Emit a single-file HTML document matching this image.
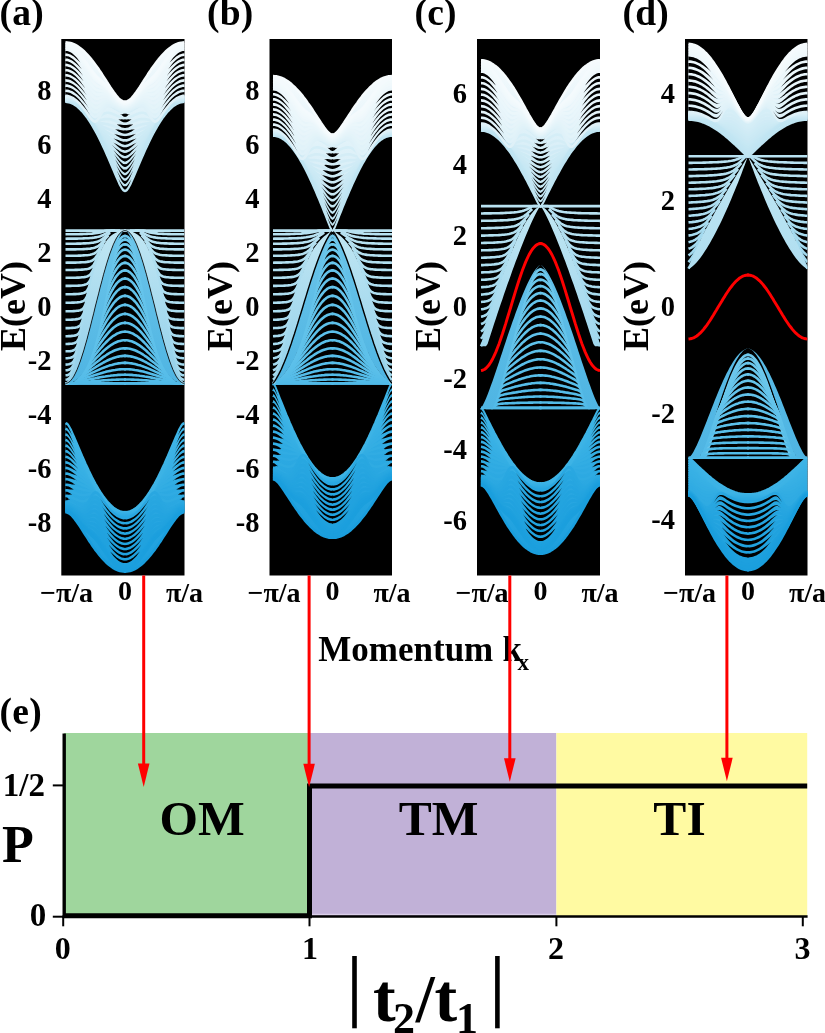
<!DOCTYPE html>
<html><head><meta charset="utf-8"><title>Band structures and phase diagram</title>
<style>html,body{margin:0;padding:0;background:#fff;width:825px;height:1033px;overflow:hidden}svg{display:block}</style>
</head><body>
<svg width="825" height="1033" viewBox="0 0 825 1033">
<style>
text{font-family:"Liberation Serif","Times New Roman",serif;font-weight:bold;fill:#000}
.lab{font-size:37.5px;letter-spacing:0.3px}
.tk{font-size:28.5px}
.xt{font-size:28px}
.el{font-size:36px}
</style>
<rect x="61.3" y="39.0" width="123.2" height="536.5" fill="#000"/>
<clipPath id="cla"><rect x="61.3" y="39.0" width="123.2" height="536.5"/></clipPath>
<linearGradient id="gia" gradientUnits="userSpaceOnUse" x1="0" y1="230.6" x2="0" y2="383.4"><stop offset="0" stop-color="#6cc5ea"/><stop offset="1" stop-color="#4fb5e3"/></linearGradient>
<linearGradient id="goa" gradientUnits="userSpaceOnUse" x1="0" y1="230.6" x2="0" y2="383.4"><stop offset="0" stop-color="#c0e6f3"/><stop offset="1" stop-color="#93d0ea"/></linearGradient>
<linearGradient id="gta" gradientUnits="userSpaceOnUse" x1="0" y1="42.4" x2="0" y2="190.9"><stop offset="0" stop-color="#f6fbfd"/><stop offset="1" stop-color="#c6e7f4"/></linearGradient>
<linearGradient id="gba" gradientUnits="userSpaceOnUse" x1="0" y1="423.1" x2="0" y2="571.6"><stop offset="0" stop-color="#3bb2e5"/><stop offset="1" stop-color="#1c9fde"/></linearGradient>
<g clip-path="url(#cla)">
<g id="ha" fill="none" stroke-width="2.6" stroke-linejoin="round">
<path d="M184.5 423.1 182.8 424 181.2 426.3 179.5 429.4 177.9 433 176.2 436.7 174.6 440.6 172.9 444.5 171.3 448.3 169.6 452.2 168 456 166.3 459.8 164.7 463.5 163 467.1 161.4 470.6 159.7 474 158.1 477.3 156.4 480.5 154.8 483.6 153.1 486.5 151.4 489.3 149.8 492 148.1 494.5 146.5 496.9 144.8 499.1 143.2 501.1 141.5 503 139.9 504.7 138.2 506.3 136.6 507.7 134.9 508.9 133.3 509.9 131.6 510.7 130 511.4 128.3 511.8 126.7 512.1 125 512.2 124.5 512.2 124.5 571.6 125 571.6 126.7 571.5 128.3 571.3 130 570.9 131.6 570.4 133.3 569.8 134.9 569 136.6 568.1 138.2 567 139.9 565.8 141.5 564.5 143.2 563 144.8 561.4 146.5 559.7 148.1 557.9 149.8 556 151.4 553.9 153.1 551.8 154.8 549.6 156.4 547.3 158.1 544.9 159.7 542.4 161.4 539.9 163 537.4 164.7 534.8 166.3 532.2 168 529.6 169.6 527.1 171.3 524.6 172.9 522.2 174.6 519.9 176.2 517.8 177.9 515.9 179.5 514.4 181.2 513.2 182.8 512.5 184.5 512.2Z" fill="url(#gba)" stroke="none"/>
<path d="M124 512.1l1 .1 1.7 -.1 1.6 -.3 1.7 -.4 1.6 -.7 1.7 -.8 1.6 -1 1.7 -1.2 1.6 -1.4 1.7 -1.6 1.6 -1.7 1.7 -1.9 1.6 -2 1.7 -2.2 1.6 -2.4 1.7 -2.5 1.6 -2.7 1.7 -2.8 1.7 -2.9 1.6 -3.1 1.7 -3.2 1.6 -3.3 1.7 -3.4 1.6 -3.5 1.7 -3.6 1.6 -3.7 1.7 -3.8 1.6 -3.8 1.7 -3.9 1.6 -3.8 1.7 -3.9 1.6 -3.9 1.7 -3.7 1.6 -3.6 1.7 -3.1 1.6 -2.3 1.7 -.9" stroke="#3eb4e6"/>
<path d="M124 512.5l1 0 1.7 0 1.6 -.2 1.7 -.3 1.6 -.5 1.7 -.6 1.6 -.7 1.7 -.9 1.6 -1.1 1.7 -1.2 1.6 -1.4 1.7 -1.7 1.6 -1.8 1.7 -2 1.6 -2.1 1.7 -2.4 1.6 -2.5 1.7 -2.7 1.7 -2.9 1.6 -3 1.7 -3.1 1.6 -3.3 1.7 -3.3 1.6 -3.5 1.7 -3.5 1.6 -3.7 1.7 -3.7 1.6 -3.7 1.7 -3.8 1.6 -3.8 1.7 -3.8 1.6 -3.7 1.7 -3.6 1.6 -3.4 1.7 -3 1.6 -2.1 1.7 -.8" stroke="#3db3e6"/>
<path d="M124 512.8l1 .1 1.7 -.1 1.6 -.1 1.7 -.2 1.6 -.3 1.7 -.4 1.6 -.5 1.7 -.7 1.6 -.9 1.7 -1 1.6 -1.2 1.7 -1.5 1.6 -1.6 1.7 -1.8 1.6 -2.1 1.7 -2.2 1.6 -2.5 1.7 -2.6 1.7 -2.8 1.6 -2.9 1.7 -3.1 1.6 -3.2 1.7 -3.3 1.6 -3.4 1.7 -3.5 1.6 -3.5 1.7 -3.6 1.6 -3.6 1.7 -3.6 1.6 -3.6 1.7 -3.5 1.6 -3.5 1.7 -3.4 1.6 -3.1 1.7 -2.7 1.6 -1.9 1.7 -.7" stroke="#3cb3e5"/>
<path d="M124 513.2l1 0 1.7 0 1.6 -.1 1.7 -.2 1.6 -.2 1.7 -.3 1.6 -.5 1.7 -.6 1.6 -.7 1.7 -1 1.6 -1.1 1.7 -1.3 1.6 -1.6 1.7 -1.8 1.6 -2 1.7 -2.2 1.6 -2.4 1.7 -2.5 1.7 -2.8 1.6 -2.9 1.7 -3 1.6 -3.2 1.7 -3.2 1.6 -3.3 1.7 -3.3 1.6 -3.3 1.7 -3.4 1.6 -3.3 1.7 -3.3 1.6 -3.3 1.7 -3.2 1.6 -3 1.7 -3 1.6 -2.7 1.7 -2.3 1.6 -1.7 1.7 -.6" stroke="#3bb2e5"/>
<path d="M124 513.5l1 0 1.7 0 1.6 -.1 1.7 -.1 1.6 -.3 1.7 -.3 1.6 -.5 1.7 -.6 1.6 -.7 1.7 -1 1.6 -1.1 1.7 -1.4 1.6 -1.5 1.7 -1.8 1.6 -2 1.7 -2.2 1.6 -2.4 1.7 -2.6 1.7 -2.8 1.6 -2.9 1.7 -3 1.6 -3 1.7 -3.1 1.6 -3.1 1.7 -3.1 1.6 -3 1.7 -3 1.6 -3 1.7 -2.8 1.6 -2.8 1.7 -2.7 1.6 -2.6 1.7 -2.5 1.6 -2.2 1.7 -2 1.6 -1.3 1.7 -.5" stroke="#39b1e5"/>
<path d="M124 513.8l1 0 1.7 0 1.6 -.1 1.7 -.1 1.6 -.3 1.7 -.3 1.6 -.5 1.7 -.6 1.6 -.7 1.7 -1 1.6 -1.1 1.7 -1.4 1.6 -1.5 1.7 -1.8 1.6 -2 1.7 -2.3 1.6 -2.4 1.7 -2.6 1.7 -2.7 1.6 -2.9 1.7 -2.9 1.6 -2.9 1.7 -3 1.6 -2.8 1.7 -2.8 1.6 -2.8 1.7 -2.6 1.6 -2.5 1.7 -2.5 1.6 -2.3 1.7 -2.2 1.6 -2.2 1.7 -2 1.6 -1.8 1.7 -1.6 1.6 -1.1 1.7 -.4" stroke="#38b0e5"/>
<path d="M124 514.2l1 0 1.7 0 1.6 -.1 1.7 -.2 1.6 -.2 1.7 -.4 1.6 -.4 1.7 -.6 1.6 -.8 1.7 -1 1.6 -1.1 1.7 -1.4 1.6 -1.6 1.7 -1.8 1.6 -2 1.7 -2.2 1.6 -2.4 1.7 -2.6 1.7 -2.7 1.6 -2.9 1.7 -2.8 1.6 -2.8 1.7 -2.7 1.6 -2.6 1.7 -2.4 1.6 -2.4 1.7 -2.2 1.6 -2.2 1.7 -2 1.6 -1.9 1.7 -1.8 1.6 -1.7 1.7 -1.7 1.6 -1.4 1.7 -1.3 1.6 -.9 1.7 -.3" stroke="#37b0e4"/>
<path d="M124 514.5l1 0 1.7 0 1.6 -.1 1.7 -.2 1.6 -.2 1.7 -.4 1.6 -.4 1.7 -.6 1.6 -.8 1.7 -1 1.6 -1.1 1.7 -1.4 1.6 -1.6 1.7 -1.8 1.6 -2 1.7 -2.2 1.6 -2.5 1.7 -2.6 1.7 -2.6 1.6 -2.8 1.7 -2.6 1.6 -2.6 1.7 -2.4 1.6 -2.3 1.7 -2.1 1.6 -2 1.7 -1.8 1.6 -1.7 1.7 -1.6 1.6 -1.6 1.7 -1.4 1.6 -1.4 1.7 -1.3 1.6 -1.2 1.7 -.9 1.6 -.7 1.7 -.3" stroke="#36afe4"/>
<path d="M124 514.8l1 0 1.7 0 1.6 -.1 1.7 -.1 1.6 -.3 1.7 -.3 1.6 -.5 1.7 -.6 1.6 -.8 1.7 -1 1.6 -1.1 1.7 -1.4 1.6 -1.6 1.7 -1.8 1.6 -2 1.7 -2.3 1.6 -2.4 1.7 -2.6 1.7 -2.6 1.6 -2.6 1.7 -2.5 1.6 -2.2 1.7 -2.1 1.6 -1.9 1.7 -1.6 1.6 -1.6 1.7 -1.4 1.6 -1.4 1.7 -1.2 1.6 -1.2 1.7 -1.1 1.6 -1.1 1.7 -1 1.6 -1 1.7 -.7 1.6 -.6 1.7 -.2" stroke="#35aee4"/>
<path d="M124 515.2l1 0 1.7 -.1 1.6 -.1 1.7 -.1 1.6 -.3 1.7 -.3 1.6 -.5 1.7 -.6 1.6 -.8 1.7 -1 1.6 -1.1 1.7 -1.4 1.6 -1.6 1.7 -1.8 1.6 -2.1 1.7 -2.2 1.6 -2.4 1.7 -2.5 1.7 -2.6 1.6 -2.4 1.7 -2.2 1.6 -1.9 1.7 -1.6 1.6 -1.4 1.7 -1.2 1.6 -1.1 1.7 -1.1 1.6 -1 1.7 -.9 1.6 -.9 1.7 -.9 1.6 -.8 1.7 -.8 1.6 -.8 1.7 -.6 1.6 -.4 1.7 -.2" stroke="#34aee3"/>
<path d="M124 515.5l1 0 1.7 0 1.6 -.1 1.7 -.2 1.6 -.2 1.7 -.4 1.6 -.5 1.7 -.6 1.6 -.8 1.7 -1 1.6 -1.1 1.7 -1.4 1.6 -1.6 1.7 -1.9 1.6 -2 1.7 -2.2 1.6 -2.4 1.7 -2.5 1.7 -2.3 1.6 -2.2 1.7 -1.8 1.6 -1.4 1.7 -1.1 1.6 -.9 1.7 -.7 1.6 -.7 1.7 -.6 1.6 -.7 1.7 -.7 1.6 -.7 1.7 -.7 1.6 -.7 1.7 -.6 1.6 -.7 1.7 -.5 1.6 -.4 1.7 -.1" stroke="#32ade3"/>
<path d="M124 515.8l1 0 1.7 0 1.6 -.1 1.7 -.2 1.6 -.2 1.7 -.4 1.6 -.5 1.7 -.6 1.6 -.8 1.7 -1 1.6 -1.1 1.7 -1.4 1.6 -1.7 1.7 -1.8 1.6 -2 1.7 -2.3 1.6 -2.3 1.7 -2.3 1.7 -2.1 1.6 -1.8 1.7 -1.3 1.6 -.8 1.7 -.5 1.6 -.2 1.7 -.3 1.6 -.2 1.7 -.4 1.6 -.4 1.7 -.5 1.6 -.6 1.7 -.6 1.6 -.6 1.7 -.6 1.6 -.6 1.7 -.4 1.6 -.4 1.7 -.1" stroke="#31ace3"/>
<path d="M124 516.1l1 .1 1.7 -.1 1.6 -.1 1.7 -.1 1.6 -.3 1.7 -.4 1.6 -.4 1.7 -.7 1.6 -.8 1.7 -1 1.6 -1.1 1.7 -1.4 1.6 -1.7 1.7 -1.8 1.6 -2 1.7 -2.2 1.6 -2.3 1.7 -2.1 1.7 -1.8 1.6 -1.2 1.7 -.6 1.6 -.1 1.7 .3 1.6 .3 1.7 .3 1.6 .1 1.7 -.1 1.6 -.2 1.7 -.5 1.6 -.5 1.7 -.6 1.6 -.6 1.7 -.7 1.6 -.6 1.7 -.4 1.6 -.4 1.7 -.1" stroke="#30abe3"/>
<path d="M124 516.5l1 0 1.7 0 1.6 -.1 1.7 -.2 1.6 -.3 1.7 -.3 1.6 -.5 1.7 -.7 1.6 -.8 1.7 -1 1.6 -1.2 1.7 -1.4 1.6 -1.6 1.7 -1.8 1.6 -2.1 1.7 -2.1 1.6 -2.1 1.7 -1.9 1.7 -1.2 1.6 -.5 1.7 .3 1.6 .8 1.7 1.2 1.6 1 1.7 .8 1.6 .4 1.7 0 1.6 -.3 1.7 -.5 1.6 -.6 1.7 -.7 1.6 -.8 1.7 -.7 1.6 -.7 1.7 -.5 1.6 -.4 1.7 -.1" stroke="#2fabe2"/>
<path d="M124 516.8l1 0 1.7 0 1.6 -.1 1.7 -.2 1.6 -.2 1.7 -.4 1.6 -.5 1.7 -.6 1.6 -.9 1.7 -1 1.6 -1.1 1.7 -1.5 1.6 -1.6 1.7 -1.8 1.6 -2 1.7 -2.1 1.6 -1.9 1.7 -1.4 1.7 -.6 1.6 .5 1.7 1.4 1.6 1.9 1.7 2 1.6 1.7 1.7 1.2 1.6 .6 1.7 0 1.6 -.4 1.7 -.6 1.6 -.9 1.7 -.9 1.6 -1 1.7 -.9 1.6 -.8 1.7 -.6 1.6 -.4 1.7 -.2" stroke="#2eaae2"/>
<path d="M124 517.1l1 .1 1.7 -.1 1.6 -.1 1.7 -.2 1.6 -.2 1.7 -.4 1.6 -.5 1.7 -.6 1.6 -.8 1.7 -1 1.6 -1.2 1.7 -1.4 1.6 -1.6 1.7 -1.9 1.6 -2 1.7 -2 1.6 -1.9 1.7 -1.4 1.7 -.6 1.6 .5 1.7 1.4 1.6 2 1.7 2 1.6 1.7 1.7 1.2 1.6 .6 1.7 0 1.6 -.3 1.7 -.7 1.6 -.8 1.7 -.9 1.6 -1 1.7 -.9 1.6 -.8 1.7 -.6 1.6 -.4 1.7 -.2" stroke="#2da9e2"/>
<path d="M124 517.5l1 0 1.7 -.1 1.6 0 1.7 -.2 1.6 -.3 1.7 -.3 1.6 -.5 1.7 -.7 1.6 -.8 1.7 -1 1.6 -1.2 1.7 -1.4 1.6 -1.6 1.7 -1.8 1.6 -2 1.7 -2.1 1.6 -1.9 1.7 -1.4 1.7 -.5 1.6 .5 1.7 1.4 1.6 2 1.7 2 1.6 1.8 1.7 1.2 1.6 .6 1.7 0 1.6 -.3 1.7 -.6 1.6 -.9 1.7 -.9 1.6 -.9 1.7 -.9 1.6 -.8 1.7 -.6 1.6 -.4 1.7 -.1" stroke="#2ba9e1"/>
<path d="M124 517.8l1 0 1.7 0 1.6 -.1 1.7 -.2 1.6 -.2 1.7 -.4 1.6 -.5 1.7 -.6 1.6 -.8 1.7 -1 1.6 -1.2 1.7 -1.4 1.6 -1.6 1.7 -1.9 1.6 -2 1.7 -2 1.6 -1.9 1.7 -1.4 1.7 -.5 1.6 .5 1.7 1.4 1.6 2 1.7 2.1 1.6 1.8 1.7 1.2 1.6 .6 1.7 .1 1.6 -.4 1.7 -.6 1.6 -.8 1.7 -.9 1.6 -.9 1.7 -.9 1.6 -.8 1.7 -.6 1.6 -.4 1.7 -.1" stroke="#2aa8e1"/>
<path d="M124 518.1l1 0 1.7 -.1 1.6 -.3 1.7 -.5 1.6 -.8 1.7 -.9 1.6 -1.2 1.7 -1.3 1.6 -1.5 1.7 -1.7 1.6 -1.9 1.7 -2.1 1.6 -2.2 1.7 -2.4 1.6 -2.4 1.7 -2.5 1.6 -2.1 1.7 -1.5 1.7 -.3 1.6 1 1.7 2.1 1.6 2.9 1.7 3 1.6 2.6 1.7 2 1.6 1.2 1.7 .7 1.6 .1 1.7 -.2 1.6 -.4 1.7 -.6 1.6 -.7 1.7 -.6 1.6 -.6 1.7 -.5 1.6 -.3 1.7 -.1" stroke="#29a7e1"/>
<path d="M124 523.2l1 .1 1.7 -.1 1.6 -.4 1.7 -.5 1.6 -.8 1.7 -1 1.6 -1.1 1.7 -1.4 1.6 -1.6 1.7 -1.7 1.6 -1.9 1.7 -2.1 1.6 -2.2 1.7 -2.4 1.6 -2.5 1.7 -2.4 1.6 -2.1 1.7 -1.6 1.7 -.5 1.6 .7 1.7 1.8 1.6 2.4 1.7 2.6 1.6 2.2 1.7 1.6 1.6 .9 1.7 .4 1.6 -.1 1.7 -.4 1.6 -.6 1.7 -.7 1.6 -.7 1.7 -.8 1.6 -.6 1.7 -.6 1.6 -.3 1.7 -.1" stroke="#28a7e0"/>
<path d="M124 528.4l1 0 1.7 -.1 1.6 -.3 1.7 -.6 1.6 -.8 1.7 -1 1.6 -1.2 1.7 -1.5 1.6 -1.5 1.7 -1.8 1.6 -2 1.7 -2 1.6 -2.3 1.7 -2.3 1.6 -2.5 1.7 -2.4 1.6 -2.2 1.7 -1.6 1.7 -.6 1.6 .4 1.7 1.4 1.6 2 1.7 2.1 1.6 1.7 1.7 1.3 1.6 .6 1.7 .1 1.6 -.3 1.7 -.5 1.6 -.8 1.7 -.9 1.6 -.8 1.7 -.9 1.6 -.7 1.7 -.6 1.6 -.4 1.7 -.1" stroke="#27a6e0"/>
<path d="M124 533.5l1 .1 1.7 -.1 1.6 -.4 1.7 -.6 1.6 -.8 1.7 -1.1 1.6 -1.2 1.7 -1.5 1.6 -1.6 1.7 -1.8 1.6 -2 1.7 -2.1 1.6 -2.2 1.7 -2.4 1.6 -2.4 1.7 -2.4 1.6 -2.2 1.7 -1.7 1.7 -.8 1.6 .1 1.7 1.1 1.6 1.5 1.7 1.7 1.6 1.3 1.7 .9 1.6 .3 1.7 -.1 1.6 -.5 1.7 -.8 1.6 -.9 1.7 -1 1.6 -1 1.7 -1 1.6 -.8 1.7 -.6 1.6 -.4 1.7 -.2" stroke="#26a5e0"/>
<path d="M124 538.7l1 0 1.7 -.1 1.6 -.4 1.7 -.6 1.6 -.9 1.7 -1 1.6 -1.3 1.7 -1.5 1.6 -1.7 1.7 -1.8 1.6 -2 1.7 -2.1 1.6 -2.2 1.7 -2.4 1.6 -2.4 1.7 -2.4 1.6 -2.2 1.7 -1.8 1.7 -1 1.6 -.1 1.7 .6 1.6 1.2 1.7 1.2 1.6 .9 1.7 .5 1.6 0 1.7 -.4 1.6 -.7 1.7 -1 1.6 -1.1 1.7 -1.1 1.6 -1.1 1.7 -1.1 1.6 -.9 1.7 -.7 1.6 -.4 1.7 -.2" stroke="#24a4e0"/>
<path d="M124 543.8l1 .1 1.7 -.2 1.6 -.3 1.7 -.7 1.6 -.9 1.7 -1.1 1.6 -1.3 1.7 -1.5 1.6 -1.7 1.7 -1.9 1.6 -2 1.7 -2.1 1.6 -2.3 1.7 -2.3 1.6 -2.4 1.7 -2.4 1.6 -2.2 1.7 -1.9 1.7 -1.1 1.6 -.4 1.7 .2 1.6 .7 1.7 .7 1.6 .6 1.7 .1 1.6 -.3 1.7 -.7 1.6 -.9 1.7 -1.2 1.6 -1.2 1.7 -1.3 1.6 -1.2 1.7 -1.1 1.6 -1 1.7 -.8 1.6 -.5 1.7 -.1" stroke="#23a4df"/>
<path d="M124 548.9l1 .1 1.7 -.1 1.6 -.4 1.7 -.7 1.6 -.9 1.7 -1.1 1.6 -1.4 1.7 -1.6 1.6 -1.7 1.7 -1.9 1.6 -2 1.7 -2.1 1.6 -2.3 1.7 -2.3 1.6 -2.4 1.7 -2.4 1.6 -2.3 1.7 -1.9 1.7 -1.3 1.6 -.7 1.7 -.1 1.6 .3 1.7 .2 1.6 .1 1.7 -.2 1.6 -.6 1.7 -.9 1.6 -1.2 1.7 -1.3 1.6 -1.4 1.7 -1.4 1.6 -1.4 1.7 -1.2 1.6 -1.1 1.7 -.8 1.6 -.5 1.7 -.2" stroke="#22a3df"/>
<path d="M124 554.1l1 .1 1.7 -.2 1.6 -.4 1.7 -.7 1.6 -.9 1.7 -1.2 1.6 -1.4 1.7 -1.6 1.6 -1.8 1.7 -1.9 1.6 -2 1.7 -2.2 1.6 -2.2 1.7 -2.4 1.6 -2.3 1.7 -2.4 1.6 -2.3 1.7 -2 1.7 -1.5 1.6 -.9 1.7 -.5 1.6 -.2 1.7 -.2 1.6 -.3 1.7 -.6 1.6 -.9 1.7 -1.2 1.6 -1.4 1.7 -1.5 1.6 -1.6 1.7 -1.5 1.6 -1.5 1.7 -1.3 1.6 -1.2 1.7 -.8 1.6 -.6 1.7 -.2" stroke="#21a2df"/>
<path d="M124 559.2l1 .1 1.7 -.1 1.6 -.5 1.7 -.7 1.6 -.9 1.7 -1.3 1.6 -1.4 1.7 -1.6 1.6 -1.8 1.7 -2 1.6 -2 1.7 -2.2 1.6 -2.3 1.7 -2.3 1.6 -2.4 1.7 -2.3 1.6 -2.3 1.7 -2.1 1.7 -1.6 1.6 -1.3 1.7 -.8 1.6 -.7 1.7 -.6 1.6 -.7 1.7 -1 1.6 -1.2 1.7 -1.5 1.6 -1.6 1.7 -1.7 1.6 -1.7 1.7 -1.7 1.6 -1.6 1.7 -1.4 1.6 -1.2 1.7 -1 1.6 -.5 1.7 -.2" stroke="#20a2de"/>
<path d="M124 564.4l1 .1 1.7 -.2 1.6 -.4 1.7 -.8 1.6 -1 1.7 -1.2 1.6 -1.5 1.7 -1.7 1.6 -1.8 1.7 -2 1.6 -2 1.7 -2.2 1.6 -2.3 1.7 -2.3 1.6 -2.4 1.7 -2.3 1.6 -2.3 1.7 -2.2 1.7 -1.8 1.6 -1.5 1.7 -1.3 1.6 -1 1.7 -1.1 1.6 -1.1 1.7 -1.4 1.6 -1.5 1.7 -1.7 1.6 -1.9 1.7 -1.8 1.6 -1.9 1.7 -1.9 1.6 -1.7 1.7 -1.5 1.6 -1.3 1.7 -1 1.6 -.6 1.7 -.2" stroke="#1fa1de"/>
<path d="M124 566.2l1 .1 1.7 -.2 1.6 -.5 1.7 -.7 1.6 -1 1.7 -1.3 1.6 -1.5 1.7 -1.6 1.6 -1.9 1.7 -2 1.6 -2.1 1.7 -2.1 1.6 -2.3 1.7 -2.3 1.6 -2.4 1.7 -2.3 1.6 -2.3 1.7 -2.2 1.7 -1.9 1.6 -1.6 1.7 -1.3 1.6 -1.2 1.7 -1.1 1.6 -1.3 1.7 -1.5 1.6 -1.6 1.7 -1.8 1.6 -1.8 1.7 -2 1.6 -1.9 1.7 -1.8 1.6 -1.8 1.7 -1.5 1.6 -1.3 1.7 -1 1.6 -.7 1.7 -.2" stroke="#1da0de"/>
<path d="M124 567.9l1 .1 1.7 -.1 1.6 -.5 1.7 -.7 1.6 -1.1 1.7 -1.2 1.6 -1.5 1.7 -1.7 1.6 -1.9 1.7 -2 1.6 -2.1 1.7 -2.2 1.6 -2.2 1.7 -2.3 1.6 -2.4 1.7 -2.3 1.6 -2.3 1.7 -2.2 1.7 -2 1.6 -1.6 1.7 -1.4 1.6 -1.3 1.7 -1.3 1.6 -1.4 1.7 -1.5 1.6 -1.7 1.7 -1.9 1.6 -1.9 1.7 -2 1.6 -2 1.7 -1.8 1.6 -1.8 1.7 -1.6 1.6 -1.3 1.7 -1 1.6 -.6 1.7 -.3" stroke="#1c9fde"/>
<path d="M124 569.7l1 .1 1.7 -.1 1.6 -.5 1.7 -.8 1.6 -1 1.7 -1.3 1.6 -1.5 1.7 -1.7 1.6 -1.9 1.7 -2 1.6 -2.1 1.7 -2.2 1.6 -2.2 1.7 -2.3 1.6 -2.4 1.7 -2.3 1.6 -2.4 1.7 -2.1 1.7 -2 1.6 -1.8 1.7 -1.5 1.6 -1.4 1.7 -1.4 1.6 -1.5 1.7 -1.6 1.6 -1.8 1.7 -1.9 1.6 -2 1.7 -2 1.6 -2 1.7 -1.9 1.6 -1.8 1.7 -1.6 1.6 -1.3 1.7 -1.1 1.6 -.6 1.7 -.2" stroke="#1b9fdd"/>
<path d="M124 571.6l1 0 1.7 -.1 1.6 -.2 1.7 -.4 1.6 -.5 1.7 -.6 1.6 -.8 1.7 -.9 1.6 -1.1 1.7 -1.2 1.6 -1.3 1.7 -1.5 1.6 -1.6 1.7 -1.7 1.6 -1.8 1.7 -1.9 1.6 -2.1 1.7 -2.1 1.7 -2.2 1.6 -2.3 1.7 -2.4 1.6 -2.5 1.7 -2.5 1.6 -2.5 1.7 -2.6 1.6 -2.6 1.7 -2.6 1.6 -2.5 1.7 -2.5 1.6 -2.4 1.7 -2.3 1.6 -2.1 1.7 -1.9 1.6 -1.5 1.7 -1.2 1.6 -.7 1.7 -.3" stroke="#1a9edd"/>
<path d="M124 236.2l1 -.3 1.7 .4 1.6 1.1 1.7 1.9 1.6 3 1.7 4.6 1.6 5.8" stroke="#6ec8ec"/>
<path d="M124 239.8l1 -.2 1.7 .3 1.6 .9 1.7 1.6 1.6 2.4 1.7 3.4 1.6 5 1.7 6.5 1.6 7.3" stroke="#6dc7ec"/>
<path d="M124 244.4l1 -.2 1.7 .3 1.6 .9 1.7 1.4 1.6 2.1 1.7 2.7 1.6 3.6 1.7 5.2 1.6 6.9 1.7 7.7" stroke="#6bc7ec"/>
<path d="M124 249.8l1 -.1 1.7 .2 1.6 .8 1.7 1.4 1.6 1.9 1.7 2.5 1.6 3 1.7 3.7 1.6 5.1 1.7 7 1.6 7.9 1.7 8.3" stroke="#6ac6eb"/>
<path d="M124 256.1l1 -.2 1.7 .3 1.6 .7 1.7 1.3 1.6 1.8 1.7 2.2 1.6 2.8 1.7 3.2 1.6 3.9 1.7 4.9 1.6 6.7 1.7 8 1.6 8.1" stroke="#68c5eb"/>
<path d="M124 263l1 -.2 1.7 .3 1.6 .7 1.7 1.2 1.6 1.6 1.7 2.1 1.6 2.6 1.7 2.9 1.6 3.4 1.7 3.9 1.6 4.6 1.7 6.3 1.6 7.7 1.7 7.9" stroke="#67c5eb"/>
<path d="M124 270.5l1 -.1 1.7 .2 1.6 .7 1.7 1.1 1.6 1.5 1.7 1.9 1.6 2.3 1.7 2.8 1.6 3 1.7 3.5 1.6 3.9 1.7 4.3 1.6 5.6 1.7 7.2 1.6 7.6 1.7 7.4" stroke="#65c4eb"/>
<path d="M124 278.6l1 -.1 1.7 .2 1.6 .6 1.7 1 1.6 1.4 1.7 1.7 1.6 2.1 1.7 2.5 1.6 2.8 1.7 3.1 1.6 3.5 1.7 3.7 1.6 4.2 1.7 4.9 1.6 6.4 1.7 7.1 1.6 6.9" stroke="#64c3eb"/>
<path d="M124 287.1l1 -.1 1.7 .2 1.6 .5 1.7 .9 1.6 1.3 1.7 1.5 1.6 1.9 1.7 2.3 1.6 2.5 1.7 2.8 1.6 3.1 1.7 3.3 1.6 3.6 1.7 3.8 1.6 4.4 1.7 5.5 1.6 6.4 1.7 6.4" stroke="#63c3ea"/>
<path d="M124 295.9l1 -.1 1.7 .2 1.6 .5 1.7 .8 1.6 1.1 1.7 1.4 1.6 1.7 1.7 1.9 1.6 2.3 1.7 2.5 1.6 2.7 1.7 2.9 1.6 3.2 1.7 3.3 1.6 3.6 1.7 3.9 1.6 4.5 1.7 5.6 1.7 5.8 1.6 5.4" stroke="#61c2ea"/>
<path d="M124 304.9l1 -.1 1.7 .2 1.6 .4 1.7 .7 1.6 .9 1.7 1.3 1.6 1.5 1.7 1.7 1.6 2 1.7 2.2 1.6 2.4 1.7 2.5 1.6 2.8 1.7 2.9 1.6 3.1 1.7 3.2 1.6 3.4 1.7 3.8 1.7 4.6 1.6 5.1 1.7 4.8" stroke="#60c1ea"/>
<path d="M124 314l1 -.1 1.7 .1 1.6 .4 1.7 .6 1.6 .8 1.7 1.1 1.6 1.3 1.7 1.5 1.6 1.7 1.7 1.9 1.6 2.1 1.7 2.2 1.6 2.4 1.7 2.5 1.6 2.6 1.7 2.7 1.6 2.9 1.7 2.9 1.7 3.3 1.6 3.7 1.7 4.3 1.6 4.2 1.7 3.9" stroke="#5ec1ea"/>
<path d="M124 322.9l1 0 1.7 .1 1.6 .3 1.7 .5 1.6 .7 1.7 .9 1.6 1.1 1.7 1.3 1.6 1.5 1.7 1.6 1.6 1.8 1.7 1.9 1.6 2 1.7 2.1 1.6 2.2 1.7 2.3 1.6 2.4 1.7 2.5 1.7 2.5 1.6 2.7 1.7 3.1 1.6 3.4 1.7 3.6 1.6 3.3" stroke="#5dc0ea"/>
<path d="M124 331.7l1 0 1.7 .1 1.6 .2 1.7 .5 1.6 .6 1.7 .7 1.6 1 1.7 1 1.6 1.2 1.7 1.4 1.6 1.5 1.7 1.6 1.6 1.7 1.7 1.7 1.6 1.9 1.7 1.9 1.6 2 1.7 2 1.7 2.1 1.6 2.1 1.7 2.3 1.6 2.4 1.7 2.7 1.6 2.9 1.7 2.8 1.6 2.6" stroke="#5bbfea"/>
<path d="M124 340.3l1 -.1 1.7 .1 1.6 .2 1.7 .4 1.6 .4 1.7 .7 1.6 .7 1.7 .9 1.6 1 1.7 1.1 1.6 1.2 1.7 1.3 1.6 1.4 1.7 1.4 1.6 1.6 1.7 1.5 1.6 1.7 1.7 1.6 1.7 1.7 1.6 1.7 1.7 1.7 1.6 1.8 1.7 2 1.6 2.1 1.7 2.3 1.6 2.3 1.7 2.1" stroke="#5abfe9"/>
<path d="M124 348.4l1 -.1 1.7 .1 1.6 .1 1.7 .3 1.6 .4 1.7 .5 1.6 .6 1.7 .7 1.6 .8 1.7 .9 1.6 .9 1.7 1.1 1.6 1.1 1.7 1.1 1.6 1.2 1.7 1.3 1.6 1.3 1.7 1.3 1.7 1.3 1.6 1.4 1.7 1.3 1.6 1.4 1.7 1.4 1.6 1.5 1.7 1.7 1.6 1.7 1.7 1.9 1.6 1.7 1.7 1.5" stroke="#59bee9"/>
<path d="M124 355.9l1 0 1.7 0 1.6 .2 1.7 .2 1.6 .3 1.7 .4 1.6 .4 1.7 .6 1.6 .6 1.7 .7 1.6 .7 1.7 .8 1.6 .8 1.7 .9 1.6 1 1.7 .9 1.6 1 1.7 1 1.7 1.1 1.6 1 1.7 1 1.6 1.1 1.7 1 1.6 1.1 1.7 1.2 1.6 1.2 1.7 1.3 1.6 1.4 1.7 1.4 1.6 1.2" stroke="#57bde9"/>
<path d="M124 362.9l1 0 1.7 0 1.6 .1 1.7 .2 1.6 .2 1.7 .3 1.6 .3 1.7 .4 1.6 .5 1.7 .4 1.6 .6 1.7 .6 1.6 .6 1.7 .7 1.6 .6 1.7 .7 1.6 .8 1.7 .7 1.7 .8 1.6 .7 1.7 .8 1.6 .8 1.7 .7 1.6 .8 1.7 .8 1.6 .8 1.7 .9 1.6 1 1.7 1.1 1.6 1 1.7 .9" stroke="#56bde9"/>
<path d="M124 369.2l1 0 1.7 0 1.6 .1 1.7 .1 1.6 .1 1.7 .2 1.6 .3 1.7 .2 1.6 .3 1.7 .4 1.6 .3 1.7 .4 1.6 .5 1.7 .4 1.6 .5 1.7 .5 1.6 .5 1.7 .5 1.7 .5 1.6 .5 1.7 .5 1.6 .6 1.7 .5 1.6 .5 1.7 .6 1.6 .5 1.7 .6 1.6 .7 1.7 .7 1.6 .7 1.7 .8 1.6 .7 1.7 .5" stroke="#54bce9"/>
<path d="M124 374.7l1 0 1.7 0 1.6 .1 1.7 .1 1.6 0 1.7 .2 1.6 .1 1.7 .2 1.6 .1 1.7 .3 1.6 .2 1.7 .2 1.6 .3 1.7 .2 1.6 .3 1.7 .3 1.6 .3 1.7 .3 1.7 .4 1.6 .3 1.7 .3 1.6 .3 1.7 .3 1.6 .4 1.7 .3 1.6 .4 1.7 .3 1.6 .5 1.7 .4 1.6 .5 1.7 .5 1.6 .6 1.7 0 1.6 0" stroke="#53bbe8"/>
<path d="M124 379.5l1 0 1.7 0 1.6 0 1.7 0 1.6 .1 1.7 0 1.6 .1 1.7 .1 1.6 .1 1.7 .1 1.6 .1 1.7 .1 1.6 .1 1.7 .1 1.6 .1 1.7 .2 1.6 .1 1.7 .2 1.7 .1 1.6 .2 1.7 .1 1.6 .2 1.7 .1 1.6 .2 1.7 .2 1.6 .2 1.7 .2 1.6 .2 1.7 .3 1.6 .3 1.7 .1 1.6 0 1.7 0 1.6 0 1.7 0 1.6 0" stroke="#51bbe8"/>
<path d="M124 383.4l1 0 1.7 0 1.6 0 1.7 0 1.6 0 1.7 0 1.6 0 1.7 0 1.6 0 1.7 0 1.6 0 1.7 0 1.6 0 1.7 0 1.6 0 1.7 0 1.6 0 1.7 0 1.7 0 1.6 0 1.7 0 1.6 0 1.7 0 1.6 0 1.7 0 1.6 0 1.7 0 1.6 0 1.7 0 1.6 0 1.7 0 1.6 0 1.7 0 1.6 0 1.7 0 1.6 0 1.7 0" stroke="#50bae8"/>
<path d="M124 383.4l1 0 1.7 0 1.6 0 1.7 0 1.6 0 1.7 0 1.6 0 1.7 0 1.6 0 1.7 0 1.6 0 1.7 0 1.6 0 1.7 0 1.6 0 1.7 0 1.6 0 1.7 0 1.7 0 1.6 0 1.7 0 1.6 0 1.7 0 1.6 0 1.7 0 1.6 0 1.7 0 1.6 0 1.7 0 1.6 0 1.7 0 1.6 0 1.7 0 1.6 0 1.7 0 1.6 0 1.7 0" stroke="#50bae8"/>
<path d="M124 230.6l1 0 1.7 0 1.6 0 1.7 0 1.6 0 1.7 0 1.6 0 1.7 0 1.6 0 1.7 0 1.6 0 1.7 0 1.6 0 1.7 0 1.6 0 1.7 0 1.6 0 1.7 0 1.7 0 1.6 0 1.7 0 1.6 0 1.7 0 1.6 0 1.7 0 1.6 0 1.7 0 1.6 0 1.7 0 1.6 0 1.7 0 1.6 0 1.7 0 1.6 0 1.7 0 1.6 0 1.7 0" stroke="#b9e2f1"/>
<path d="M130 230.6l1.6 0 1.7 0 1.6 0 1.7 0 1.6 0 1.7 0 1.6 0 1.7 0 1.6 .2 1.7 .6 1.6 .5 1.7 .5 1.6 .3 1.7 .3 1.7 .2 1.6 .2 1.7 .2 1.6 .1 1.7 .1 1.6 .1 1.7 .1 1.6 0 1.7 .1 1.6 0 1.7 .1 1.6 0 1.7 0 1.6 0 1.7 0 1.6 .1 1.7 0 1.6 0 1.7 0" stroke="#b8e2f1"/>
<path d="M134.9 230.6l1.7 0 1.6 0 1.7 .5 1.6 .9 1.7 1 1.6 .9 1.7 .9 1.6 .8 1.7 .6 1.6 .5 1.7 .4 1.7 .3 1.6 .3 1.7 .2 1.6 .1 1.7 .2 1.6 .1 1.7 0 1.6 .1 1.7 .1 1.6 0 1.7 0 1.6 .1 1.7 0 1.6 0 1.7 0 1.6 0 1.7 0 1.6 0 1.7 .1" stroke="#b7e1f1"/>
<path d="M139.9 232.8l1.6 1.2 1.7 1.4 1.6 1.4 1.7 1.3 1.6 1.3 1.7 1 1.6 .8 1.7 .6 1.7 .4 1.6 .4 1.7 .2 1.6 .2 1.7 .2 1.6 .1 1.7 .1 1.6 0 1.7 .1 1.6 .1 1.7 0 1.6 0 1.7 .1 1.6 0 1.7 0 1.6 0 1.7 0 1.6 0 1.7 0" stroke="#b6e1f1"/>
<path d="M141.5 235.4l1.7 1.7 1.6 1.8 1.7 1.9 1.6 1.9 1.7 1.7 1.6 1.4 1.7 1 1.7 .7 1.6 .5 1.7 .3 1.6 .3 1.7 .2 1.6 .1 1.7 .1 1.6 .1 1.7 .1 1.6 .1 1.7 0 1.6 0 1.7 .1 1.6 0 1.7 0 1.6 0 1.7 0 1.6 0 1.7 0" stroke="#b5e0f0"/>
<path d="M144.8 240.2l1.7 2.3 1.6 2.5 1.7 2.6 1.6 2.3 1.7 1.8 1.7 1.3 1.6 .8 1.7 .5 1.6 .4 1.7 .3 1.6 .2 1.7 .1 1.6 .1 1.7 .1 1.6 .1 1.7 0 1.6 .1 1.7 0 1.6 0 1.7 0 1.6 .1 1.7 0 1.6 0 1.7 0" stroke="#b4e0f0"/>
<path d="M146.5 243.6l1.6 2.8 1.7 3.2 1.6 3.2 1.7 3 1.7 2.3 1.6 1.6 1.7 1 1.6 .6 1.7 .3 1.6 .3 1.7 .2 1.6 .1 1.7 .1 1.6 .1 1.7 .1 1.6 0 1.7 .1 1.6 0 1.7 0 1.6 0 1.7 0 1.6 0 1.7 .1" stroke="#b2dff0"/>
<path d="M149.8 250.7l1.6 3.7 1.7 3.9 1.7 3.7 1.6 3 1.7 1.9 1.6 1.1 1.7 .7 1.6 .4 1.7 .2 1.6 .2 1.7 .1 1.6 .1 1.7 .1 1.6 .1 1.7 0 1.6 .1 1.7 0 1.6 0 1.7 0 1.6 0 1.7 0" stroke="#b1dff0"/>
<path d="M151.4 255.3l1.7 4.3 1.7 4.6 1.6 4.5 1.7 3.6 1.6 2.3 1.7 1.2 1.6 .7 1.7 .4 1.6 .3 1.7 .1 1.6 .2 1.7 .1 1.6 0 1.7 .1 1.6 0 1.7 0 1.6 .1 1.7 0 1.6 0 1.7 0" stroke="#b0dff0"/>
<path d="M153.1 260.4l1.7 5 1.6 5.2 1.7 5.1 1.6 4.3 1.7 2.6 1.6 1.3 1.7 .7 1.6 .4 1.7 .3 1.6 .2 1.7 .1 1.6 .1 1.7 .1 1.6 0 1.7 0 1.6 .1 1.7 0 1.6 0 1.7 0" stroke="#afdef0"/>
<path d="M154.8 266l1.6 5.6 1.7 5.8 1.6 5.8 1.7 4.8 1.6 2.9 1.7 1.4 1.6 .7 1.7 .4 1.6 .3 1.7 .2 1.6 .1 1.7 .1 1.6 0 1.7 .1 1.6 0 1.7 0 1.6 0 1.7 0" stroke="#aedef0"/>
<path d="M156.4 272.1l1.7 6.2 1.6 6.5 1.7 6.3 1.6 5.2 1.7 3.1 1.6 1.5 1.7 .7 1.6 .4 1.7 .2 1.6 .2 1.7 .1 1.6 .1 1.7 0 1.6 .1 1.7 0 1.6 0 1.7 0" stroke="#adddf0"/>
<path d="M158.1 278.8l1.6 6.8 1.7 6.9 1.6 6.8 1.7 5.5 1.6 3.2 1.7 1.5 1.6 .7 1.7 .4 1.6 .2 1.7 .2 1.6 .1 1.7 .1 1.6 0 1.7 0 1.6 .1 1.7 0" stroke="#acddef"/>
<path d="M159.7 286l1.7 7.3 1.6 7.4 1.7 7 1.6 5.7 1.7 3.2 1.6 1.5 1.7 .7 1.6 .3 1.7 .3 1.6 .1 1.7 .1 1.6 .1 1.7 0 1.6 0 1.7 .1" stroke="#abdcef"/>
<path d="M161.4 293.8l1.6 7.6 1.7 7.7 1.6 7.3 1.7 5.7 1.6 3.1 1.7 1.3 1.6 .7 1.7 .4 1.6 .2 1.7 .1 1.6 .1 1.7 .1 1.6 0 1.7 0" stroke="#aadcef"/>
<path d="M163 301.9l1.7 8 1.6 7.9 1.7 7.3 1.6 5.5 1.7 2.9 1.6 1.3 1.7 .6 1.6 .3 1.7 .2 1.6 .2 1.7 0 1.6 .1 1.7 0" stroke="#a9dbef"/>
<path d="M164.7 310.4l1.6 8.2 1.7 7.9 1.6 7.2 1.7 5.1 1.6 2.7 1.7 1.2 1.6 .6 1.7 .3 1.6 .2 1.7 .1 1.6 .1 1.7 0" stroke="#a8dbef"/>
<path d="M166.3 319.2l1.7 8.2 1.6 7.9 1.7 6.7 1.6 4.7 1.7 2.4 1.6 1.1 1.7 .6 1.6 .3 1.7 .1 1.6 .1 1.7 0" stroke="#a7dbef"/>
<path d="M168 328.1l1.6 8.2 1.7 7.5 1.6 6.2 1.7 4.1 1.6 2.1 1.7 1.1 1.6 .5 1.7 .2 1.6 .2 1.7 0" stroke="#a5daef"/>
<path d="M169.6 337.1l1.7 7.9 1.6 7 1.7 5.5 1.6 3.6 1.7 1.8 1.6 .9 1.7 .5 1.6 .2 1.7 .1" stroke="#a4daef"/>
<path d="M171.3 346.1l1.6 7.3 1.7 6.4 1.6 4.7 1.7 3 1.6 1.5 1.7 .8 1.6 .4 1.7 .1" stroke="#a3d9ee"/>
<path d="M172.9 354.9l1.7 6.7 1.6 5.4 1.7 3.9 1.6 2.4 1.7 1.3 1.6 .6 1.7 .1" stroke="#a2d9ee"/>
<path d="M174.6 363.4l1.6 5.8 1.7 4.5 1.6 3.1 1.7 1.8 1.6 .9 1.7 .2" stroke="#a1d8ee"/>
<path d="M177.9 376.1l1.6 3.6 1.7 2.2 1.6 1.2 1.7 .3" stroke="#a0d8ee"/>
<path d="M124.5 230.6 125 230.6 126.7 230.9 128.3 231.8 130 233.2 131.6 235.2 133.3 237.7 134.9 240.8 136.6 244.4 138.2 248.5 139.9 253 141.5 257.9 143.2 263.2 144.8 268.8 146.5 274.7 148.1 280.9 149.8 287.2 151.4 293.7 153.1 300.3 154.8 307 156.4 313.7 158.1 320.3 159.7 326.8 161.4 333.1 163 339.3 164.7 345.2 166.3 350.8 168 356.1 169.6 361 171.3 365.5 172.9 369.6 174.6 373.2 176.2 376.3 177.9 378.8 179.5 380.8 181.2 382.2 182.8 383.1 184.5 383.4 184.5 383.4 182.8 383.3 181.2 383.1 179.5 382.7 177.9 382.2 176.2 381.4 174.6 380.5 172.9 379.3 171.3 377.9 169.6 376.2 168 374.2 166.3 371.8 164.7 369.1 163 365.9 161.4 362.3 159.7 358.2 158.1 353.7 156.4 348.6 154.8 343 153.1 336.8 151.4 330.2 149.8 323 148.1 315.5 146.5 307.6 144.8 299.4 143.2 291.1 141.5 282.8 139.9 274.5 138.2 266.6 136.6 259 134.9 252.1 133.3 245.9 131.6 240.6 130 236.3 128.3 233.2 126.7 231.2 125 230.6 124.5 230.6Z" fill="url(#gia)" stroke="none"/>
<path d="M124.5 230.6 125 230.6 126.7 230.6 128.3 230.8 130 231.1 131.6 231.6 133.3 232.2 134.9 232.9 136.6 233.9 138.2 235.1 139.9 236.5 141.5 238.2 143.2 240.3 144.8 242.7 146.5 245.5 148.1 248.8 149.8 252.6 151.4 256.8 153.1 261.7 154.8 267.1 156.4 273 158.1 279.6 159.7 286.7 161.4 294.2 163 302.3 164.7 310.6 166.3 319.2 168 327.9 169.6 336.5 171.3 344.9 172.9 352.9 174.6 360.3 176.2 367 177.9 372.6 179.5 377.3 181.2 380.6 182.8 382.7 184.5 383.4 184.5 383.4 182.8 383.1 181.2 382.2 179.5 380.8 177.9 378.8 176.2 376.3 174.6 373.2 172.9 369.6 171.3 365.5 169.6 361 168 356.1 166.3 350.8 164.7 345.2 163 339.3 161.4 333.1 159.7 326.8 158.1 320.3 156.4 313.7 154.8 307 153.1 300.3 151.4 293.7 149.8 287.2 148.1 280.9 146.5 274.7 144.8 268.8 143.2 263.2 141.5 257.9 139.9 253 138.2 248.5 136.6 244.4 134.9 240.8 133.3 237.7 131.6 235.2 130 233.2 128.3 231.8 126.7 230.9 125 230.6 124.5 230.6Z" fill="url(#goa)" stroke="none"/>
<path d="M124 230.8l1 -.2 1.7 .3 1.6 .9 1.7 1.4 1.6 2 1.7 2.5 1.6 3.1 1.7 3.6 1.6 4.1 1.7 4.5 1.6 4.9 1.7 5.3 1.6 5.6 1.7 5.9 1.6 6.2 1.7 6.3 1.6 6.5 1.7 6.6 1.7 6.7 1.6 6.7 1.7 6.6 1.6 6.5 1.7 6.3 1.6 6.2 1.7 5.9 1.6 5.6 1.7 5.3 1.6 4.9 1.7 4.5 1.6 4.1 1.7 3.6 1.6 3.1 1.7 2.5 1.6 2 1.7 1.4 1.6 .9 1.7 .3" stroke="#000" stroke-width="0.8"/>
<path d="M124.5 101.8 125 101.8 126.7 101.5 128.3 100.8 130 99.6 131.6 98.1 133.3 96.2 134.9 94.1 136.6 91.8 138.2 89.4 139.9 86.9 141.5 84.4 143.2 81.8 144.8 79.2 146.5 76.6 148.1 74.1 149.8 71.6 151.4 69.1 153.1 66.7 154.8 64.4 156.4 62.2 158.1 60.1 159.7 58 161.4 56.1 163 54.3 164.7 52.6 166.3 51 168 49.5 169.6 48.2 171.3 47 172.9 45.9 174.6 45 176.2 44.2 177.9 43.6 179.5 43.1 181.2 42.7 182.8 42.5 184.5 42.4 184.5 101.8 182.8 101.9 181.2 102.2 179.5 102.6 177.9 103.3 176.2 104.1 174.6 105.1 172.9 106.3 171.3 107.7 169.6 109.3 168 111 166.3 112.9 164.7 114.9 163 117.1 161.4 119.5 159.7 122 158.1 124.7 156.4 127.5 154.8 130.4 153.1 133.5 151.4 136.7 149.8 140 148.1 143.4 146.5 146.9 144.8 150.5 143.2 154.2 141.5 158 139.9 161.8 138.2 165.7 136.6 169.5 134.9 173.4 133.3 177.3 131.6 181 130 184.6 128.3 187.7 126.7 190 125 190.9 124.5 190.9Z" fill="url(#gta)" stroke="none"/>
<path d="M124 190.4l1 .5 1.7 -.9 1.6 -2.3 1.7 -3.1 1.6 -3.6 1.7 -3.7 1.6 -3.9 1.7 -3.9 1.6 -3.8 1.7 -3.9 1.6 -3.8 1.7 -3.8 1.6 -3.7 1.7 -3.6 1.6 -3.5 1.7 -3.4 1.6 -3.3 1.7 -3.2 1.7 -3.1 1.6 -2.9 1.7 -2.8 1.6 -2.7 1.7 -2.5 1.6 -2.4 1.7 -2.2 1.6 -2 1.7 -1.9 1.6 -1.7 1.7 -1.6 1.6 -1.4 1.7 -1.2 1.6 -1 1.7 -.8 1.6 -.7 1.7 -.4 1.6 -.3 1.7 -.1" stroke="#bee4f2"/>
<path d="M124 184.8l1 .5 1.7 -.8 1.6 -2.1 1.7 -3 1.6 -3.4 1.7 -3.6 1.6 -3.7 1.7 -3.8 1.6 -3.8 1.7 -3.8 1.6 -3.7 1.7 -3.7 1.6 -3.7 1.7 -3.5 1.6 -3.5 1.7 -3.3 1.6 -3.3 1.7 -3.1 1.7 -3 1.6 -2.9 1.7 -2.7 1.6 -2.5 1.7 -2.4 1.6 -2.1 1.7 -2 1.6 -1.8 1.7 -1.7 1.6 -1.4 1.7 -1.2 1.6 -1.1 1.7 -.9 1.6 -.7 1.7 -.6 1.6 -.5 1.7 -.3 1.6 -.2 1.7 0" stroke="#c0e5f2"/>
<path d="M124 179.3l1 .4 1.7 -.7 1.6 -1.9 1.7 -2.7 1.6 -3.1 1.7 -3.4 1.6 -3.5 1.7 -3.5 1.6 -3.6 1.7 -3.6 1.6 -3.6 1.7 -3.6 1.6 -3.5 1.7 -3.5 1.6 -3.4 1.7 -3.3 1.6 -3.2 1.7 -3.1 1.7 -2.9 1.6 -2.8 1.7 -2.6 1.6 -2.5 1.7 -2.2 1.6 -2.1 1.7 -1.8 1.6 -1.6 1.7 -1.5 1.6 -1.2 1.7 -1 1.6 -.9 1.7 -.7 1.6 -.5 1.7 -.4 1.6 -.3 1.7 -.2 1.6 -.1 1.7 -.1" stroke="#c2e5f3"/>
<path d="M124 173.7l1 .4 1.7 -.6 1.6 -1.7 1.7 -2.3 1.6 -2.7 1.7 -3 1.6 -3 1.7 -3.2 1.6 -3.3 1.7 -3.3 1.6 -3.3 1.7 -3.4 1.6 -3.3 1.7 -3.3 1.6 -3.3 1.7 -3.2 1.6 -3.2 1.7 -3 1.7 -2.9 1.6 -2.8 1.7 -2.5 1.6 -2.4 1.7 -2.2 1.6 -2 1.7 -1.8 1.6 -1.6 1.7 -1.3 1.6 -1.1 1.7 -1 1.6 -.7 1.7 -.6 1.6 -.5 1.7 -.3 1.6 -.2 1.7 -.2 1.6 -.1 1.7 0" stroke="#c3e6f3"/>
<path d="M124 168.2l1 .3 1.7 -.5 1.6 -1.3 1.7 -2 1.6 -2.2 1.7 -2.5 1.6 -2.6 1.7 -2.7 1.6 -2.8 1.7 -2.8 1.6 -3 1.7 -3 1.6 -3 1.7 -3.1 1.6 -3.1 1.7 -3.1 1.6 -3 1.7 -3 1.7 -2.9 1.6 -2.8 1.7 -2.6 1.6 -2.4 1.7 -2.2 1.6 -2 1.7 -1.8 1.6 -1.5 1.7 -1.4 1.6 -1.1 1.7 -1 1.6 -.7 1.7 -.6 1.6 -.5 1.7 -.3 1.6 -.3 1.7 -.1 1.6 -.1 1.7 0" stroke="#c5e7f3"/>
<path d="M124 162.7l1 .2 1.7 -.4 1.6 -1.1 1.7 -1.6 1.6 -1.8 1.7 -2 1.6 -2.2 1.7 -2.2 1.6 -2.3 1.7 -2.5 1.6 -2.5 1.7 -2.6 1.6 -2.8 1.7 -2.8 1.6 -2.8 1.7 -3 1.6 -2.9 1.7 -2.9 1.7 -2.9 1.6 -2.7 1.7 -2.6 1.6 -2.4 1.7 -2.3 1.6 -2 1.7 -1.8 1.6 -1.5 1.7 -1.4 1.6 -1.1 1.7 -1 1.6 -.7 1.7 -.6 1.6 -.5 1.7 -.3 1.6 -.3 1.7 -.1 1.6 -.1 1.7 0" stroke="#c7e8f4"/>
<path d="M124 157.1l1 .2 1.7 -.3 1.6 -.9 1.7 -1.3 1.6 -1.4 1.7 -1.7 1.6 -1.7 1.7 -1.8 1.6 -1.9 1.7 -2 1.6 -2.2 1.7 -2.2 1.6 -2.4 1.7 -2.4 1.6 -2.6 1.7 -2.7 1.6 -2.8 1.7 -2.8 1.7 -2.9 1.6 -2.7 1.7 -2.6 1.6 -2.4 1.7 -2.2 1.6 -2 1.7 -1.8 1.6 -1.6 1.7 -1.4 1.6 -1.1 1.7 -1 1.6 -.8 1.7 -.6 1.6 -.4 1.7 -.4 1.6 -.2 1.7 -.2 1.6 -.1 1.7 0" stroke="#c9e8f4"/>
<path d="M124 151.5l1 .2 1.7 -.3 1.6 -.7 1.7 -.9 1.6 -1.2 1.7 -1.3 1.6 -1.4 1.7 -1.4 1.6 -1.6 1.7 -1.6 1.6 -1.7 1.7 -1.8 1.6 -2 1.7 -2.1 1.6 -2.3 1.7 -2.4 1.6 -2.6 1.7 -2.6 1.7 -2.8 1.6 -2.6 1.7 -2.6 1.6 -2.5 1.7 -2.2 1.6 -2 1.7 -1.8 1.6 -1.6 1.7 -1.4 1.6 -1.1 1.7 -1 1.6 -.8 1.7 -.6 1.6 -.4 1.7 -.4 1.6 -.2 1.7 -.2 1.6 -.1 1.7 0" stroke="#cbe9f4"/>
<path d="M124 146l1 .1 1.7 -.2 1.6 -.6 1.7 -.7 1.6 -1 1.7 -1 1.6 -1.1 1.7 -1.1 1.6 -1.2 1.7 -1.2 1.6 -1.4 1.7 -1.4 1.6 -1.6 1.7 -1.6 1.6 -1.9 1.7 -2.1 1.6 -2.2 1.7 -2.5 1.7 -2.6 1.6 -2.6 1.7 -2.6 1.6 -2.4 1.7 -2.3 1.6 -2 1.7 -1.8 1.6 -1.6 1.7 -1.4 1.6 -1.1 1.7 -1 1.6 -.8 1.7 -.6 1.6 -.5 1.7 -.3 1.6 -.3 1.7 -.1 1.6 -.1 1.7 0" stroke="#cceaf5"/>
<path d="M124 140.4l1 .1 1.7 -.2 1.6 -.4 1.7 -.6 1.6 -.8 1.7 -.8 1.6 -.8 1.7 -.9 1.6 -.9 1.7 -.9 1.6 -1 1.7 -1.1 1.6 -1.1 1.7 -1.2 1.6 -1.4 1.7 -1.6 1.6 -1.9 1.7 -2.2 1.7 -2.4 1.6 -2.6 1.7 -2.5 1.6 -2.4 1.7 -2.2 1.6 -2.1 1.7 -1.8 1.6 -1.6 1.7 -1.4 1.6 -1.1 1.7 -1 1.6 -.8 1.7 -.6 1.6 -.5 1.7 -.3 1.6 -.3 1.7 -.1 1.6 -.1 1.7 -.1" stroke="#ceebf5"/>
<path d="M124 134.8l1 .1 1.7 -.1 1.6 -.4 1.7 -.5 1.6 -.7 1.7 -.6 1.6 -.7 1.7 -.7 1.6 -.7 1.7 -.7 1.6 -.7 1.7 -.6 1.6 -.7 1.7 -.7 1.6 -.9 1.7 -1.1 1.6 -1.4 1.7 -1.8 1.7 -2.2 1.6 -2.3 1.7 -2.5 1.6 -2.4 1.7 -2.2 1.6 -2 1.7 -1.9 1.6 -1.6 1.7 -1.4 1.6 -1.1 1.7 -1 1.6 -.8 1.7 -.6 1.6 -.5 1.7 -.4 1.6 -.2 1.7 -.2 1.6 -.1 1.7 0" stroke="#d0ebf6"/>
<path d="M124 129.2l1 .1 1.7 -.1 1.6 -.4 1.7 -.4 1.6 -.6 1.7 -.6 1.6 -.6 1.7 -.6 1.6 -.6 1.7 -.5 1.6 -.4 1.7 -.4 1.6 -.2 1.7 -.3 1.6 -.2 1.7 -.5 1.6 -.8 1.7 -1.3 1.7 -1.8 1.6 -2.1 1.7 -2.3 1.6 -2.3 1.7 -2.3 1.6 -2 1.7 -1.8 1.6 -1.7 1.7 -1.4 1.6 -1.1 1.7 -1 1.6 -.8 1.7 -.6 1.6 -.5 1.7 -.4 1.6 -.2 1.7 -.2 1.6 -.1 1.7 0" stroke="#d2ecf6"/>
<path d="M124 123.6l1 .1 1.7 -.1 1.6 -.4 1.7 -.4 1.6 -.6 1.7 -.7 1.6 -.6 1.7 -.6 1.6 -.5 1.7 -.5 1.6 -.2 1.7 -.1 1.6 .1 1.7 .3 1.6 .3 1.7 .3 1.6 -.1 1.7 -.6 1.7 -1.2 1.6 -1.8 1.7 -2.1 1.6 -2.3 1.7 -2.2 1.6 -2 1.7 -1.8 1.6 -1.7 1.7 -1.4 1.6 -1.1 1.7 -1 1.6 -.8 1.7 -.7 1.6 -.4 1.7 -.4 1.6 -.3 1.7 -.1 1.6 -.1 1.7 -.1" stroke="#d4edf6"/>
<path d="M124 118l1 .1 1.7 -.1 1.6 -.4 1.7 -.5 1.6 -.7 1.7 -.7 1.6 -.8 1.7 -.7 1.6 -.6 1.7 -.5 1.6 -.3 1.7 0 1.6 .4 1.7 .8 1.6 1 1.7 1.2 1.6 .8 1.7 .3 1.7 -.5 1.6 -1.2 1.7 -1.9 1.6 -2.1 1.7 -2.1 1.6 -2.1 1.7 -1.8 1.6 -1.6 1.7 -1.4 1.6 -1.2 1.7 -1 1.6 -.8 1.7 -.7 1.6 -.5 1.7 -.3 1.6 -.3 1.7 -.2 1.6 -.1 1.7 0" stroke="#d5eef7"/>
<path d="M124 112.4l1 .1 1.7 -.2 1.6 -.4 1.7 -.6 1.6 -.8 1.7 -.9 1.6 -1 1.7 -.9 1.6 -.9 1.7 -.6 1.6 -.4 1.7 0 1.6 .6 1.7 1.2 1.6 1.7 1.7 2 1.6 1.9 1.7 1.4 1.7 .5 1.6 -.6 1.7 -1.4 1.6 -1.9 1.7 -2.1 1.6 -2 1.7 -1.8 1.6 -1.6 1.7 -1.5 1.6 -1.1 1.7 -1 1.6 -.9 1.7 -.6 1.6 -.5 1.7 -.4 1.6 -.2 1.7 -.2 1.6 -.1 1.7 0" stroke="#d7eef7"/>
<path d="M124 111.8l1 .1 1.7 -.2 1.6 -.4 1.7 -.6 1.6 -.8 1.7 -.9 1.6 -1 1.7 -.9 1.6 -.8 1.7 -.7 1.6 -.3 1.7 0 1.6 .6 1.7 1.2 1.6 1.7 1.7 2 1.6 2 1.7 1.4 1.7 .5 1.6 -.6 1.7 -1.4 1.6 -1.9 1.7 -2 1.6 -2 1.7 -1.9 1.6 -1.6 1.7 -1.4 1.6 -1.2 1.7 -1 1.6 -.8 1.7 -.6 1.6 -.5 1.7 -.4 1.6 -.2 1.7 -.2 1.6 -.1 1.7 -.1" stroke="#d9eff7"/>
<path d="M124 111.1l1 .1 1.7 -.1 1.6 -.4 1.7 -.6 1.6 -.8 1.7 -.9 1.6 -.9 1.7 -.9 1.6 -.9 1.7 -.6 1.6 -.3 1.7 0 1.6 .6 1.7 1.2 1.6 1.8 1.7 2 1.6 2 1.7 1.4 1.7 .5 1.6 -.5 1.7 -1.4 1.6 -1.9 1.7 -2.1 1.6 -2 1.7 -1.8 1.6 -1.6 1.7 -1.4 1.6 -1.2 1.7 -1 1.6 -.8 1.7 -.7 1.6 -.5 1.7 -.3 1.6 -.3 1.7 -.2 1.6 0 1.7 -.1" stroke="#dbf0f8"/>
<path d="M124 110.5l1 .1 1.7 -.1 1.6 -.4 1.7 -.6 1.6 -.8 1.7 -.9 1.6 -.9 1.7 -.9 1.6 -.8 1.7 -.6 1.6 -.4 1.7 .1 1.6 .6 1.7 1.2 1.6 1.8 1.7 2.1 1.6 2 1.7 1.4 1.7 .5 1.6 -.5 1.7 -1.4 1.6 -1.9 1.7 -2 1.6 -2 1.7 -1.9 1.6 -1.6 1.7 -1.4 1.6 -1.2 1.7 -1 1.6 -.8 1.7 -.6 1.6 -.5 1.7 -.4 1.6 -.2 1.7 -.2 1.6 -.1 1.7 0" stroke="#ddf1f8"/>
<path d="M124 109.9l1 .1 1.7 -.1 1.6 -.3 1.7 -.5 1.6 -.6 1.7 -.6 1.6 -.7 1.7 -.6 1.6 -.4 1.7 -.2 1.6 .1 1.7 .7 1.6 1.2 1.7 2 1.6 2.6 1.7 3 1.6 2.9 1.7 2.1 1.7 1 1.6 -.3 1.7 -1.5 1.6 -2.1 1.7 -2.5 1.6 -2.4 1.7 -2.4 1.6 -2.2 1.7 -2.1 1.6 -1.9 1.7 -1.7 1.6 -1.5 1.7 -1.3 1.6 -1.2 1.7 -.9 1.6 -.8 1.7 -.5 1.6 -.3 1.7 -.1" stroke="#dff1f8"/>
<path d="M124 109.3l1 0 1.7 -.1 1.6 -.3 1.7 -.6 1.6 -.6 1.7 -.8 1.6 -.7 1.7 -.7 1.6 -.6 1.7 -.4 1.6 -.1 1.7 .4 1.6 .9 1.7 1.6 1.6 2.2 1.7 2.6 1.6 2.4 1.7 1.8 1.7 .7 1.6 -.5 1.7 -1.6 1.6 -2.1 1.7 -2.4 1.6 -2.5 1.7 -2.4 1.6 -2.2 1.7 -2.1 1.6 -1.9 1.7 -1.7 1.6 -1.6 1.7 -1.4 1.6 -1.1 1.7 -1 1.6 -.8 1.7 -.5 1.6 -.4 1.7 -.1" stroke="#e0f2f9"/>
<path d="M124 108.6l1 .1 1.7 -.1 1.6 -.4 1.7 -.6 1.6 -.7 1.7 -.9 1.6 -.8 1.7 -.9 1.6 -.8 1.7 -.5 1.6 -.3 1.7 .1 1.6 .6 1.7 1.3 1.6 1.7 1.7 2.1 1.6 2 1.7 1.4 1.7 .4 1.6 -.6 1.7 -1.6 1.6 -2.2 1.7 -2.4 1.6 -2.5 1.7 -2.3 1.6 -2.3 1.7 -2 1.6 -2 1.7 -1.8 1.6 -1.5 1.7 -1.5 1.6 -1.2 1.7 -1 1.6 -.8 1.7 -.6 1.6 -.3 1.7 -.1" stroke="#e2f3f9"/>
<path d="M124 108l1 .1 1.7 -.2 1.6 -.4 1.7 -.6 1.6 -.8 1.7 -1 1.6 -1 1.7 -1 1.6 -.9 1.7 -.8 1.6 -.5 1.7 -.1 1.6 .3 1.7 .9 1.6 1.3 1.7 1.7 1.6 1.5 1.7 1.1 1.7 .1 1.6 -.8 1.7 -1.7 1.6 -2.2 1.7 -2.4 1.6 -2.4 1.7 -2.4 1.6 -2.2 1.7 -2.1 1.6 -2 1.7 -1.8 1.6 -1.6 1.7 -1.5 1.6 -1.2 1.7 -1.1 1.6 -.8 1.7 -.6 1.6 -.4 1.7 -.1" stroke="#e4f4f9"/>
<path d="M124 107.4l1 .1 1.7 -.2 1.6 -.4 1.7 -.7 1.6 -.9 1.7 -1.1 1.6 -1.1 1.7 -1.1 1.6 -1.1 1.7 -1 1.6 -.7 1.7 -.4 1.6 0 1.7 .5 1.6 .9 1.7 1.2 1.6 1.2 1.7 .6 1.7 -.1 1.6 -1 1.7 -1.8 1.6 -2.2 1.7 -2.4 1.6 -2.4 1.7 -2.4 1.6 -2.2 1.7 -2.1 1.6 -2 1.7 -1.8 1.6 -1.7 1.7 -1.5 1.6 -1.3 1.7 -1 1.6 -.9 1.7 -.6 1.6 -.4 1.7 -.1" stroke="#e6f4fa"/>
<path d="M124 106.7l1 .1 1.7 -.1 1.6 -.5 1.7 -.8 1.6 -1 1.7 -1.1 1.6 -1.2 1.7 -1.3 1.6 -1.2 1.7 -1.2 1.6 -.9 1.7 -.7 1.6 -.3 1.7 .1 1.6 .6 1.7 .7 1.6 .7 1.7 .2 1.7 -.4 1.6 -1.1 1.7 -1.9 1.6 -2.2 1.7 -2.4 1.6 -2.4 1.7 -2.3 1.6 -2.3 1.7 -2.1 1.6 -2 1.7 -1.9 1.6 -1.7 1.7 -1.5 1.6 -1.3 1.7 -1.1 1.6 -.9 1.7 -.7 1.6 -.3 1.7 -.2" stroke="#e8f5fa"/>
<path d="M124 106.1l1 .1 1.7 -.2 1.6 -.5 1.7 -.8 1.6 -1.1 1.7 -1.2 1.6 -1.4 1.7 -1.4 1.6 -1.4 1.7 -1.3 1.6 -1.2 1.7 -.9 1.6 -.6 1.7 -.2 1.6 .1 1.7 .2 1.6 .3 1.7 -.1 1.7 -.7 1.6 -1.3 1.7 -1.9 1.6 -2.3 1.7 -2.4 1.6 -2.4 1.7 -2.3 1.6 -2.3 1.7 -2.1 1.6 -2 1.7 -1.9 1.6 -1.7 1.7 -1.6 1.6 -1.4 1.7 -1.1 1.6 -.9 1.7 -.7 1.6 -.4 1.7 -.1" stroke="#e9f6fb"/>
<path d="M124 105.5l1 .1 1.7 -.2 1.6 -.6 1.7 -.8 1.6 -1.2 1.7 -1.3 1.6 -1.5 1.7 -1.5 1.6 -1.6 1.7 -1.5 1.6 -1.4 1.7 -1.2 1.6 -.9 1.7 -.6 1.6 -.3 1.7 -.2 1.6 -.2 1.7 -.5 1.7 -.9 1.6 -1.5 1.7 -2 1.6 -2.3 1.7 -2.4 1.6 -2.3 1.7 -2.4 1.6 -2.2 1.7 -2.2 1.6 -2 1.7 -1.9 1.6 -1.8 1.7 -1.6 1.6 -1.4 1.7 -1.2 1.6 -.9 1.7 -.7 1.6 -.4 1.7 -.2" stroke="#ebf7fb"/>
<path d="M124 104.8l1 .1 1.7 -.2 1.6 -.5 1.7 -1 1.6 -1.2 1.7 -1.4 1.6 -1.6 1.7 -1.7 1.6 -1.7 1.7 -1.7 1.6 -1.6 1.7 -1.5 1.6 -1.2 1.7 -1 1.6 -.7 1.7 -.6 1.6 -.7 1.7 -.8 1.7 -1.3 1.6 -1.6 1.7 -2.1 1.6 -2.3 1.7 -2.3 1.6 -2.4 1.7 -2.3 1.6 -2.3 1.7 -2.2 1.6 -2 1.7 -2 1.6 -1.8 1.7 -1.6 1.6 -1.4 1.7 -1.3 1.6 -.9 1.7 -.7 1.6 -.5 1.7 -.1" stroke="#edf7fb"/>
<path d="M124 104.2l1 .1 1.7 -.2 1.6 -.6 1.7 -1 1.6 -1.3 1.7 -1.5 1.6 -1.7 1.7 -1.9 1.6 -1.9 1.7 -1.8 1.6 -1.9 1.7 -1.7 1.6 -1.5 1.7 -1.4 1.6 -1.1 1.7 -1.1 1.6 -1 1.7 -1.3 1.7 -1.5 1.6 -1.8 1.7 -2.2 1.6 -2.3 1.7 -2.3 1.6 -2.4 1.7 -2.3 1.6 -2.3 1.7 -2.2 1.6 -2 1.7 -2 1.6 -1.8 1.7 -1.7 1.6 -1.5 1.7 -1.2 1.6 -1 1.7 -.8 1.6 -.4 1.7 -.2" stroke="#eff8fc"/>
<path d="M124 103.6l1 .1 1.7 -.2 1.6 -.7 1.7 -1 1.6 -1.3 1.7 -1.5 1.6 -1.8 1.7 -1.8 1.6 -1.9 1.7 -2 1.6 -1.8 1.7 -1.8 1.6 -1.6 1.7 -1.5 1.6 -1.3 1.7 -1.1 1.6 -1.2 1.7 -1.3 1.7 -1.6 1.6 -1.9 1.7 -2.2 1.6 -2.3 1.7 -2.3 1.6 -2.4 1.7 -2.3 1.6 -2.3 1.7 -2.1 1.6 -2.1 1.7 -2 1.6 -1.9 1.7 -1.6 1.6 -1.5 1.7 -1.3 1.6 -1 1.7 -.7 1.6 -.5 1.7 -.2" stroke="#f1f9fc"/>
<path d="M124 102.9l1 .2 1.7 -.3 1.6 -.6 1.7 -1 1.6 -1.3 1.7 -1.6 1.6 -1.8 1.7 -1.8 1.6 -2 1.7 -2 1.6 -1.9 1.7 -1.9 1.6 -1.7 1.7 -1.5 1.6 -1.4 1.7 -1.3 1.6 -1.3 1.7 -1.4 1.7 -1.6 1.6 -2 1.7 -2.2 1.6 -2.3 1.7 -2.3 1.6 -2.4 1.7 -2.3 1.6 -2.2 1.7 -2.2 1.6 -2.1 1.7 -2 1.6 -1.9 1.7 -1.7 1.6 -1.5 1.7 -1.2 1.6 -1.1 1.7 -.7 1.6 -.5 1.7 -.1" stroke="#f2fafc"/>
<path d="M124 102.3l1 .1 1.7 -.2 1.6 -.6 1.7 -1.1 1.6 -1.3 1.7 -1.6 1.6 -1.8 1.7 -1.9 1.6 -2 1.7 -2 1.6 -2 1.7 -1.9 1.6 -1.8 1.7 -1.6 1.6 -1.5 1.7 -1.4 1.6 -1.4 1.7 -1.5 1.7 -1.8 1.6 -2 1.7 -2.1 1.6 -2.4 1.7 -2.3 1.6 -2.4 1.7 -2.3 1.6 -2.2 1.7 -2.2 1.6 -2.1 1.7 -2 1.6 -1.9 1.7 -1.7 1.6 -1.5 1.7 -1.3 1.6 -1 1.7 -.8 1.6 -.5 1.7 -.1" stroke="#f4fafd"/>
<path d="M124 101.6l1 .2 1.7 -.3 1.6 -.7 1.7 -1.2 1.6 -1.5 1.7 -1.9 1.6 -2.1 1.7 -2.3 1.6 -2.4 1.7 -2.5 1.6 -2.5 1.7 -2.6 1.6 -2.6 1.7 -2.6 1.6 -2.5 1.7 -2.5 1.6 -2.5 1.7 -2.4 1.7 -2.3 1.6 -2.2 1.7 -2.1 1.6 -2.1 1.7 -1.9 1.6 -1.8 1.7 -1.7 1.6 -1.6 1.7 -1.5 1.6 -1.3 1.7 -1.2 1.6 -1.1 1.7 -.9 1.6 -.8 1.7 -.6 1.6 -.5 1.7 -.4 1.6 -.2 1.7 -.1" stroke="#f6fbfd"/>
</g>
<use href="#ha" transform="matrix(-1 0 0 1 250.0 0)"/>
<g id="qa" fill="#000">
<path d="M184.5 424.4 182.8 425.4 181.2 427.9 179.5 431.5 177.9 435.5 177.9 435.5 179.5 432.5 181.2 430.1 182.8 428.1 184.5 427.4Z"/>
<path d="M184.5 430.1 182.8 430.9 181.2 433.1 179.5 436.2 177.9 439.9 176.2 443.8 176.2 443.8 177.9 440.7 179.5 438 181.2 435.5 182.8 433.7 184.5 433Z"/>
<path d="M184.5 435.7 182.8 436.4 181.2 438.3 179.5 441.1 177.9 444.4 176.2 447.9 174.6 451.4 174.6 451.4 176.2 448.3 177.9 445.5 179.5 443 181.2 440.7 182.8 439.2 184.5 438.6Z"/>
<path d="M184.5 441.3 182.8 441.9 181.2 443.5 179.5 445.9 177.9 448.8 176.2 451.8 174.6 454.9 172.9 457.9 172.9 457.9 174.6 455 176.2 452.4 177.9 450 179.5 447.8 181.2 446 182.8 444.6 184.5 444.2Z"/>
<path d="M184.5 446.9 182.8 447.4 181.2 448.7 179.5 450.7 177.9 453 176.2 455.6 174.6 458.2 172.9 460.8 172.9 460.8 174.6 458.5 176.2 456.4 177.9 454.5 179.5 452.7 181.2 451.2 182.8 450.1 184.5 449.8Z"/>
<path d="M184.5 452.5 182.8 452.9 181.2 454 179.5 455.6 177.9 457.5 176.2 459.6 174.6 461.8 172.9 464.1 171.3 466.2 171.3 466.2 172.9 464.1 174.6 462.3 176.2 460.6 177.9 459.1 179.5 457.7 181.2 456.5 182.8 455.7 184.5 455.4Z"/>
<path d="M184.5 458.1 182.8 458.4 181.2 459.3 179.5 460.6 177.9 462.2 176.2 463.9 174.6 465.7 172.9 467.6 171.3 469.4 171.3 469.4 172.9 467.7 174.6 466.3 176.2 465.1 177.9 463.9 179.5 462.8 181.2 461.9 182.8 461.2 184.5 461Z"/>
<path d="M184.5 463.7 182.8 463.9 181.2 464.6 179.5 465.7 177.9 467 176.2 468.4 174.6 469.9 172.9 471.5 171.3 472.9 171.3 472.9 172.9 471.6 174.6 470.6 176.2 469.7 177.9 468.8 179.5 468 181.2 467.3 182.8 466.8 184.5 466.6Z"/>
<path d="M184.5 469.3 182.8 469.5 181.2 470 179.5 470.9 177.9 472 176.2 473.2 174.6 474.5 172.9 475.8 172.9 475.8 174.6 475.1 176.2 474.5 177.9 473.9 179.5 473.3 181.2 472.7 182.8 472.3 184.5 472.2Z"/>
<path d="M184.5 474.9 182.8 475 181.2 475.5 179.5 476.2 177.9 477.2 176.2 478.3 174.6 479.5 172.9 480.4 172.9 480.4 174.6 479.8 176.2 479.5 177.9 479.1 179.5 478.6 181.2 478.2 182.8 477.9 184.5 477.8Z"/>
<path d="M184.5 480.5 182.8 480.6 181.2 481 179.5 481.7 177.9 482.6 176.2 483.8 174.6 484.8 174.6 484.8 176.2 484.5 177.9 484.4 179.5 484.1 181.2 483.7 182.8 483.5 184.5 483.4Z"/>
<path d="M184.5 486.1 182.8 486.2 181.2 486.6 179.5 487.4 177.9 488.5 176.2 489.6 176.2 489.6 177.9 489.5 179.5 489.5 181.2 489.3 182.8 489.1 184.5 489Z"/>
<path d="M184.5 491.7 182.8 491.8 181.2 492.4 179.5 493.5 177.9 494.7 177.9 494.7 179.5 494.6 181.2 494.8 182.8 494.6 184.5 494.6Z"/>
<path d="M184.5 497.3 182.8 497.5 181.2 498.9 179.5 499.8 179.5 499.8 181.2 499.5 182.8 500.2 184.5 500.2Z"/>
<path d="M149.8 498.8 148.1 501.1 146.5 503.4 144.8 505.6 143.2 507.6 141.5 509.6 139.9 511.4 138.2 513 136.6 514.5 134.9 515.8 133.3 516.9 131.6 517.8 130 518.5 128.3 519.1 126.7 519.4 125 519.5 124.5 519.5 124.5 521.9 125 521.9 126.7 521.8 128.3 521.5 130 520.9 131.6 520.1 133.3 519.1 134.9 517.9 136.6 516.5 138.2 514.9 139.9 513.1 141.5 511 143.2 508.9 144.8 506.5 146.5 503.9 148.1 501.3 149.8 498.8Z"/>
<path d="M148.1 506.1 146.5 508.4 144.8 510.5 143.2 512.6 141.5 514.5 139.9 516.3 138.2 518 136.6 519.5 134.9 520.8 133.3 521.9 131.6 522.9 130 523.6 128.3 524.2 126.7 524.5 125 524.6 124.5 524.6 124.5 527.1 125 527.1 126.7 527 128.3 526.6 130 526 131.6 525.2 133.3 524.2 134.9 522.9 136.6 521.4 138.2 519.8 139.9 517.9 141.5 515.9 143.2 513.7 144.8 511.3 146.5 508.7 148.1 506.1Z"/>
<path d="M148.1 511 146.5 513.4 144.8 515.5 143.2 517.6 141.5 519.5 139.9 521.3 138.2 523 136.6 524.5 134.9 525.8 133.3 527 131.6 528 130 528.8 128.3 529.3 126.7 529.7 125 529.8 124.5 529.8 124.5 532.2 125 532.2 126.7 532.1 128.3 531.7 130 531.1 131.6 530.3 133.3 529.2 134.9 527.9 136.6 526.4 138.2 524.7 139.9 522.8 141.5 520.7 143.2 518.4 144.8 516 146.5 513.4 148.1 511Z"/>
<path d="M146.5 518.3 144.8 520.5 143.2 522.5 141.5 524.5 139.9 526.3 138.2 527.9 136.6 529.5 134.9 530.8 133.3 532.1 131.6 533.1 130 533.9 128.3 534.5 126.7 534.8 125 534.9 124.5 534.9 124.5 537.4 125 537.4 126.7 537.3 128.3 536.9 130 536.2 131.6 535.4 133.3 534.2 134.9 532.9 136.6 531.3 138.2 529.6 139.9 527.6 141.5 525.5 143.2 523.2 144.8 520.7 146.5 518.3Z"/>
<path d="M144.8 525.5 143.2 527.5 141.5 529.4 139.9 531.2 138.2 532.9 136.6 534.5 134.9 535.9 133.3 537.1 131.6 538.1 130 539 128.3 539.6 126.7 540 125 540.1 124.5 540.1 124.5 542.5 125 542.5 126.7 542.4 128.3 542 130 541.3 131.6 540.4 133.3 539.3 134.9 537.9 136.6 536.3 138.2 534.5 139.9 532.5 141.5 530.3 143.2 527.9 144.8 525.5Z"/>
<path d="M144.8 530.4 143.2 532.6 141.5 534.5 139.9 536.2 138.2 537.9 136.6 539.5 134.9 540.9 133.3 542.2 131.6 543.2 130 544.1 128.3 544.7 126.7 545.1 125 545.2 124.5 545.2 124.5 547.7 125 547.7 126.7 547.5 128.3 547.1 130 546.4 131.6 545.5 133.3 544.3 134.9 542.9 136.6 541.2 138.2 539.3 139.9 537.3 141.5 535 143.2 532.6 144.8 530.4Z"/>
<path d="M143.2 537.5 141.5 539.5 139.9 541.3 138.2 543 136.6 544.5 134.9 546 133.3 547.2 131.6 548.3 130 549.2 128.3 549.8 126.7 550.2 125 550.4 124.5 550.4 124.5 552.8 125 552.8 126.7 552.7 128.3 552.3 130 551.5 131.6 550.6 133.3 549.3 134.9 547.8 136.6 546.1 138.2 544.2 139.9 542.1 141.5 539.8 143.2 537.5Z"/>
<path d="M141.5 544.5 139.9 546.3 138.2 548 136.6 549.6 134.9 551 133.3 552.3 131.6 553.4 130 554.3 128.3 555 126.7 555.4 125 555.5 124.5 555.5 124.5 558 125 558 126.7 557.8 128.3 557.4 130 556.6 131.6 555.6 133.3 554.3 134.9 552.8 136.6 551 138.2 549 139.9 546.8 141.5 544.5Z"/>
<path d="M141.5 549.4 139.9 551.4 138.2 553.1 136.6 554.6 134.9 556.1 133.3 557.4 131.6 558.5 130 559.4 128.3 560.1 126.7 560.5 125 560.7 124.5 560.7 124.5 563.1 125 563.1 126.7 563 128.3 562.5 130 561.7 131.6 560.7 133.3 559.3 134.9 557.7 136.6 555.9 138.2 553.8 139.9 551.5 141.5 549.4Z"/>
<path d="M124.5 186.6 125 186.6 126.7 185.9 128.3 183.9 130 181.5 131.6 178.5 131.6 178.5 130 182.5 128.3 186.1 126.7 188.6 125 189.6 124.5 189.6Z"/>
<path d="M124.5 181 125 181 126.7 180.3 128.3 178.5 130 176 131.6 173.3 133.3 170.2 133.3 170.2 131.6 174.1 130 177.8 128.3 180.9 126.7 183.1 125 183.9 124.5 183.9Z"/>
<path d="M124.5 175.4 125 175.4 126.7 174.8 128.3 173.3 130 171 131.6 168.5 133.3 165.7 134.9 162.6 134.9 162.6 133.3 166.1 131.6 169.6 130 172.9 128.3 175.7 126.7 177.6 125 178.3 124.5 178.3Z"/>
<path d="M124.5 169.8 125 169.8 126.7 169.4 128.3 168 130 166.2 131.6 164 133.3 161.6 134.9 159 136.6 156.1 136.6 156.1 134.9 159.1 133.3 162.2 131.6 165.2 130 168.1 128.3 170.5 126.7 172.1 125 172.7 124.5 172.7Z"/>
<path d="M124.5 164.2 125 164.2 126.7 163.9 128.3 162.8 130 161.3 131.6 159.5 133.3 157.6 134.9 155.5 136.6 153.2 136.6 153.2 134.9 155.8 133.3 158.4 131.6 161 130 163.3 128.3 165.3 126.7 166.6 125 167.1 124.5 167.1Z"/>
<path d="M124.5 158.6 125 158.6 126.7 158.3 128.3 157.5 130 156.3 131.6 154.9 133.3 153.4 134.9 151.7 136.6 149.9 138.2 147.8 138.2 147.8 136.6 149.9 134.9 152.2 133.3 154.4 131.6 156.5 130 158.4 128.3 160 126.7 161.1 125 161.5 124.5 161.5Z"/>
<path d="M124.5 153 125 153 126.7 152.8 128.3 152.1 130 151.2 131.6 150.1 133.3 148.9 134.9 147.7 136.6 146.3 138.2 144.6 138.2 144.6 136.6 146.4 134.9 148.3 133.3 150.1 131.6 151.8 130 153.4 128.3 154.7 126.7 155.6 125 155.9 124.5 155.9Z"/>
<path d="M124.5 147.4 125 147.4 126.7 147.2 128.3 146.7 130 146 131.6 145.2 133.3 144.3 134.9 143.4 136.6 142.4 138.2 141.1 138.2 141.1 136.6 142.5 134.9 144.1 133.3 145.6 131.6 147 130 148.3 128.3 149.4 126.7 150.1 125 150.3 124.5 150.3Z"/>
<path d="M124.5 141.8 125 141.8 126.7 141.7 128.3 141.3 130 140.7 131.6 140.1 133.3 139.5 134.9 138.9 136.6 138.2 136.6 138.2 134.9 139.5 133.3 140.8 131.6 142 130 143.1 128.3 144 126.7 144.5 125 144.7 124.5 144.7Z"/>
<path d="M124.5 136.2 125 136.2 126.7 136.1 128.3 135.8 130 135.4 131.6 134.9 133.3 134.5 134.9 134.2 136.6 133.6 136.6 133.6 134.9 134.5 133.3 135.7 131.6 136.8 130 137.8 128.3 138.5 126.7 139 125 139.1 124.5 139.1Z"/>
<path d="M124.5 130.6 125 130.6 126.7 130.5 128.3 130.3 130 129.9 131.6 129.6 133.3 129.5 134.9 129.2 134.9 129.2 133.3 130.2 131.6 131.4 130 132.3 128.3 133 126.7 133.4 125 133.5 124.5 133.5Z"/>
<path d="M124.5 125 125 125 126.7 124.9 128.3 124.7 130 124.5 131.6 124.5 133.3 124.4 133.3 124.4 131.6 125.5 130 126.6 128.3 127.4 126.7 127.8 125 127.9 124.5 127.9Z"/>
<path d="M124.5 119.4 125 119.4 126.7 119.4 128.3 119.2 130 119.4 131.6 119.3 131.6 119.3 130 120.5 128.3 121.6 126.7 122.2 125 122.3 124.5 122.3Z"/>
<path d="M124.5 113.8 125 113.8 126.7 113.8 128.3 114.5 130 114.2 130 114.2 128.3 115.1 126.7 116.5 125 116.7 124.5 116.7Z"/>
<path d="M159.7 115.2 161.4 112.7 163 110.1 164.7 107.5 166.3 105.1 168 103 169.6 100.9 171.3 99.1 172.9 97.5 174.6 96.1 176.2 94.9 177.9 93.9 179.5 93.1 181.2 92.5 182.8 92.2 184.5 92.1 184.5 94.5 182.8 94.6 181.2 94.9 179.5 95.5 177.9 96.2 176.2 97.1 174.6 98.2 172.9 99.5 171.3 101 169.6 102.6 168 104.4 166.3 106.4 164.7 108.4 163 110.6 161.4 112.9 159.7 115.2Z"/>
<path d="M161.4 107.9 163 105.3 164.7 102.7 166.3 100.3 168 98.1 169.6 96.1 171.3 94.2 172.9 92.6 174.6 91.1 176.2 89.8 177.9 88.8 179.5 88 181.2 87.4 182.8 87 184.5 86.9 184.5 89.4 182.8 89.5 181.2 89.8 179.5 90.4 177.9 91.1 176.2 92.1 174.6 93.2 172.9 94.5 171.3 96 169.6 97.7 168 99.5 166.3 101.4 164.7 103.5 163 105.6 161.4 107.9Z"/>
<path d="M161.4 103 163 100.6 164.7 98 166.3 95.6 168 93.3 169.6 91.2 171.3 89.3 172.9 87.6 174.6 86.1 176.2 84.8 177.9 83.7 179.5 82.9 181.2 82.3 182.8 81.9 184.5 81.8 184.5 84.2 182.8 84.3 181.2 84.7 179.5 85.2 177.9 86 176.2 87 174.6 88.2 172.9 89.5 171.3 91 169.6 92.7 168 94.5 166.3 96.4 164.7 98.5 163 100.6 161.4 103Z"/>
<path d="M163 95.7 164.7 93.3 166.3 90.8 168 88.5 169.6 86.4 171.3 84.4 172.9 82.7 174.6 81.1 176.2 79.8 177.9 78.6 179.5 77.8 181.2 77.1 182.8 76.7 184.5 76.6 184.5 79.1 182.8 79.2 181.2 79.5 179.5 80.1 177.9 80.9 176.2 81.9 174.6 83.2 172.9 84.5 171.3 86.1 169.6 87.7 168 89.5 166.3 91.5 164.7 93.5 163 95.7Z"/>
<path d="M164.7 88.5 166.3 86.1 168 83.7 169.6 81.5 171.3 79.5 172.9 77.7 174.6 76.1 176.2 74.7 177.9 73.6 179.5 72.7 181.2 72 182.8 71.6 184.5 71.5 184.5 73.9 182.8 74 181.2 74.4 179.5 75 177.9 75.9 176.2 76.9 174.6 78.1 172.9 79.5 171.3 81.1 169.6 82.8 168 84.6 166.3 86.5 164.7 88.5Z"/>
<path d="M164.7 83.6 166.3 81.4 168 79 169.6 76.7 171.3 74.7 172.9 72.8 174.6 71.1 176.2 69.7 177.9 68.5 179.5 67.6 181.2 66.9 182.8 66.5 184.5 66.3 184.5 68.8 182.8 68.9 181.2 69.3 179.5 69.9 177.9 70.8 176.2 71.8 174.6 73.1 172.9 74.5 171.3 76.1 169.6 77.8 168 79.5 166.3 81.4 164.7 83.6Z"/>
<path d="M166.3 76.5 168 74.2 169.6 71.9 171.3 69.8 172.9 67.9 174.6 66.2 176.2 64.7 177.9 63.4 179.5 62.5 181.2 61.7 182.8 61.3 184.5 61.2 184.5 63.6 182.8 63.8 181.2 64.2 179.5 64.8 177.9 65.7 176.2 66.8 174.6 68 172.9 69.5 171.3 71 169.6 72.7 168 74.5 166.3 76.5Z"/>
<path d="M168 69.5 169.6 67.2 171.3 65 172.9 63 174.6 61.2 176.2 59.7 177.9 58.4 179.5 57.4 181.2 56.6 182.8 56.2 184.5 56 184.5 58.5 182.8 58.6 181.2 59 179.5 59.7 177.9 60.6 176.2 61.7 174.6 63 172.9 64.4 171.3 66 169.6 67.7 168 69.5Z"/>
<path d="M168 64.6 169.6 62.5 171.3 60.2 172.9 58.1 174.6 56.3 176.2 54.7 177.9 53.3 179.5 52.3 181.2 51.5 182.8 51 184.5 50.9 184.5 53.3 182.8 53.5 181.2 53.9 179.5 54.6 177.9 55.5 176.2 56.6 174.6 57.9 172.9 59.4 171.3 60.9 169.6 62.6 168 64.6Z"/>
</g>
<use href="#qa" transform="matrix(-1 0 0 1 250.0 0)"/>
</g>
<text x="51.4" y="100.4" class="tk" text-anchor="end">8</text>
<text x="51.4" y="154.4" class="tk" text-anchor="end">6</text>
<text x="51.4" y="208.4" class="tk" text-anchor="end">4</text>
<text x="51.4" y="262.4" class="tk" text-anchor="end">2</text>
<text x="51.4" y="316.4" class="tk" text-anchor="end">0</text>
<text x="51.4" y="370.4" class="tk" text-anchor="end">-2</text>
<text x="51.4" y="424.4" class="tk" text-anchor="end">-4</text>
<text x="51.4" y="478.4" class="tk" text-anchor="end">-6</text>
<text x="51.4" y="532.4" class="tk" text-anchor="end">-8</text>
<text x="-0.6" y="25.3" class="lab">(a)</text>
<text transform="translate(24.6,306) rotate(-90)" class="el" text-anchor="middle">E(eV)</text>
<text x="66.5" y="601.5" class="xt" text-anchor="middle">−π/a</text>
<text x="125.0" y="600" class="xt" text-anchor="middle">0</text>
<text x="184.5" y="601.5" class="xt" text-anchor="middle">π/a</text>
<rect x="269.5" y="39.0" width="122.5" height="536.5" fill="#000"/>
<clipPath id="clb"><rect x="269.5" y="39.0" width="122.5" height="536.5"/></clipPath>
<linearGradient id="gib" gradientUnits="userSpaceOnUse" x1="0" y1="230.6" x2="0" y2="383.4"><stop offset="0" stop-color="#6cc5ea"/><stop offset="1" stop-color="#4fb5e3"/></linearGradient>
<linearGradient id="gob" gradientUnits="userSpaceOnUse" x1="0" y1="230.6" x2="0" y2="383.4"><stop offset="0" stop-color="#c0e6f3"/><stop offset="1" stop-color="#93d0ea"/></linearGradient>
<linearGradient id="gtb" gradientUnits="userSpaceOnUse" x1="0" y1="76.1" x2="0" y2="230.6"><stop offset="0" stop-color="#f6fbfd"/><stop offset="1" stop-color="#c6e7f4"/></linearGradient>
<linearGradient id="gbb" gradientUnits="userSpaceOnUse" x1="0" y1="383.4" x2="0" y2="537.9"><stop offset="0" stop-color="#3bb2e5"/><stop offset="1" stop-color="#1c9fde"/></linearGradient>
<g clip-path="url(#clb)">
<g id="hb" fill="none" stroke-width="2.6" stroke-linejoin="round">
<path d="M392 383.4 390.3 386.1 388.7 390.1 387 394.3 385.4 398.4 383.7 402.5 382.1 406.6 380.4 410.7 378.8 414.7 377.1 418.6 375.5 422.5 373.8 426.3 372.2 430 370.5 433.6 368.9 437.1 367.2 440.5 365.6 443.8 363.9 447 362.2 450.1 360.6 453 358.9 455.8 357.3 458.4 355.6 460.9 354 463.3 352.3 465.5 350.7 467.5 349 469.4 347.4 471.1 345.7 472.6 344.1 474 342.4 475.1 340.8 476.2 339.1 477 337.5 477.6 335.8 478.1 334.2 478.4 332.5 478.4 332 478.4 332 537.8 332.5 537.8 334.2 537.8 335.8 537.6 337.5 537.3 339.1 536.8 340.8 536.2 342.4 535.5 344.1 534.7 345.7 533.7 347.4 532.6 349 531.4 350.7 530.1 352.3 528.6 354 527.1 355.6 525.4 357.3 523.7 358.9 521.8 360.6 519.8 362.2 517.8 363.9 515.6 365.6 513.4 367.2 511.1 368.9 508.8 370.5 506.4 372.2 503.9 373.8 501.4 375.5 498.8 377.1 496.3 378.8 493.7 380.4 491.2 382.1 488.7 383.7 486.4 385.4 484.2 387 482.2 388.7 480.7 390.3 479.6 392 479.3Z" fill="url(#gbb)" stroke="none"/>
<path d="M331.5 478.4l1 0 1.7 0 1.6 -.3 1.7 -.5 1.6 -.6 1.7 -.8 1.6 -1.1 1.7 -1.1 1.6 -1.4 1.7 -1.5 1.6 -1.7 1.7 -1.9 1.6 -2 1.7 -2.2 1.6 -2.4 1.7 -2.5 1.6 -2.6 1.7 -2.8 1.6 -2.9 1.7 -3.1 1.7 -3.2 1.6 -3.3 1.7 -3.4 1.6 -3.5 1.7 -3.6 1.6 -3.7 1.7 -3.8 1.6 -3.9 1.7 -3.9 1.6 -4 1.7 -4.1 1.6 -4.1 1.7 -4.1 1.6 -4.1 1.7 -4.2 1.6 -4 1.7 -2.7" stroke="#3eb4e6"/>
<path d="M331.5 478.7l1 .1 1.7 -.1 1.6 -.2 1.7 -.3 1.6 -.4 1.7 -.6 1.6 -.8 1.7 -.8 1.6 -1.1 1.7 -1.3 1.6 -1.4 1.7 -1.6 1.6 -1.8 1.7 -2 1.6 -2.2 1.7 -2.4 1.6 -2.5 1.7 -2.7 1.6 -2.9 1.7 -3 1.7 -3.1 1.6 -3.3 1.7 -3.4 1.6 -3.5 1.7 -3.6 1.6 -3.7 1.7 -3.8 1.6 -3.8 1.7 -4 1.6 -3.9 1.7 -4 1.6 -4.1 1.7 -4 1.6 -4 1.7 -3.9 1.6 -3.4 1.7 -1.8" stroke="#3db3e6"/>
<path d="M331.5 479.1l1 0 1.7 0 1.6 -.1 1.7 -.3 1.6 -.3 1.7 -.4 1.6 -.5 1.7 -.7 1.6 -.9 1.7 -1.1 1.6 -1.2 1.7 -1.4 1.6 -1.7 1.7 -1.9 1.6 -2 1.7 -2.3 1.6 -2.5 1.7 -2.6 1.6 -2.8 1.7 -3 1.7 -3.1 1.6 -3.3 1.7 -3.4 1.6 -3.4 1.7 -3.6 1.6 -3.6 1.7 -3.7 1.6 -3.7 1.7 -3.8 1.6 -3.8 1.7 -3.8 1.6 -3.8 1.7 -3.8 1.6 -3.7 1.7 -3.4 1.6 -2.8 1.7 -1.2" stroke="#3cb3e5"/>
<path d="M331.5 479.4l1 0 1.7 0 1.6 -.1 1.7 -.1 1.6 -.3 1.7 -.3 1.6 -.5 1.7 -.6 1.6 -.8 1.7 -1 1.6 -1.2 1.7 -1.3 1.6 -1.6 1.7 -1.8 1.6 -2.1 1.7 -2.2 1.6 -2.5 1.7 -2.6 1.6 -2.8 1.7 -3 1.7 -3.1 1.6 -3.3 1.7 -3.3 1.6 -3.3 1.7 -3.5 1.6 -3.4 1.7 -3.5 1.6 -3.4 1.7 -3.5 1.6 -3.5 1.7 -3.4 1.6 -3.4 1.7 -3.3 1.6 -3.2 1.7 -2.9 1.6 -2.2 1.7 -.9" stroke="#3bb2e5"/>
<path d="M331.5 479.8l1 0 1.7 -.1 1.6 -.1 1.7 -.1 1.6 -.3 1.7 -.4 1.6 -.5 1.7 -.6 1.6 -.8 1.7 -1 1.6 -1.2 1.7 -1.4 1.6 -1.6 1.7 -1.9 1.6 -2 1.7 -2.3 1.6 -2.5 1.7 -2.7 1.6 -2.8 1.7 -3 1.7 -3.1 1.6 -3.2 1.7 -3.2 1.6 -3.2 1.7 -3.2 1.6 -3.2 1.7 -3.1 1.6 -3.1 1.7 -3 1.6 -2.9 1.7 -2.9 1.6 -2.9 1.7 -2.7 1.6 -2.6 1.7 -2.3 1.6 -1.7 1.7 -.7" stroke="#39b1e5"/>
<path d="M331.5 480.1l1 0 1.7 0 1.6 -.1 1.7 -.2 1.6 -.3 1.7 -.4 1.6 -.5 1.7 -.6 1.6 -.9 1.7 -1 1.6 -1.2 1.7 -1.4 1.6 -1.7 1.7 -1.9 1.6 -2.1 1.7 -2.3 1.6 -2.5 1.7 -2.7 1.6 -2.9 1.7 -3 1.7 -3 1.6 -3.1 1.7 -3.1 1.6 -2.9 1.7 -3 1.6 -2.8 1.7 -2.7 1.6 -2.7 1.7 -2.5 1.6 -2.5 1.7 -2.4 1.6 -2.3 1.7 -2.2 1.6 -2.1 1.7 -1.8 1.6 -1.3 1.7 -.5" stroke="#38b0e5"/>
<path d="M331.5 480.4l1 0 1.7 0 1.6 -.1 1.7 -.2 1.6 -.3 1.7 -.4 1.6 -.5 1.7 -.7 1.6 -.8 1.7 -1.1 1.6 -1.2 1.7 -1.5 1.6 -1.6 1.7 -2 1.6 -2.1 1.7 -2.3 1.6 -2.6 1.7 -2.7 1.6 -2.9 1.7 -3 1.7 -2.9 1.6 -3 1.7 -2.8 1.6 -2.7 1.7 -2.6 1.6 -2.4 1.7 -2.3 1.6 -2.2 1.7 -2.1 1.6 -2 1.7 -1.9 1.6 -1.8 1.7 -1.8 1.6 -1.6 1.7 -1.4 1.6 -1 1.7 -.3" stroke="#37b0e4"/>
<path d="M331.5 480.7l1 .1 1.7 -.1 1.6 -.1 1.7 -.2 1.6 -.3 1.7 -.4 1.6 -.5 1.7 -.7 1.6 -.9 1.7 -1 1.6 -1.3 1.7 -1.5 1.6 -1.7 1.7 -2 1.6 -2.1 1.7 -2.4 1.6 -2.6 1.7 -2.7 1.6 -2.9 1.7 -2.9 1.7 -2.8 1.6 -2.7 1.7 -2.6 1.6 -2.3 1.7 -2.2 1.6 -2 1.7 -1.9 1.6 -1.7 1.7 -1.6 1.6 -1.6 1.7 -1.4 1.6 -1.4 1.7 -1.4 1.6 -1.2 1.7 -1.1 1.6 -.7 1.7 -.3" stroke="#36afe4"/>
<path d="M331.5 481.1l1 0 1.7 0 1.6 -.2 1.7 -.2 1.6 -.3 1.7 -.4 1.6 -.5 1.7 -.8 1.6 -.8 1.7 -1.1 1.6 -1.3 1.7 -1.5 1.6 -1.8 1.7 -1.9 1.6 -2.2 1.7 -2.4 1.6 -2.6 1.7 -2.8 1.6 -2.8 1.7 -2.8 1.7 -2.6 1.6 -2.4 1.7 -2.2 1.6 -1.9 1.7 -1.7 1.6 -1.6 1.7 -1.4 1.6 -1.3 1.7 -1.2 1.6 -1.1 1.7 -1.1 1.6 -1 1.7 -1 1.6 -1 1.7 -.8 1.6 -.6 1.7 -.2" stroke="#35aee4"/>
<path d="M331.5 481.4l1 0 1.7 0 1.6 -.1 1.7 -.3 1.6 -.3 1.7 -.4 1.6 -.6 1.7 -.7 1.6 -.9 1.7 -1.1 1.6 -1.3 1.7 -1.6 1.6 -1.7 1.7 -2 1.6 -2.2 1.7 -2.5 1.6 -2.6 1.7 -2.7 1.6 -2.7 1.7 -2.6 1.7 -2.3 1.6 -2 1.7 -1.7 1.6 -1.4 1.7 -1.2 1.6 -1.1 1.7 -.9 1.6 -.9 1.7 -.8 1.6 -.8 1.7 -.8 1.6 -.7 1.7 -.8 1.6 -.8 1.7 -.6 1.6 -.5 1.7 -.2" stroke="#34aee3"/>
<path d="M331.5 481.7l1 .1 1.7 -.1 1.6 -.1 1.7 -.2 1.6 -.4 1.7 -.4 1.6 -.6 1.7 -.7 1.6 -1 1.7 -1.1 1.6 -1.3 1.7 -1.6 1.6 -1.8 1.7 -2 1.6 -2.2 1.7 -2.5 1.6 -2.6 1.7 -2.6 1.6 -2.6 1.7 -2.3 1.7 -1.9 1.6 -1.5 1.7 -1.1 1.6 -.8 1.7 -.6 1.6 -.6 1.7 -.5 1.6 -.5 1.7 -.5 1.6 -.5 1.7 -.6 1.6 -.6 1.7 -.6 1.6 -.6 1.7 -.6 1.6 -.4 1.7 -.1" stroke="#32ade3"/>
<path d="M331.5 482.1l1 0 1.7 -.1 1.6 -.1 1.7 -.2 1.6 -.4 1.7 -.4 1.6 -.6 1.7 -.8 1.6 -.9 1.7 -1.2 1.6 -1.3 1.7 -1.6 1.6 -1.8 1.7 -2 1.6 -2.3 1.7 -2.5 1.6 -2.5 1.7 -2.6 1.6 -2.3 1.7 -1.9 1.7 -1.4 1.6 -.8 1.7 -.3 1.6 -.2 1.7 0 1.6 0 1.7 -.2 1.6 -.2 1.7 -.3 1.6 -.3 1.7 -.5 1.6 -.5 1.7 -.5 1.6 -.6 1.7 -.6 1.6 -.4 1.7 -.1" stroke="#31ace3"/>
<path d="M331.5 482.4l1 0 1.7 0 1.6 -.2 1.7 -.2 1.6 -.3 1.7 -.5 1.6 -.6 1.7 -.8 1.6 -1 1.7 -1.1 1.6 -1.4 1.7 -1.6 1.6 -1.8 1.7 -2.1 1.6 -2.3 1.7 -2.4 1.6 -2.5 1.7 -2.4 1.6 -1.9 1.7 -1.3 1.7 -.6 1.6 0 1.7 .5 1.6 .6 1.7 .6 1.6 .4 1.7 .2 1.6 -.1 1.7 -.1 1.6 -.4 1.7 -.4 1.6 -.6 1.7 -.6 1.6 -.6 1.7 -.6 1.6 -.4 1.7 -.2" stroke="#30abe3"/>
<path d="M331.5 482.7l1 0 1.7 0 1.6 -.1 1.7 -.3 1.6 -.3 1.7 -.5 1.6 -.6 1.7 -.8 1.6 -1 1.7 -1.2 1.6 -1.4 1.7 -1.6 1.6 -1.8 1.7 -2.1 1.6 -2.3 1.7 -2.4 1.6 -2.4 1.7 -2 1.6 -1.4 1.7 -.5 1.7 .4 1.6 1.1 1.7 1.4 1.6 1.4 1.7 1.2 1.6 .7 1.7 .4 1.6 0 1.7 -.2 1.6 -.4 1.7 -.6 1.6 -.7 1.7 -.8 1.6 -.8 1.7 -.7 1.6 -.5 1.7 -.2" stroke="#2fabe2"/>
<path d="M331.5 483l1 .1 1.7 -.1 1.6 -.1 1.7 -.3 1.6 -.3 1.7 -.5 1.6 -.6 1.7 -.9 1.6 -.9 1.7 -1.2 1.6 -1.4 1.7 -1.7 1.6 -1.9 1.7 -2 1.6 -2.3 1.7 -2.3 1.6 -2.2 1.7 -1.6 1.6 -.6 1.7 .6 1.7 1.6 1.6 2.3 1.7 2.5 1.6 2.2 1.7 1.7 1.6 1 1.7 .4 1.6 -.1 1.7 -.4 1.6 -.7 1.7 -.9 1.6 -1 1.7 -1 1.6 -1 1.7 -.8 1.6 -.6 1.7 -.2" stroke="#2eaae2"/>
<path d="M331.5 483.4l1 0 1.7 0 1.6 -.2 1.7 -.2 1.6 -.4 1.7 -.5 1.6 -.6 1.7 -.8 1.6 -1 1.7 -1.2 1.6 -1.4 1.7 -1.6 1.6 -1.9 1.7 -2.1 1.6 -2.2 1.7 -2.3 1.6 -2.2 1.7 -1.6 1.6 -.6 1.7 .6 1.7 1.7 1.6 2.3 1.7 2.5 1.6 2.3 1.7 1.6 1.6 1 1.7 .5 1.6 -.1 1.7 -.4 1.6 -.7 1.7 -.8 1.6 -1 1.7 -1 1.6 -1 1.7 -.8 1.6 -.6 1.7 -.3" stroke="#2da9e2"/>
<path d="M331.5 483.7l1 0 1.7 0 1.6 -.2 1.7 -.2 1.6 -.4 1.7 -.4 1.6 -.7 1.7 -.8 1.6 -.9 1.7 -1.2 1.6 -1.4 1.7 -1.7 1.6 -1.8 1.7 -2.1 1.6 -2.2 1.7 -2.4 1.6 -2.1 1.7 -1.6 1.6 -.5 1.7 .5 1.7 1.7 1.6 2.4 1.7 2.6 1.6 2.2 1.7 1.7 1.6 1 1.7 .4 1.6 0 1.7 -.4 1.6 -.7 1.7 -.8 1.6 -.9 1.7 -1 1.6 -1 1.7 -.9 1.6 -.6 1.7 -.2" stroke="#2ba9e1"/>
<path d="M331.5 484l1 .1 1.7 -.1 1.6 -.1 1.7 -.3 1.6 -.3 1.7 -.5 1.6 -.6 1.7 -.8 1.6 -1 1.7 -1.2 1.6 -1.4 1.7 -1.6 1.6 -1.8 1.7 -2.1 1.6 -2.3 1.7 -2.3 1.6 -2.1 1.7 -1.5 1.6 -.6 1.7 .6 1.7 1.7 1.6 2.4 1.7 2.6 1.6 2.2 1.7 1.7 1.6 1.1 1.7 .4 1.6 0 1.7 -.4 1.6 -.6 1.7 -.8 1.6 -1 1.7 -1 1.6 -.9 1.7 -.9 1.6 -.6 1.7 -.2" stroke="#2aa8e1"/>
<path d="M331.5 484.3l1 .1 1.7 -.1 1.6 -.4 1.7 -.6 1.6 -.8 1.7 -1.1 1.6 -1.3 1.7 -1.5 1.6 -1.8 1.7 -1.9 1.6 -2.2 1.7 -2.3 1.6 -2.5 1.7 -2.7 1.6 -2.8 1.7 -2.8 1.6 -2.4 1.7 -1.7 1.6 -.4 1.7 1 1.7 2.5 1.6 3.3 1.7 3.5 1.6 3.3 1.7 2.5 1.6 1.8 1.7 1.1 1.6 .5 1.7 .1 1.6 -.2 1.7 -.5 1.6 -.6 1.7 -.8 1.6 -.7 1.7 -.7 1.6 -.5 1.7 -.2" stroke="#29a7e1"/>
<path d="M331.5 489.4l1 0 1.7 -.1 1.6 -.4 1.7 -.6 1.6 -.8 1.7 -1.1 1.6 -1.3 1.7 -1.6 1.6 -1.7 1.7 -2 1.6 -2.1 1.7 -2.3 1.6 -2.5 1.7 -2.7 1.6 -2.7 1.7 -2.7 1.6 -2.5 1.7 -1.7 1.6 -.6 1.7 .9 1.7 2 1.6 2.9 1.7 3.1 1.6 2.7 1.7 2.2 1.6 1.4 1.7 .8 1.6 .3 1.7 -.1 1.6 -.4 1.7 -.7 1.6 -.7 1.7 -.9 1.6 -.8 1.7 -.8 1.6 -.6 1.7 -.2" stroke="#28a7e0"/>
<path d="M331.5 494.4l1 .1 1.7 -.1 1.6 -.4 1.7 -.6 1.6 -.9 1.7 -1.1 1.6 -1.4 1.7 -1.5 1.6 -1.8 1.7 -1.9 1.6 -2.1 1.7 -2.3 1.6 -2.5 1.7 -2.6 1.6 -2.7 1.7 -2.7 1.6 -2.4 1.7 -1.8 1.6 -.7 1.7 .6 1.7 1.7 1.6 2.4 1.7 2.6 1.6 2.3 1.7 1.8 1.6 1.1 1.7 .5 1.6 0 1.7 -.3 1.6 -.6 1.7 -.8 1.6 -.9 1.7 -1 1.6 -.9 1.7 -.9 1.6 -.6 1.7 -.2" stroke="#27a6e0"/>
<path d="M331.5 499.5l1 0 1.7 -.1 1.6 -.4 1.7 -.6 1.6 -.9 1.7 -1.1 1.6 -1.4 1.7 -1.5 1.6 -1.8 1.7 -1.9 1.6 -2.2 1.7 -2.2 1.6 -2.5 1.7 -2.5 1.6 -2.7 1.7 -2.6 1.6 -2.4 1.7 -1.8 1.6 -.9 1.7 .3 1.7 1.3 1.6 2 1.7 2.1 1.6 1.9 1.7 1.3 1.6 .8 1.7 .2 1.6 -.2 1.7 -.5 1.6 -.8 1.7 -1 1.6 -1 1.7 -1.1 1.6 -1 1.7 -.9 1.6 -.7 1.7 -.2" stroke="#26a5e0"/>
<path d="M331.5 504.5l1 .1 1.7 -.1 1.6 -.4 1.7 -.7 1.6 -.9 1.7 -1.1 1.6 -1.4 1.7 -1.6 1.6 -1.7 1.7 -2 1.6 -2.1 1.7 -2.3 1.6 -2.4 1.7 -2.5 1.6 -2.6 1.7 -2.6 1.6 -2.3 1.7 -1.9 1.6 -1 1.7 0 1.7 .9 1.6 1.6 1.7 1.6 1.6 1.4 1.7 1 1.6 .4 1.7 0 1.6 -.5 1.7 -.7 1.6 -1 1.7 -1.1 1.6 -1.2 1.7 -1.2 1.6 -1.1 1.7 -1 1.6 -.7 1.7 -.2" stroke="#24a4e0"/>
<path d="M331.5 509.6l1 0 1.7 -.1 1.6 -.4 1.7 -.7 1.6 -.9 1.7 -1.1 1.6 -1.4 1.7 -1.6 1.6 -1.8 1.7 -1.9 1.6 -2.1 1.7 -2.3 1.6 -2.3 1.7 -2.5 1.6 -2.6 1.7 -2.5 1.6 -2.4 1.7 -1.9 1.6 -1.1 1.7 -.3 1.7 .6 1.6 1 1.7 1.2 1.6 1 1.7 .6 1.6 .1 1.7 -.4 1.6 -.7 1.7 -1 1.6 -1.1 1.7 -1.3 1.6 -1.3 1.7 -1.3 1.6 -1.2 1.7 -1.1 1.6 -.7 1.7 -.3" stroke="#23a4df"/>
<path d="M331.5 514.6l1 .1 1.7 -.2 1.6 -.4 1.7 -.6 1.6 -1 1.7 -1.1 1.6 -1.4 1.7 -1.6 1.6 -1.8 1.7 -2 1.6 -2.1 1.7 -2.2 1.6 -2.3 1.7 -2.5 1.6 -2.5 1.7 -2.5 1.6 -2.3 1.7 -1.9 1.6 -1.3 1.7 -.6 1.7 .2 1.6 .6 1.7 .8 1.6 .5 1.7 .1 1.6 -.2 1.7 -.7 1.6 -.9 1.7 -1.2 1.6 -1.3 1.7 -1.4 1.6 -1.5 1.7 -1.4 1.6 -1.3 1.7 -1.1 1.6 -.8 1.7 -.3" stroke="#22a3df"/>
<path d="M331.5 519.6l1 .1 1.7 -.1 1.6 -.4 1.7 -.7 1.6 -1 1.7 -1.1 1.6 -1.5 1.7 -1.6 1.6 -1.8 1.7 -1.9 1.6 -2.1 1.7 -2.2 1.6 -2.3 1.7 -2.4 1.6 -2.5 1.7 -2.4 1.6 -2.3 1.7 -2 1.6 -1.5 1.7 -.7 1.7 -.2 1.6 .1 1.7 .3 1.6 0 1.7 -.2 1.6 -.6 1.7 -.9 1.6 -1.2 1.7 -1.4 1.6 -1.5 1.7 -1.6 1.6 -1.6 1.7 -1.5 1.6 -1.4 1.7 -1.2 1.6 -.8 1.7 -.3" stroke="#21a2df"/>
<path d="M331.5 524.7l1 .1 1.7 -.2 1.6 -.4 1.7 -.7 1.6 -.9 1.7 -1.3 1.6 -1.4 1.7 -1.6 1.6 -1.8 1.7 -1.9 1.6 -2.1 1.7 -2.2 1.6 -2.3 1.7 -2.3 1.6 -2.5 1.7 -2.4 1.6 -2.3 1.7 -2 1.6 -1.6 1.7 -1 1.7 -.6 1.6 -.3 1.7 -.2 1.6 -.4 1.7 -.6 1.6 -1 1.7 -1.2 1.6 -1.4 1.7 -1.6 1.6 -1.7 1.7 -1.7 1.6 -1.8 1.7 -1.6 1.6 -1.5 1.7 -1.3 1.6 -.8 1.7 -.3" stroke="#20a2de"/>
<path d="M331.5 527.3l1 .1 1.7 -.1 1.6 -.5 1.7 -.7 1.6 -1 1.7 -1.2 1.6 -1.4 1.7 -1.6 1.6 -1.8 1.7 -2 1.6 -2 1.7 -2.2 1.6 -2.3 1.7 -2.3 1.6 -2.4 1.7 -2.4 1.6 -2.3 1.7 -2 1.6 -1.7 1.7 -1.1 1.7 -.8 1.6 -.5 1.7 -.4 1.6 -.6 1.7 -.8 1.6 -1.1 1.7 -1.3 1.6 -1.6 1.7 -1.7 1.6 -1.7 1.7 -1.8 1.6 -1.8 1.7 -1.7 1.6 -1.6 1.7 -1.3 1.6 -.8 1.7 -.3" stroke="#1fa1de"/>
<path d="M331.5 529.9l1 .1 1.7 -.1 1.6 -.5 1.7 -.7 1.6 -1 1.7 -1.2 1.6 -1.4 1.7 -1.7 1.6 -1.8 1.7 -1.9 1.6 -2.1 1.7 -2.1 1.6 -2.3 1.7 -2.3 1.6 -2.4 1.7 -2.3 1.6 -2.3 1.7 -2.1 1.6 -1.7 1.7 -1.3 1.7 -.9 1.6 -.7 1.7 -.6 1.6 -.8 1.7 -1 1.6 -1.2 1.7 -1.5 1.6 -1.7 1.7 -1.7 1.6 -1.9 1.7 -1.8 1.6 -1.9 1.7 -1.8 1.6 -1.6 1.7 -1.3 1.6 -.9 1.7 -.3" stroke="#1da0de"/>
<path d="M331.5 532.5l1 .1 1.7 -.1 1.6 -.5 1.7 -.7 1.6 -1 1.7 -1.2 1.6 -1.4 1.7 -1.7 1.6 -1.8 1.7 -1.9 1.6 -2.1 1.7 -2.2 1.6 -2.2 1.7 -2.3 1.6 -2.3 1.7 -2.3 1.6 -2.3 1.7 -2.1 1.6 -1.8 1.7 -1.4 1.7 -1.1 1.6 -.8 1.7 -.9 1.6 -1 1.7 -1.2 1.6 -1.4 1.7 -1.6 1.6 -1.7 1.7 -1.9 1.6 -1.9 1.7 -2 1.6 -1.9 1.7 -1.8 1.6 -1.6 1.7 -1.4 1.6 -.9 1.7 -.3" stroke="#1c9fde"/>
<path d="M331.5 535.1l1 .1 1.7 -.1 1.6 -.5 1.7 -.7 1.6 -1 1.7 -1.2 1.6 -1.5 1.7 -1.6 1.6 -1.8 1.7 -2 1.6 -2 1.7 -2.2 1.6 -2.2 1.7 -2.3 1.6 -2.3 1.7 -2.3 1.6 -2.2 1.7 -2.1 1.6 -1.9 1.7 -1.5 1.7 -1.2 1.6 -1.1 1.7 -1.1 1.6 -1.2 1.7 -1.4 1.6 -1.5 1.7 -1.7 1.6 -1.9 1.7 -2 1.6 -2 1.7 -2 1.6 -1.9 1.7 -1.9 1.6 -1.7 1.7 -1.4 1.6 -.9 1.7 -.3" stroke="#1b9fdd"/>
<path d="M331.5 537.8l1 0 1.7 0 1.6 -.2 1.7 -.3 1.6 -.5 1.7 -.6 1.6 -.7 1.7 -.8 1.6 -1 1.7 -1.1 1.6 -1.2 1.7 -1.3 1.6 -1.5 1.7 -1.5 1.6 -1.7 1.7 -1.7 1.6 -1.9 1.7 -2 1.6 -2 1.7 -2.2 1.7 -2.2 1.6 -2.3 1.7 -2.3 1.6 -2.4 1.7 -2.5 1.6 -2.5 1.7 -2.6 1.6 -2.5 1.7 -2.6 1.6 -2.5 1.7 -2.5 1.6 -2.3 1.7 -2.2 1.6 -2 1.7 -1.5 1.6 -1.1 1.7 -.3" stroke="#1a9edd"/>
<path d="M331.5 236.5l1 -.6 1.7 1 1.6 2.6 1.7 4.1 1.6 5" stroke="#6ec8ec"/>
<path d="M331.5 239.9l1 -.3 1.7 .5 1.6 1.4 1.7 2.9 1.6 4.5 1.7 5.5" stroke="#6dc7ec"/>
<path d="M331.5 244.4l1 -.2 1.7 .4 1.6 1 1.7 1.7 1.6 3 1.7 4.6 1.6 5.7 1.7 6.3" stroke="#6bc7ec"/>
<path d="M331.5 249.8l1 -.1 1.7 .3 1.6 .8 1.7 1.5 1.6 2.1 1.7 2.9 1.6 4.3 1.7 5.7 1.6 6.4" stroke="#6ac6eb"/>
<path d="M331.5 256.1l1 -.2 1.7 .3 1.6 .8 1.7 1.3 1.6 1.8 1.7 2.4 1.6 2.9 1.7 3.9 1.6 5.2 1.7 6.3 1.6 6.7" stroke="#68c5eb"/>
<path d="M331.5 263l1 -.2 1.7 .3 1.6 .7 1.7 1.2 1.6 1.7 1.7 2.1 1.6 2.6 1.7 3.1 1.6 3.6 1.7 4.5 1.6 5.7 1.7 6.4 1.6 6.6" stroke="#67c5eb"/>
<path d="M331.5 270.5l1 -.1 1.7 .2 1.6 .7 1.7 1.1 1.6 1.5 1.7 2 1.6 2.3 1.7 2.8 1.6 3.1 1.7 3.5 1.6 4.1 1.7 4.7 1.6 5.7 1.7 6.2 1.6 6.3" stroke="#65c4eb"/>
<path d="M331.5 278.6l1 -.1 1.7 .2 1.6 .6 1.7 1 1.6 1.4 1.7 1.7 1.6 2.2 1.7 2.5 1.6 2.8 1.7 3.1 1.6 3.5 1.7 3.8 1.6 4.1 1.7 4.7 1.6 5.4 1.7 5.7 1.6 5.7" stroke="#64c3eb"/>
<path d="M331.5 287.1l1 -.1 1.7 .2 1.6 .5 1.7 .9 1.6 1.3 1.7 1.6 1.6 1.9 1.7 2.2 1.6 2.5 1.7 2.8 1.6 3.1 1.7 3.3 1.6 3.6 1.7 3.8 1.6 4.1 1.7 4.4 1.6 4.8 1.7 5 1.6 5 1.7 4.7" stroke="#63c3ea"/>
<path d="M331.5 295.9l1 -.1 1.7 .2 1.6 .5 1.7 .8 1.6 1.1 1.7 1.4 1.6 1.7 1.7 2 1.6 2.2 1.7 2.5 1.6 2.7 1.7 3 1.6 3.1 1.7 3.3 1.6 3.5 1.7 3.6 1.6 3.9 1.7 3.9 1.6 4.2 1.7 4.2 1.7 4.2 1.6 4" stroke="#61c2ea"/>
<path d="M331.5 304.9l1 -.1 1.7 .2 1.6 .4 1.7 .7 1.6 1 1.7 1.2 1.6 1.5 1.7 1.7 1.6 2 1.7 2.2 1.6 2.4 1.7 2.6 1.6 2.7 1.7 2.9 1.6 3 1.7 3.2 1.6 3.2 1.7 3.3 1.6 3.4 1.7 3.5 1.7 3.5 1.6 3.5 1.7 3.5 1.6 3.2 1.7 3.1 1.6 2.8" stroke="#60c1ea"/>
<path d="M331.5 314l1 -.1 1.7 .1 1.6 .4 1.7 .6 1.6 .8 1.7 1.1 1.6 1.3 1.7 1.5 1.6 1.7 1.7 1.9 1.6 2.1 1.7 2.2 1.6 2.4 1.7 2.5 1.6 2.6 1.7 2.7 1.6 2.7 1.7 2.9 1.6 2.9 1.7 2.9 1.7 2.9 1.6 2.9 1.7 2.9 1.6 2.9 1.7 2.7 1.6 2.6 1.7 2.5 1.6 2.2 1.7 2.1" stroke="#5ec1ea"/>
<path d="M331.5 322.9l1 0 1.7 .1 1.6 .3 1.7 .5 1.6 .7 1.7 .9 1.6 1.1 1.7 1.3 1.6 1.5 1.7 1.6 1.6 1.8 1.7 1.9 1.6 2 1.7 2.1 1.6 2.2 1.7 2.3 1.6 2.4 1.7 2.4 1.6 2.4 1.7 2.4 1.7 2.5 1.6 2.4 1.7 2.4 1.6 2.4 1.7 2.3 1.6 2.3 1.7 2.1 1.6 2.1 1.7 1.9 1.6 1.8 1.7 1.6" stroke="#5dc0ea"/>
<path d="M331.5 331.8l1 -.1 1.7 .1 1.6 .2 1.7 .5 1.6 .6 1.7 .7 1.6 1 1.7 1 1.6 1.3 1.7 1.3 1.6 1.5 1.7 1.6 1.6 1.7 1.7 1.7 1.6 1.9 1.7 1.9 1.6 2 1.7 2 1.6 2 1.7 2 1.7 2 1.6 2.1 1.7 1.9 1.6 2 1.7 1.9 1.6 1.9 1.7 1.8 1.6 1.7 1.7 1.7 1.6 1.6 1.7 1.5 1.6 1.4" stroke="#5bbfea"/>
<path d="M331.5 340.3l1 -.1 1.7 .1 1.6 .2 1.7 .4 1.6 .4 1.7 .7 1.6 .7 1.7 .9 1.6 1 1.7 1.1 1.6 1.2 1.7 1.3 1.6 1.4 1.7 1.4 1.6 1.6 1.7 1.5 1.6 1.6 1.7 1.7 1.6 1.6 1.7 1.7 1.7 1.6 1.6 1.7 1.7 1.6 1.6 1.6 1.7 1.5 1.6 1.5 1.7 1.4 1.6 1.5 1.7 1.3 1.6 1.4 1.7 1.3 1.6 1.3 1.7 1.2" stroke="#5abfe9"/>
<path d="M331.5 348.4l1 -.1 1.7 .1 1.6 .1 1.7 .3 1.6 .4 1.7 .5 1.6 .6 1.7 .7 1.6 .8 1.7 .9 1.6 .9 1.7 1.1 1.6 1.1 1.7 1.1 1.6 1.2 1.7 1.3 1.6 1.3 1.7 1.3 1.6 1.3 1.7 1.3 1.7 1.3 1.6 1.3 1.7 1.3 1.6 1.3 1.7 1.2 1.6 1.2 1.7 1.1 1.6 1.1 1.7 1.1 1.6 1.1 1.7 1 1.6 1.1 1.7 1.2 1.6 1.1" stroke="#59bee9"/>
<path d="M331.5 355.9l1 0 1.7 0 1.6 .2 1.7 .2 1.6 .3 1.7 .4 1.6 .4 1.7 .6 1.6 .6 1.7 .7 1.6 .7 1.7 .8 1.6 .8 1.7 .9 1.6 1 1.7 .9 1.6 1 1.7 1 1.6 1 1.7 1 1.7 1 1.6 1 1.7 1 1.6 1 1.7 .9 1.6 .9 1.7 .9 1.6 .9 1.7 .8 1.6 .8 1.7 .8 1.6 .9 1.7 .9 1.6 1 1.7 1" stroke="#57bde9"/>
<path d="M331.5 362.9l1 0 1.7 0 1.6 .1 1.7 .2 1.6 .2 1.7 .3 1.6 .3 1.7 .4 1.6 .5 1.7 .5 1.6 .5 1.7 .6 1.6 .6 1.7 .7 1.6 .6 1.7 .7 1.6 .8 1.7 .7 1.6 .7 1.7 .8 1.7 .7 1.6 .8 1.7 .7 1.6 .7 1.7 .7 1.6 .7 1.7 .6 1.6 .6 1.7 .6 1.6 .6 1.7 .6 1.6 .7 1.7 .7 1.6 .8 1.7 .9 1.6 .9" stroke="#56bde9"/>
<path d="M331.5 369.2l1 0 1.7 0 1.6 .1 1.7 .1 1.6 .1 1.7 .2 1.6 .3 1.7 .2 1.6 .3 1.7 .4 1.6 .3 1.7 .4 1.6 .5 1.7 .4 1.6 .5 1.7 .5 1.6 .5 1.7 .5 1.6 .5 1.7 .5 1.7 .5 1.6 .5 1.7 .5 1.6 .5 1.7 .5 1.6 .4 1.7 .5 1.6 .4 1.7 .4 1.6 .4 1.7 .5 1.6 .4 1.7 .5 1.6 .6 1.7 .7 1.6 .6 1.7 0" stroke="#54bce9"/>
<path d="M331.5 374.7l1 0 1.7 0 1.6 .1 1.7 .1 1.6 0 1.7 .2 1.6 .1 1.7 .2 1.6 .1 1.7 .3 1.6 .2 1.7 .2 1.6 .3 1.7 .2 1.6 .3 1.7 .3 1.6 .3 1.7 .3 1.6 .3 1.7 .3 1.7 .4 1.6 .3 1.7 .3 1.6 .3 1.7 .3 1.6 .3 1.7 .2 1.6 .3 1.7 .3 1.6 .3 1.7 .2 1.6 .3 1.7 .4 1.6 .4 1.7 .5 1.6 .1 1.7 0" stroke="#53bbe8"/>
<path d="M331.5 379.5l1 0 1.7 0 1.6 0 1.7 0 1.6 .1 1.7 0 1.6 .1 1.7 .1 1.6 .1 1.7 .1 1.6 .1 1.7 .1 1.6 .1 1.7 .1 1.6 .1 1.7 .2 1.6 .1 1.7 .2 1.6 .1 1.7 .1 1.7 .2 1.6 .1 1.7 .2 1.6 .1 1.7 .2 1.6 .1 1.7 .2 1.6 .1 1.7 .1 1.6 .2 1.7 .2 1.6 .2 1.7 .2 1.6 .1 1.7 0 1.6 0 1.7 0" stroke="#51bbe8"/>
<path d="M331.5 383.4l1 0 1.7 0 1.6 0 1.7 0 1.6 0 1.7 0 1.6 0 1.7 0 1.6 0 1.7 0 1.6 0 1.7 0 1.6 0 1.7 0 1.6 0 1.7 0 1.6 0 1.7 0 1.6 0 1.7 0 1.7 0 1.6 0 1.7 0 1.6 0 1.7 0 1.6 0 1.7 0 1.6 0 1.7 0 1.6 0 1.7 0 1.6 0 1.7 0 1.6 0 1.7 0 1.6 0 1.7 0" stroke="#50bae8"/>
<path d="M331.5 383.4l1 0 1.7 0 1.6 0 1.7 0 1.6 0 1.7 0 1.6 0 1.7 0 1.6 0 1.7 0 1.6 0 1.7 0 1.6 0 1.7 0 1.6 0 1.7 0 1.6 0 1.7 0 1.6 0 1.7 0 1.7 0 1.6 0 1.7 0 1.6 0 1.7 0 1.6 0 1.7 0 1.6 0 1.7 0 1.6 0 1.7 0 1.6 0 1.7 0 1.6 0 1.7 0 1.6 0 1.7 0" stroke="#50bae8"/>
<path d="M331.5 230.6l1 0 1.7 0 1.6 0 1.7 0 1.6 0 1.7 0 1.6 0 1.7 0 1.6 0 1.7 0 1.6 0 1.7 0 1.6 0 1.7 0 1.6 0 1.7 0 1.6 0 1.7 0 1.6 0 1.7 0 1.7 0 1.6 0 1.7 0 1.6 0 1.7 0 1.6 0 1.7 0 1.6 0 1.7 0 1.6 0 1.7 0 1.6 0 1.7 0 1.6 0 1.7 0 1.6 0 1.7 0" stroke="#b9e2f1"/>
<path d="M331.5 230.6l1 0 1.7 0 1.6 0 1.7 0 1.6 0 1.7 0 1.6 0 1.7 0 1.6 0 1.7 .3 1.6 .5 1.7 .4 1.6 .3 1.7 .3 1.6 .3 1.7 .2 1.6 .2 1.7 .2 1.6 .1 1.7 .2 1.7 .1 1.6 .1 1.7 0 1.6 .1 1.7 .1 1.6 0 1.7 .1 1.6 0 1.7 0 1.6 .1 1.7 0 1.6 0 1.7 0 1.6 0 1.7 .1 1.6 0 1.7 0" stroke="#b8e2f1"/>
<path d="M337.5 230.6l1.6 0 1.7 .4 1.6 .8 1.7 .8 1.6 .8 1.7 .7 1.6 .7 1.7 .6 1.6 .5 1.7 .5 1.6 .3 1.7 .3 1.6 .3 1.7 .2 1.6 .2 1.7 .2 1.7 .1 1.6 .1 1.7 .1 1.6 .1 1.7 0 1.6 .1 1.7 0 1.6 .1 1.7 0 1.6 0 1.7 .1 1.6 0 1.7 0 1.6 0 1.7 0 1.6 0 1.7 .1" stroke="#b7e1f1"/>
<path d="M340.8 232.7l1.6 1 1.7 1.1 1.6 1.1 1.7 1.1 1.6 1.1 1.7 .9 1.6 .9 1.7 .7 1.6 .6 1.7 .5 1.6 .3 1.7 .3 1.6 .3 1.7 .2 1.7 .2 1.6 .1 1.7 .1 1.6 .1 1.7 .1 1.6 0 1.7 .1 1.6 0 1.7 .1 1.6 0 1.7 0 1.6 .1 1.7 0 1.6 0 1.7 0 1.6 0 1.7 0" stroke="#b6e1f1"/>
<path d="M345.7 237.8l1.7 1.4 1.6 1.5 1.7 1.5 1.6 1.4 1.7 1.2 1.6 1 1.7 .8 1.6 .6 1.7 .5 1.6 .3 1.7 .3 1.7 .2 1.6 .2 1.7 .1 1.6 .1 1.7 .1 1.6 .1 1.7 .1 1.6 0 1.7 .1 1.6 0 1.7 0 1.6 .1 1.7 0 1.6 0 1.7 0 1.6 0 1.7 0" stroke="#b5e0f0"/>
<path d="M349 242.4l1.7 1.9 1.6 2 1.7 1.9 1.6 1.7 1.7 1.4 1.6 1.2 1.7 .8 1.6 .6 1.7 .4 1.7 .3 1.6 .3 1.7 .1 1.6 .2 1.7 .1 1.6 .1 1.7 .1 1.6 0 1.7 .1 1.6 0 1.7 .1 1.6 0 1.7 0 1.6 0 1.7 0 1.6 .1 1.7 0" stroke="#b4e0f0"/>
<path d="M352.3 247.9l1.7 2.4 1.6 2.5 1.7 2.3 1.6 2 1.7 1.6 1.6 1.1 1.7 .8 1.7 .5 1.6 .4 1.7 .2 1.6 .2 1.7 .2 1.6 .1 1.7 .1 1.6 .1 1.7 0 1.6 .1 1.7 0 1.6 .1 1.7 0 1.6 0 1.7 0 1.6 0 1.7 .1" stroke="#b2dff0"/>
<path d="M354 251.5l1.6 2.9 1.7 3 1.6 3 1.7 2.7 1.6 2.1 1.7 1.6 1.7 .9 1.6 .7 1.7 .4 1.6 .3 1.7 .2 1.6 .2 1.7 .1 1.6 .1 1.7 .1 1.6 0 1.7 .1 1.6 0 1.7 0 1.6 .1 1.7 0 1.6 0 1.7 0" stroke="#b1dff0"/>
<path d="M357.3 258.6l1.6 3.5 1.7 3.6 1.6 3.4 1.7 2.9 1.7 2 1.6 1.3 1.7 .7 1.6 .5 1.7 .4 1.6 .2 1.7 .2 1.6 .1 1.7 .1 1.6 .1 1.7 0 1.6 .1 1.7 0 1.6 0 1.7 .1 1.6 0 1.7 0" stroke="#b0dff0"/>
<path d="M358.9 263l1.7 4 1.6 4.1 1.7 4.1 1.7 3.6 1.6 2.7 1.7 1.6 1.6 .9 1.7 .6 1.6 .4 1.7 .2 1.6 .2 1.7 .1 1.6 .1 1.7 .1 1.6 0 1.7 .1 1.6 0 1.7 .1 1.6 0 1.7 0" stroke="#afdef0"/>
<path d="M362.2 272.1l1.7 4.7 1.7 4.6 1.6 4.3 1.7 3.4 1.6 2 1.7 1.2 1.6 .6 1.7 .4 1.6 .3 1.7 .1 1.6 .2 1.7 .1 1.6 .1 1.7 0 1.6 .1 1.7 0 1.6 0 1.7 0" stroke="#aedef0"/>
<path d="M363.9 277.6l1.7 5.1 1.6 5.2 1.7 4.9 1.6 3.9 1.7 2.5 1.6 1.4 1.7 .7 1.6 .5 1.7 .3 1.6 .2 1.7 .1 1.6 .1 1.7 .1 1.6 0 1.7 .1 1.6 0 1.7 0" stroke="#adddf0"/>
<path d="M365.6 283.4l1.6 5.5 1.7 5.6 1.6 5.4 1.7 4.6 1.6 2.9 1.7 1.6 1.6 .8 1.7 .5 1.6 .3 1.7 .2 1.6 .2 1.7 .1 1.6 0 1.7 .1 1.6 0 1.7 .1" stroke="#acddef"/>
<path d="M368.9 295.4l1.6 6 1.7 5.8 1.6 5 1.7 3.4 1.6 1.8 1.7 .9 1.6 .5 1.7 .3 1.6 .2 1.7 .2 1.6 .1 1.7 .1 1.6 0 1.7 .1" stroke="#abdcef"/>
<path d="M370.5 302.2l1.7 6.3 1.6 6.1 1.7 5.3 1.6 3.7 1.7 2 1.6 1 1.7 .6 1.6 .3 1.7 .2 1.6 .2 1.7 .1 1.6 0 1.7 .1" stroke="#aadcef"/>
<path d="M372.2 309.3l1.6 6.5 1.7 6.3 1.6 5.5 1.7 3.9 1.6 2.1 1.7 1.1 1.6 .6 1.7 .3 1.6 .3 1.7 .1 1.6 .1 1.7 .1" stroke="#a9dbef"/>
<path d="M373.8 316.5l1.7 6.7 1.6 6.4 1.7 5.5 1.6 4 1.7 2.3 1.6 1.1 1.7 .6 1.6 .4 1.7 .2 1.6 .2 1.7 .1" stroke="#a8dbef"/>
<path d="M375.5 324l1.6 6.7 1.7 6.3 1.6 5.5 1.7 4 1.6 2.3 1.7 1.1 1.6 .7 1.7 .4 1.6 .2 1.7 .1" stroke="#a7dbef"/>
<path d="M377.1 331.5l1.7 6.7 1.6 6.2 1.7 5.3 1.6 3.8 1.7 2.2 1.6 1.2 1.7 .7 1.6 .4 1.7 .2" stroke="#a5daef"/>
<path d="M378.8 339.1l1.6 6.5 1.7 6 1.6 5 1.7 3.6 1.6 2.1 1.7 1.2 1.6 .7 1.7 .4" stroke="#a4daef"/>
<path d="M380.4 346.8l1.7 6.2 1.6 5.6 1.7 4.6 1.6 3.3 1.7 2 1.6 1.1 1.7 .7" stroke="#a3d9ee"/>
<path d="M382.1 354.4l1.6 5.9 1.7 5.2 1.6 4.1 1.7 2.9 1.6 1.8 1.7 1" stroke="#a2d9ee"/>
<path d="M383.7 362.1l1.7 5.4 1.6 4.6 1.7 3.6 1.6 2.5 1.7 1.5" stroke="#a1d8ee"/>
<path d="M385.4 369.5l1.6 4.9 1.7 3.9 1.6 3.1 1.7 2" stroke="#a0d8ee"/>
<path d="M332 230.6 332.5 230.6 334.2 232.9 335.8 235.4 337.5 238.3 339.1 241.4 340.8 244.8 342.4 248.4 344.1 252.4 345.7 256.5 347.4 260.9 349 265.5 350.7 270.2 352.3 275.2 354 280.2 355.6 285.4 357.3 290.7 358.9 296.1 360.6 301.5 362.2 307 363.9 312.5 365.6 317.9 367.2 323.3 368.9 328.6 370.5 333.8 372.2 338.8 373.8 343.8 375.5 348.5 377.1 353.1 378.8 357.5 380.4 361.6 382.1 365.6 383.7 369.2 385.4 372.6 387 375.7 388.7 378.6 390.3 381.1 392 383.4 392 383.4 390.3 382.3 388.7 381.1 387 379.8 385.4 378.4 383.7 376.8 382.1 375.2 380.4 373.3 378.8 371.3 377.1 369.1 375.5 366.7 373.8 364 372.2 361.1 370.5 357.9 368.9 354.3 367.2 350.5 365.6 346.3 363.9 341.8 362.2 336.9 360.6 331.7 358.9 326.1 357.3 320.2 355.6 314 354 307.5 352.3 300.8 350.7 294 349 287 347.4 280.1 345.7 273.2 344.1 266.5 342.4 260 340.8 253.9 339.1 248.1 337.5 242.9 335.8 238.2 334.2 234.1 332.5 230.6 332 230.6Z" fill="url(#gib)" stroke="none"/>
<path d="M332 230.6 332.5 230.6 334.2 231.6 335.8 232.6 337.5 233.8 339.1 235 340.8 236.3 342.4 237.8 344.1 239.4 345.7 241.2 347.4 243.2 349 245.4 350.7 247.8 352.3 250.5 354 253.5 355.6 256.8 357.3 260.5 358.9 264.5 360.6 268.9 362.2 273.7 363.9 278.8 365.6 284.4 367.2 290.3 368.9 296.5 370.5 303.1 372.2 310 373.8 317 375.5 324.2 377.1 331.4 378.8 338.6 380.4 345.6 382.1 352.4 383.7 358.9 385.4 365 387 370.5 388.7 375.5 390.3 379.8 392 383.4 392 383.4 390.3 381.1 388.7 378.6 387 375.7 385.4 372.6 383.7 369.2 382.1 365.6 380.4 361.6 378.8 357.5 377.1 353.1 375.5 348.5 373.8 343.8 372.2 338.8 370.5 333.8 368.9 328.6 367.2 323.3 365.6 317.9 363.9 312.5 362.2 307 360.6 301.5 358.9 296.1 357.3 290.7 355.6 285.4 354 280.2 352.3 275.2 350.7 270.2 349 265.5 347.4 260.9 345.7 256.5 344.1 252.4 342.4 248.4 340.8 244.8 339.1 241.4 337.5 238.3 335.8 235.4 334.2 232.9 332.5 230.6 332 230.6Z" fill="url(#gob)" stroke="none"/>
<path d="M331.5 232l1 -1.4 1.7 2.3 1.6 2.5 1.7 2.9 1.6 3.1 1.7 3.4 1.6 3.6 1.7 4 1.6 4.1 1.7 4.4 1.6 4.6 1.7 4.7 1.6 5 1.7 5 1.6 5.2 1.7 5.3 1.6 5.4 1.7 5.4 1.6 5.5 1.7 5.5 1.7 5.4 1.6 5.4 1.7 5.3 1.6 5.2 1.7 5 1.6 5 1.7 4.7 1.6 4.6 1.7 4.4 1.6 4.1 1.7 4 1.6 3.6 1.7 3.4 1.6 3.1 1.7 2.9 1.6 2.5 1.7 2.3" stroke="#000" stroke-width="1.4"/>
<path d="M332 134.7 332.5 134.7 334.2 134.4 335.8 133.3 337.5 131.8 339.1 129.8 340.8 127.6 342.4 125.3 344.1 122.8 345.7 120.3 347.4 117.7 349 115.2 350.7 112.6 352.3 110.1 354 107.6 355.6 105.2 357.3 102.9 358.9 100.6 360.6 98.4 362.2 96.2 363.9 94.2 365.6 92.2 367.2 90.3 368.9 88.6 370.5 86.9 372.2 85.4 373.8 83.9 375.5 82.6 377.1 81.4 378.8 80.3 380.4 79.3 382.1 78.5 383.7 77.8 385.4 77.2 387 76.7 388.7 76.4 390.3 76.2 392 76.1 392 135.6 390.3 135.6 388.7 135.9 387 136.4 385.4 137 383.7 137.8 382.1 138.9 380.4 140 378.8 141.4 377.1 142.9 375.5 144.6 373.8 146.5 372.2 148.5 370.5 150.7 368.9 153.1 367.2 155.6 365.6 158.2 363.9 161 362.2 163.9 360.6 167 358.9 170.2 357.3 173.5 355.6 176.9 354 180.4 352.3 184 350.7 187.7 349 191.5 347.4 195.4 345.7 199.3 344.1 203.3 342.4 207.4 340.8 211.5 339.1 215.6 337.5 219.7 335.8 223.9 334.2 227.9 332.5 230.6 332 230.6Z" fill="url(#gtb)" stroke="none"/>
<path d="M331.5 229l1 1.6 1.7 -2.7 1.6 -4 1.7 -4.2 1.6 -4.1 1.7 -4.1 1.6 -4.1 1.7 -4.1 1.6 -4 1.7 -3.9 1.6 -3.9 1.7 -3.8 1.6 -3.7 1.7 -3.6 1.6 -3.5 1.7 -3.4 1.6 -3.3 1.7 -3.2 1.6 -3.1 1.7 -2.9 1.7 -2.8 1.6 -2.6 1.7 -2.5 1.6 -2.4 1.7 -2.2 1.6 -2 1.7 -1.9 1.6 -1.7 1.7 -1.5 1.6 -1.4 1.7 -1.1 1.6 -1.1 1.7 -.8 1.6 -.6 1.7 -.5 1.6 -.3 1.7 0" stroke="#bee4f2"/>
<path d="M331.5 223.5l1 1.1 1.7 -1.8 1.6 -3.4 1.7 -3.9 1.6 -4 1.7 -4 1.6 -4.1 1.7 -4 1.6 -3.9 1.7 -4 1.6 -3.8 1.7 -3.8 1.6 -3.7 1.7 -3.6 1.6 -3.5 1.7 -3.4 1.6 -3.3 1.7 -3.1 1.6 -3 1.7 -2.9 1.7 -2.7 1.6 -2.5 1.7 -2.4 1.6 -2.2 1.7 -2 1.6 -1.8 1.7 -1.6 1.6 -1.4 1.7 -1.3 1.6 -1.1 1.7 -.8 1.6 -.8 1.7 -.6 1.6 -.4 1.7 -.3 1.6 -.2 1.7 -.1" stroke="#c0e5f2"/>
<path d="M331.5 217.8l1 .7 1.7 -1.2 1.6 -2.8 1.7 -3.4 1.6 -3.7 1.7 -3.8 1.6 -3.8 1.7 -3.8 1.6 -3.8 1.7 -3.8 1.6 -3.7 1.7 -3.7 1.6 -3.6 1.7 -3.6 1.6 -3.4 1.7 -3.4 1.6 -3.3 1.7 -3.1 1.6 -3 1.7 -2.8 1.7 -2.6 1.6 -2.5 1.7 -2.3 1.6 -2 1.7 -1.9 1.6 -1.7 1.7 -1.4 1.6 -1.2 1.7 -1.1 1.6 -.9 1.7 -.7 1.6 -.5 1.7 -.4 1.6 -.3 1.7 -.3 1.6 -.1 1.7 0" stroke="#c2e5f3"/>
<path d="M331.5 212l1 .5 1.7 -.9 1.6 -2.2 1.7 -2.9 1.6 -3.2 1.7 -3.3 1.6 -3.4 1.7 -3.4 1.6 -3.5 1.7 -3.5 1.6 -3.4 1.7 -3.5 1.6 -3.4 1.7 -3.5 1.6 -3.3 1.7 -3.3 1.6 -3.3 1.7 -3.1 1.6 -3 1.7 -2.8 1.7 -2.6 1.6 -2.5 1.7 -2.2 1.6 -2.1 1.7 -1.8 1.6 -1.6 1.7 -1.3 1.6 -1.2 1.7 -1 1.6 -.8 1.7 -.6 1.6 -.5 1.7 -.3 1.6 -.3 1.7 -.1 1.6 -.1 1.7 0" stroke="#c3e6f3"/>
<path d="M331.5 206.1l1 .4 1.7 -.7 1.6 -1.7 1.7 -2.3 1.6 -2.6 1.7 -2.7 1.6 -2.9 1.7 -2.9 1.6 -2.9 1.7 -3 1.6 -3.1 1.7 -3.1 1.6 -3.2 1.7 -3.2 1.6 -3.2 1.7 -3.2 1.6 -3.2 1.7 -3.1 1.6 -3 1.7 -2.8 1.7 -2.7 1.6 -2.5 1.7 -2.3 1.6 -2 1.7 -1.9 1.6 -1.6 1.7 -1.4 1.6 -1.2 1.7 -1 1.6 -.8 1.7 -.6 1.6 -.5 1.7 -.4 1.6 -.3 1.7 -.1 1.6 -.1 1.7 -.1" stroke="#c5e7f3"/>
<path d="M331.5 200.2l1 .3 1.7 -.5 1.6 -1.3 1.7 -1.8 1.6 -2.1 1.7 -2.2 1.6 -2.3 1.7 -2.4 1.6 -2.5 1.7 -2.5 1.6 -2.7 1.7 -2.7 1.6 -2.8 1.7 -3 1.6 -2.9 1.7 -3.1 1.6 -3.1 1.7 -3 1.6 -3 1.7 -2.9 1.7 -2.7 1.6 -2.5 1.7 -2.3 1.6 -2.1 1.7 -1.9 1.6 -1.7 1.7 -1.4 1.6 -1.2 1.7 -1 1.6 -.9 1.7 -.6 1.6 -.5 1.7 -.4 1.6 -.3 1.7 -.2 1.6 -.1 1.7 0" stroke="#c7e8f4"/>
<path d="M331.5 194.2l1 .2 1.7 -.3 1.6 -1 1.7 -1.4 1.6 -1.6 1.7 -1.8 1.6 -1.8 1.7 -1.9 1.6 -2 1.7 -2.1 1.6 -2.2 1.7 -2.3 1.6 -2.4 1.7 -2.6 1.6 -2.7 1.7 -2.8 1.6 -3 1.7 -2.9 1.6 -3 1.7 -2.9 1.7 -2.7 1.6 -2.6 1.7 -2.3 1.6 -2.1 1.7 -2 1.6 -1.6 1.7 -1.5 1.6 -1.2 1.7 -1.1 1.6 -.8 1.7 -.7 1.6 -.5 1.7 -.4 1.6 -.3 1.7 -.2 1.6 -.1 1.7 0" stroke="#c9e8f4"/>
<path d="M331.5 188.3l1 .1 1.7 -.3 1.6 -.7 1.7 -1.1 1.6 -1.2 1.7 -1.4 1.6 -1.4 1.7 -1.4 1.6 -1.6 1.7 -1.6 1.6 -1.7 1.7 -1.9 1.6 -2 1.7 -2.2 1.6 -2.3 1.7 -2.6 1.6 -2.7 1.7 -2.8 1.6 -2.9 1.7 -2.9 1.7 -2.7 1.6 -2.6 1.7 -2.4 1.6 -2.1 1.7 -2 1.6 -1.7 1.7 -1.5 1.6 -1.3 1.7 -1 1.6 -.9 1.7 -.7 1.6 -.5 1.7 -.4 1.6 -.3 1.7 -.2 1.6 -.1 1.7 -.1" stroke="#cbe9f4"/>
<path d="M331.5 182.3l1 .1 1.7 -.2 1.6 -.6 1.7 -.8 1.6 -1 1.7 -1 1.6 -1 1.7 -1.1 1.6 -1.1 1.7 -1.2 1.6 -1.3 1.7 -1.4 1.6 -1.6 1.7 -1.7 1.6 -1.9 1.7 -2.2 1.6 -2.4 1.7 -2.6 1.6 -2.8 1.7 -2.8 1.7 -2.8 1.6 -2.6 1.7 -2.4 1.6 -2.2 1.7 -1.9 1.6 -1.8 1.7 -1.5 1.6 -1.3 1.7 -1.1 1.6 -.8 1.7 -.8 1.6 -.5 1.7 -.4 1.6 -.3 1.7 -.2 1.6 -.2 1.7 0" stroke="#cceaf5"/>
<path d="M331.5 176.3l1 .1 1.7 -.2 1.6 -.5 1.7 -.6 1.6 -.8 1.7 -.8 1.6 -.7 1.7 -.8 1.6 -.8 1.7 -.8 1.6 -.9 1.7 -.9 1.6 -1.1 1.7 -1.2 1.6 -1.4 1.7 -1.7 1.6 -2 1.7 -2.3 1.6 -2.6 1.7 -2.7 1.7 -2.7 1.6 -2.6 1.7 -2.5 1.6 -2.2 1.7 -2 1.6 -1.7 1.7 -1.6 1.6 -1.3 1.7 -1.1 1.6 -.9 1.7 -.7 1.6 -.6 1.7 -.4 1.6 -.3 1.7 -.3 1.6 -.1 1.7 0" stroke="#ceebf5"/>
<path d="M331.5 170.3l1 0 1.7 -.1 1.6 -.4 1.7 -.6 1.6 -.6 1.7 -.6 1.6 -.6 1.7 -.6 1.6 -.5 1.7 -.5 1.6 -.5 1.7 -.5 1.6 -.6 1.7 -.6 1.6 -.8 1.7 -1.1 1.6 -1.5 1.7 -1.9 1.6 -2.3 1.7 -2.6 1.7 -2.6 1.6 -2.6 1.7 -2.5 1.6 -2.2 1.7 -2 1.6 -1.8 1.7 -1.6 1.6 -1.3 1.7 -1.1 1.6 -1 1.7 -.7 1.6 -.6 1.7 -.4 1.6 -.4 1.7 -.2 1.6 -.1 1.7 -.1" stroke="#d0ebf6"/>
<path d="M331.5 164.2l1 .1 1.7 -.1 1.6 -.4 1.7 -.6 1.6 -.6 1.7 -.5 1.6 -.5 1.7 -.5 1.6 -.3 1.7 -.3 1.6 -.2 1.7 -.2 1.6 0 1.7 0 1.6 -.2 1.7 -.3 1.6 -.8 1.7 -1.4 1.6 -1.9 1.7 -2.3 1.7 -2.6 1.6 -2.5 1.7 -2.5 1.6 -2.3 1.7 -2 1.6 -1.8 1.7 -1.6 1.6 -1.3 1.7 -1.2 1.6 -.9 1.7 -.8 1.6 -.6 1.7 -.4 1.6 -.4 1.7 -.2 1.6 -.1 1.7 -.1" stroke="#d2ecf6"/>
<path d="M331.5 158.2l1 .1 1.7 -.2 1.6 -.4 1.7 -.6 1.6 -.6 1.7 -.6 1.6 -.6 1.7 -.4 1.6 -.4 1.7 -.1 1.6 -.1 1.7 .2 1.6 .4 1.7 .6 1.6 .6 1.7 .5 1.6 0 1.7 -.6 1.6 -1.3 1.7 -1.9 1.7 -2.4 1.6 -2.5 1.7 -2.4 1.6 -2.3 1.7 -2.1 1.6 -1.8 1.7 -1.6 1.6 -1.4 1.7 -1.1 1.6 -1 1.7 -.8 1.6 -.6 1.7 -.5 1.6 -.3 1.7 -.2 1.6 -.2 1.7 0" stroke="#d4edf6"/>
<path d="M331.5 152.2l1 .1 1.7 -.2 1.6 -.5 1.7 -.7 1.6 -.8 1.7 -.8 1.6 -.7 1.7 -.6 1.6 -.4 1.7 -.2 1.6 0 1.7 .4 1.6 .7 1.7 1.2 1.6 1.4 1.7 1.4 1.6 1.1 1.7 .4 1.6 -.5 1.7 -1.4 1.7 -2 1.6 -2.4 1.7 -2.4 1.6 -2.3 1.7 -2.1 1.6 -1.8 1.7 -1.6 1.6 -1.4 1.7 -1.2 1.6 -1 1.7 -.8 1.6 -.6 1.7 -.5 1.6 -.3 1.7 -.3 1.6 -.1 1.7 0" stroke="#d5eef7"/>
<path d="M331.5 146.1l1 .1 1.7 -.2 1.6 -.6 1.7 -.8 1.6 -1 1.7 -1 1.6 -1 1.7 -.9 1.6 -.7 1.7 -.4 1.6 -.1 1.7 .4 1.6 1 1.7 1.7 1.6 2.2 1.7 2.5 1.6 2.3 1.7 1.6 1.6 .6 1.7 -.6 1.7 -1.6 1.6 -2.2 1.7 -2.3 1.6 -2.3 1.7 -2 1.6 -1.9 1.7 -1.7 1.6 -1.4 1.7 -1.2 1.6 -.9 1.7 -.9 1.6 -.6 1.7 -.5 1.6 -.3 1.7 -.3 1.6 -.1 1.7 -.1" stroke="#d7eef7"/>
<path d="M331.5 145.4l1 .2 1.7 -.3 1.6 -.6 1.7 -.8 1.6 -1 1.7 -1 1.6 -1 1.7 -.8 1.6 -.7 1.7 -.4 1.6 -.1 1.7 .5 1.6 1 1.7 1.6 1.6 2.3 1.7 2.5 1.6 2.3 1.7 1.7 1.6 .6 1.7 -.6 1.7 -1.6 1.6 -2.2 1.7 -2.3 1.6 -2.2 1.7 -2.1 1.6 -1.9 1.7 -1.6 1.6 -1.4 1.7 -1.2 1.6 -1 1.7 -.8 1.6 -.6 1.7 -.5 1.6 -.4 1.7 -.2 1.6 -.2 1.7 0" stroke="#d9eff7"/>
<path d="M331.5 144.8l1 .1 1.7 -.2 1.6 -.6 1.7 -.9 1.6 -1 1.7 -1 1.6 -.9 1.7 -.8 1.6 -.7 1.7 -.4 1.6 0 1.7 .4 1.6 1 1.7 1.7 1.6 2.2 1.7 2.6 1.6 2.4 1.7 1.7 1.6 .5 1.7 -.5 1.7 -1.6 1.6 -2.1 1.7 -2.4 1.6 -2.2 1.7 -2.1 1.6 -1.8 1.7 -1.7 1.6 -1.4 1.7 -1.2 1.6 -.9 1.7 -.8 1.6 -.7 1.7 -.4 1.6 -.4 1.7 -.2 1.6 -.2 1.7 0" stroke="#dbf0f8"/>
<path d="M331.5 144.1l1 .1 1.7 -.2 1.6 -.6 1.7 -.9 1.6 -.9 1.7 -1 1.6 -1 1.7 -.8 1.6 -.6 1.7 -.4 1.6 0 1.7 .4 1.6 1.1 1.7 1.7 1.6 2.2 1.7 2.6 1.6 2.4 1.7 1.7 1.6 .6 1.7 -.6 1.7 -1.5 1.6 -2.1 1.7 -2.3 1.6 -2.3 1.7 -2.1 1.6 -1.8 1.7 -1.6 1.6 -1.4 1.7 -1.2 1.6 -1 1.7 -.8 1.6 -.6 1.7 -.5 1.6 -.3 1.7 -.3 1.6 -.1 1.7 -.1" stroke="#ddf1f8"/>
<path d="M331.5 143.4l1 .1 1.7 -.2 1.6 -.5 1.7 -.7 1.6 -.7 1.7 -.8 1.6 -.6 1.7 -.5 1.6 -.2 1.7 .1 1.6 .5 1.7 1.1 1.6 1.8 1.7 2.5 1.6 3.3 1.7 3.5 1.6 3.3 1.7 2.5 1.6 1 1.7 -.4 1.7 -1.7 1.6 -2.4 1.7 -2.8 1.6 -2.8 1.7 -2.7 1.6 -2.5 1.7 -2.3 1.6 -2.2 1.7 -1.9 1.6 -1.8 1.7 -1.5 1.6 -1.3 1.7 -1.1 1.6 -.8 1.7 -.6 1.6 -.4 1.7 -.1" stroke="#dff1f8"/>
<path d="M331.5 142.7l1 .2 1.7 -.2 1.6 -.6 1.7 -.8 1.6 -.8 1.7 -.9 1.6 -.7 1.7 -.7 1.6 -.4 1.7 -.1 1.6 .3 1.7 .8 1.6 1.4 1.7 2.2 1.6 2.7 1.7 3.1 1.6 2.9 1.7 2 1.6 .9 1.7 -.6 1.7 -1.7 1.6 -2.5 1.7 -2.7 1.6 -2.7 1.7 -2.7 1.6 -2.5 1.7 -2.3 1.6 -2.1 1.7 -2 1.6 -1.7 1.7 -1.6 1.6 -1.3 1.7 -1.1 1.6 -.8 1.7 -.6 1.6 -.4 1.7 -.1" stroke="#e0f2f9"/>
<path d="M331.5 142.1l1 .1 1.7 -.2 1.6 -.6 1.7 -.9 1.6 -.9 1.7 -1 1.6 -.9 1.7 -.8 1.6 -.6 1.7 -.3 1.6 0 1.7 .5 1.6 1.1 1.7 1.8 1.6 2.3 1.7 2.6 1.6 2.4 1.7 1.7 1.6 .6 1.7 -.7 1.7 -1.8 1.6 -2.4 1.7 -2.7 1.6 -2.7 1.7 -2.6 1.6 -2.5 1.7 -2.3 1.6 -2.1 1.7 -1.9 1.6 -1.8 1.7 -1.5 1.6 -1.4 1.7 -1.1 1.6 -.9 1.7 -.6 1.6 -.4 1.7 -.1" stroke="#e2f3f9"/>
<path d="M331.5 141.4l1 .1 1.7 -.2 1.6 -.7 1.7 -.9 1.6 -1 1.7 -1.1 1.6 -1 1.7 -1 1.6 -.8 1.7 -.5 1.6 -.2 1.7 .2 1.6 .8 1.7 1.3 1.6 1.9 1.7 2.1 1.6 2 1.7 1.3 1.6 .3 1.7 -.9 1.7 -1.8 1.6 -2.4 1.7 -2.6 1.6 -2.7 1.7 -2.5 1.6 -2.5 1.7 -2.2 1.6 -2.2 1.7 -1.9 1.6 -1.8 1.7 -1.5 1.6 -1.4 1.7 -1.1 1.6 -.9 1.7 -.6 1.6 -.4 1.7 -.1" stroke="#e4f4f9"/>
<path d="M331.5 140.7l1 .1 1.7 -.2 1.6 -.7 1.7 -1 1.6 -1.1 1.7 -1.2 1.6 -1.2 1.7 -1.1 1.6 -1 1.7 -.7 1.6 -.5 1.7 0 1.6 .4 1.7 1 1.6 1.4 1.7 1.6 1.6 1.6 1.7 .9 1.6 0 1.7 -1 1.7 -1.9 1.6 -2.3 1.7 -2.6 1.6 -2.6 1.7 -2.5 1.6 -2.4 1.7 -2.3 1.6 -2.1 1.7 -2 1.6 -1.7 1.7 -1.6 1.6 -1.4 1.7 -1.1 1.6 -.9 1.7 -.7 1.6 -.4 1.7 -.1" stroke="#e6f4fa"/>
<path d="M331.5 140l1 .2 1.7 -.3 1.6 -.7 1.7 -1.1 1.6 -1.2 1.7 -1.3 1.6 -1.3 1.7 -1.3 1.6 -1.1 1.7 -1 1.6 -.7 1.7 -.4 1.6 .1 1.7 .6 1.6 1 1.7 1.2 1.6 1 1.7 .6 1.6 -.3 1.7 -1.1 1.7 -1.9 1.6 -2.4 1.7 -2.5 1.6 -2.6 1.7 -2.5 1.6 -2.3 1.7 -2.3 1.6 -2.1 1.7 -1.9 1.6 -1.8 1.7 -1.6 1.6 -1.4 1.7 -1.1 1.6 -.9 1.7 -.7 1.6 -.4 1.7 -.1" stroke="#e8f5fa"/>
<path d="M331.5 139.3l1 .2 1.7 -.3 1.6 -.8 1.7 -1.1 1.6 -1.3 1.7 -1.4 1.6 -1.5 1.7 -1.4 1.6 -1.3 1.7 -1.2 1.6 -.9 1.7 -.7 1.6 -.2 1.7 .1 1.6 .5 1.7 .8 1.6 .6 1.7 .2 1.6 -.6 1.7 -1.3 1.7 -1.9 1.6 -2.3 1.7 -2.5 1.6 -2.5 1.7 -2.5 1.6 -2.3 1.7 -2.2 1.6 -2.1 1.7 -2 1.6 -1.8 1.7 -1.6 1.6 -1.4 1.7 -1.1 1.6 -1 1.7 -.6 1.6 -.4 1.7 -.2" stroke="#e9f6fb"/>
<path d="M331.5 138.6l1 .2 1.7 -.3 1.6 -.8 1.7 -1.2 1.6 -1.4 1.7 -1.5 1.6 -1.6 1.7 -1.6 1.6 -1.5 1.7 -1.4 1.6 -1.2 1.7 -.9 1.6 -.6 1.7 -.2 1.6 0 1.7 .3 1.6 .1 1.7 -.2 1.6 -.7 1.7 -1.5 1.7 -2 1.6 -2.3 1.7 -2.4 1.6 -2.5 1.7 -2.4 1.6 -2.3 1.7 -2.2 1.6 -2.1 1.7 -1.9 1.6 -1.8 1.7 -1.6 1.6 -1.5 1.7 -1.1 1.6 -1 1.7 -.7 1.6 -.4 1.7 -.1" stroke="#ebf7fb"/>
<path d="M331.5 137.9l1 .2 1.7 -.3 1.6 -.8 1.7 -1.3 1.6 -1.5 1.7 -1.6 1.6 -1.8 1.7 -1.7 1.6 -1.7 1.7 -1.6 1.6 -1.4 1.7 -1.2 1.6 -1 1.7 -.6 1.6 -.4 1.7 -.2 1.6 -.3 1.7 -.6 1.6 -1 1.7 -1.6 1.7 -2 1.6 -2.3 1.7 -2.4 1.6 -2.5 1.7 -2.3 1.6 -2.3 1.7 -2.2 1.6 -2.1 1.7 -1.9 1.6 -1.8 1.7 -1.6 1.6 -1.4 1.7 -1.3 1.6 -.9 1.7 -.7 1.6 -.4 1.7 -.2" stroke="#edf7fb"/>
<path d="M331.5 137.3l1 .1 1.7 -.3 1.6 -.8 1.7 -1.3 1.6 -1.6 1.7 -1.7 1.6 -1.8 1.7 -1.8 1.6 -1.7 1.7 -1.7 1.6 -1.6 1.7 -1.3 1.6 -1.1 1.7 -.8 1.6 -.6 1.7 -.4 1.6 -.5 1.7 -.8 1.6 -1.1 1.7 -1.7 1.7 -2 1.6 -2.3 1.7 -2.4 1.6 -2.4 1.7 -2.3 1.6 -2.3 1.7 -2.2 1.6 -2 1.7 -2 1.6 -1.8 1.7 -1.6 1.6 -1.4 1.7 -1.2 1.6 -1 1.7 -.7 1.6 -.5 1.7 -.1" stroke="#eff8fc"/>
<path d="M331.5 136.6l1 .2 1.7 -.3 1.6 -.9 1.7 -1.3 1.6 -1.6 1.7 -1.8 1.6 -1.9 1.7 -1.8 1.6 -1.9 1.7 -1.7 1.6 -1.7 1.7 -1.5 1.6 -1.2 1.7 -1 1.6 -.8 1.7 -.6 1.6 -.7 1.7 -.9 1.6 -1.3 1.7 -1.7 1.7 -2.1 1.6 -2.3 1.7 -2.3 1.6 -2.4 1.7 -2.3 1.6 -2.3 1.7 -2.1 1.6 -2.1 1.7 -1.9 1.6 -1.8 1.7 -1.7 1.6 -1.4 1.7 -1.2 1.6 -1 1.7 -.7 1.6 -.5 1.7 -.1" stroke="#f1f9fc"/>
<path d="M331.5 135.9l1 .2 1.7 -.3 1.6 -.9 1.7 -1.4 1.6 -1.6 1.7 -1.8 1.6 -1.9 1.7 -2 1.6 -1.9 1.7 -1.9 1.6 -1.7 1.7 -1.6 1.6 -1.4 1.7 -1.2 1.6 -1 1.7 -.9 1.6 -.8 1.7 -1.1 1.6 -1.4 1.7 -1.8 1.7 -2.1 1.6 -2.3 1.7 -2.3 1.6 -2.3 1.7 -2.3 1.6 -2.2 1.7 -2.2 1.6 -2.1 1.7 -1.9 1.6 -1.8 1.7 -1.7 1.6 -1.4 1.7 -1.2 1.6 -1 1.7 -.7 1.6 -.5 1.7 -.1" stroke="#f2fafc"/>
<path d="M331.5 135.2l1 .2 1.7 -.3 1.6 -.9 1.7 -1.4 1.6 -1.7 1.7 -1.9 1.6 -1.9 1.7 -2 1.6 -2 1.7 -2 1.6 -1.9 1.7 -1.7 1.6 -1.5 1.7 -1.4 1.6 -1.2 1.7 -1.1 1.6 -1.1 1.7 -1.2 1.6 -1.5 1.7 -1.9 1.7 -2.1 1.6 -2.2 1.7 -2.3 1.6 -2.3 1.7 -2.3 1.6 -2.2 1.7 -2.2 1.6 -2 1.7 -2 1.6 -1.8 1.7 -1.6 1.6 -1.5 1.7 -1.2 1.6 -1 1.7 -.7 1.6 -.5 1.7 -.1" stroke="#f4fafd"/>
<path d="M331.5 134.5l1 .2 1.7 -.3 1.6 -1.1 1.7 -1.5 1.6 -2 1.7 -2.2 1.6 -2.3 1.7 -2.5 1.6 -2.5 1.7 -2.6 1.6 -2.5 1.7 -2.6 1.6 -2.5 1.7 -2.5 1.6 -2.4 1.7 -2.3 1.6 -2.3 1.7 -2.2 1.6 -2.2 1.7 -2 1.7 -2 1.6 -1.9 1.7 -1.7 1.6 -1.7 1.7 -1.5 1.6 -1.5 1.7 -1.3 1.6 -1.2 1.7 -1.1 1.6 -1 1.7 -.8 1.6 -.7 1.7 -.6 1.6 -.5 1.7 -.3 1.6 -.2 1.7 -.1" stroke="#f6fbfd"/>
</g>
<use href="#hb" transform="matrix(-1 0 0 1 665.0 0)"/>
<g id="qb" fill="#000">
<path d="M392 384.8 390.3 387.5 388.7 391.8 387 396.4 387 396.4 388.7 393 390.3 389.8 392 388.1Z"/>
<path d="M392 390.8 390.3 392.6 388.7 396.1 387 400.2 385.4 404.5 385.4 404.5 387 401.2 388.7 398 390.3 395.3 392 394.1Z"/>
<path d="M392 396.8 390.3 398.1 388.7 400.9 387 404.5 385.4 408.3 383.7 412.2 383.7 412.2 385.4 408.9 387 405.9 388.7 403.2 390.3 401 392 400.1Z"/>
<path d="M392 402.8 390.3 403.7 388.7 406 387 409 385.4 412.3 383.7 415.7 382.1 418.9 382.1 418.9 383.7 415.9 385.4 413.2 387 410.7 388.7 408.5 390.3 406.8 392 406.2Z"/>
<path d="M392 408.9 390.3 409.5 388.7 411.3 387 413.7 385.4 416.4 383.7 419.2 382.1 422 380.4 424.7 380.4 424.7 382.1 422.1 383.7 419.7 385.4 417.6 387 415.6 388.7 413.9 390.3 412.7 392 412.2Z"/>
<path d="M392 414.9 390.3 415.4 388.7 416.7 387 418.6 385.4 420.8 383.7 423.2 382.1 425.5 380.4 427.8 380.4 427.8 382.1 425.7 383.7 423.9 385.4 422.3 387 420.8 388.7 419.5 390.3 418.6 392 418.2Z"/>
<path d="M392 420.9 390.3 421.3 388.7 422.3 387 423.8 385.4 425.5 383.7 427.5 382.1 429.4 380.4 431.3 380.4 431.3 382.1 429.7 383.7 428.5 385.4 427.3 387 426.2 388.7 425.2 390.3 424.5 392 424.2Z"/>
<path d="M392 426.9 390.3 427.2 388.7 428 387 429.2 385.4 430.6 383.7 432.1 382.1 433.8 380.4 435.2 380.4 435.2 382.1 434.1 383.7 433.3 385.4 432.5 387 431.7 388.7 431 390.3 430.5 392 430.3Z"/>
<path d="M392 433 390.3 433.2 388.7 433.8 387 434.8 385.4 435.9 383.7 437.2 382.1 438.6 380.4 439.7 380.4 439.7 382.1 438.8 383.7 438.4 385.4 438 387 437.4 388.7 436.9 390.3 436.4 392 436.3Z"/>
<path d="M392 439 390.3 439.2 388.7 439.7 387 440.5 385.4 441.5 383.7 442.7 382.1 443.9 382.1 443.9 383.7 443.7 385.4 443.6 387 443.2 388.7 442.8 390.3 442.5 392 442.3Z"/>
<path d="M392 445 390.3 445.2 388.7 445.7 387 446.5 385.4 447.5 383.7 448.9 382.1 449.5 382.1 449.5 383.7 449.1 385.4 449.2 387 449.1 388.7 448.8 390.3 448.5 392 448.3Z"/>
<path d="M392 451 390.3 451.2 388.7 451.7 387 452.7 385.4 454.1 383.7 455 383.7 455 385.4 454.8 387 455 388.7 454.8 390.3 454.5 392 454.4Z"/>
<path d="M392 457.1 390.3 457.3 388.7 458 387 459.5 385.4 460.7 385.4 460.7 387 460.5 388.7 460.7 390.3 460.5 392 460.4Z"/>
<path d="M392 463.1 390.3 463.4 388.7 465.1 387 466.3 387 466.3 388.7 465.9 390.3 466.5 392 466.4Z"/>
<path d="M357.3 462.2 355.6 464.8 354 467.4 352.3 469.9 350.7 472.2 349 474.5 347.4 476.5 345.7 478.4 344.1 480 342.4 481.5 340.8 482.8 339.1 483.8 337.5 484.7 335.8 485.3 334.2 485.6 332.5 485.7 332 485.7 332 488.1 332.5 488.1 334.2 488 335.8 487.6 337.5 487 339.1 486.1 340.8 485 342.4 483.6 344.1 482.1 345.7 480.2 347.4 478.2 349 476 350.7 473.5 352.3 470.9 354 468 355.6 465 357.3 462.2Z"/>
<path d="M355.6 470 354 472.6 352.3 475 350.7 477.3 349 479.5 347.4 481.5 345.7 483.4 344.1 485 342.4 486.5 340.8 487.8 339.1 488.9 337.5 489.7 335.8 490.3 334.2 490.7 332.5 490.8 332 490.8 332 493.1 332.5 493.1 334.2 493 335.8 492.6 337.5 492 339.1 491.1 340.8 490 342.4 488.6 344.1 487 345.7 485.2 347.4 483.1 349 480.9 350.7 478.4 352.3 475.8 354 472.9 355.6 470Z"/>
<path d="M355.6 475.1 354 477.8 352.3 480.1 350.7 482.4 349 484.5 347.4 486.5 345.7 488.4 344.1 490 342.4 491.5 340.8 492.8 339.1 493.9 337.5 494.7 335.8 495.3 334.2 495.7 332.5 495.8 332 495.8 332 498.2 332.5 498.2 334.2 498.1 335.8 497.7 337.5 497 339.1 496.1 340.8 495 342.4 493.6 344.1 491.9 345.7 490.1 347.4 488 349 485.8 350.7 483.3 352.3 480.7 354 477.8 355.6 475.1Z"/>
<path d="M354 482.9 352.3 485.3 350.7 487.5 349 489.6 347.4 491.5 345.7 493.4 344.1 495 342.4 496.5 340.8 497.8 339.1 498.9 337.5 499.7 335.8 500.4 334.2 500.8 332.5 500.9 332 500.9 332 503.2 332.5 503.2 334.2 503.1 335.8 502.7 337.5 502 339.1 501.1 340.8 499.9 342.4 498.5 344.1 496.9 345.7 495 347.4 492.9 349 490.7 350.7 488.2 352.3 485.5 354 482.9Z"/>
<path d="M352.3 490.4 350.7 492.6 349 494.7 347.4 496.6 345.7 498.4 344.1 500 342.4 501.5 340.8 502.8 339.1 503.9 337.5 504.8 335.8 505.4 334.2 505.8 332.5 505.9 332 505.9 332 508.3 332.5 508.3 334.2 508.1 335.8 507.7 337.5 507.1 339.1 506.1 340.8 504.9 342.4 503.5 344.1 501.8 345.7 499.9 347.4 497.8 349 495.5 350.7 493 352.3 490.4Z"/>
<path d="M352.3 495.5 350.7 497.8 349 499.8 347.4 501.6 345.7 503.4 344.1 505 342.4 506.5 340.8 507.8 339.1 508.9 337.5 509.8 335.8 510.5 334.2 510.9 332.5 511 332 511 332 513.3 332.5 513.3 334.2 513.2 335.8 512.8 337.5 512.1 339.1 511.1 340.8 509.9 342.4 508.4 344.1 506.7 345.7 504.8 347.4 502.7 349 500.4 350.7 497.9 352.3 495.5Z"/>
<path d="M350.7 502.8 349 504.9 347.4 506.7 345.7 508.4 344.1 510.1 342.4 511.5 340.8 512.8 339.1 513.9 337.5 514.8 335.8 515.5 334.2 515.9 332.5 516 332 516 332 518.4 332.5 518.4 334.2 518.2 335.8 517.8 337.5 517.1 339.1 516.1 340.8 514.9 342.4 513.4 344.1 511.6 345.7 509.7 347.4 507.5 349 505.2 350.7 502.8Z"/>
<path d="M349 510 347.4 511.8 345.7 513.5 344.1 515.1 342.4 516.6 340.8 517.9 339.1 519 337.5 519.9 335.8 520.5 334.2 520.9 332.5 521.1 332 521.1 332 523.4 332.5 523.4 334.2 523.3 335.8 522.9 337.5 522.1 339.1 521.1 340.8 519.8 342.4 518.3 344.1 516.5 345.7 514.5 347.4 512.3 349 510Z"/>
<path d="M332 225.9 332.5 225.9 334.2 224.2 335.8 221 337.5 217.6 337.5 217.6 335.8 222.2 334.2 226.5 332.5 229.2 332 229.2Z"/>
<path d="M332 219.9 332.5 219.9 334.2 218.7 335.8 216 337.5 212.8 339.1 209.5 339.1 209.5 337.5 213.8 335.8 217.9 334.2 221.4 332.5 223.2 332 223.2Z"/>
<path d="M332 213.9 332.5 213.9 334.2 213 335.8 210.8 337.5 208.1 339.1 205.1 340.8 201.8 340.8 201.8 339.1 205.7 337.5 209.5 335.8 213.1 334.2 215.9 332.5 217.2 332 217.2Z"/>
<path d="M332 207.8 332.5 207.8 334.2 207.2 335.8 205.5 337.5 203.3 339.1 200.8 340.8 198.1 342.4 195.1 342.4 195.1 340.8 198.3 339.1 201.7 337.5 205 335.8 208 334.2 210.3 332.5 211.2 332 211.2Z"/>
<path d="M332 201.8 332.5 201.8 334.2 201.3 335.8 200.1 337.5 198.4 339.1 196.4 340.8 194.3 342.4 191.9 344.1 189.3 344.1 189.3 342.4 192 340.8 194.8 339.1 197.6 337.5 200.3 335.8 202.7 334.2 204.5 332.5 205.1 332 205.1Z"/>
<path d="M332 195.8 332.5 195.8 334.2 195.4 335.8 194.5 337.5 193.2 339.1 191.7 340.8 190.1 342.4 188.3 344.1 186.2 344.1 186.2 342.4 188.5 340.8 190.8 339.1 193.2 337.5 195.4 335.8 197.3 334.2 198.6 332.5 199.1 332 199.1Z"/>
<path d="M332 189.8 332.5 189.8 334.2 189.5 335.8 188.8 337.5 187.8 339.1 186.7 340.8 185.5 342.4 184.3 344.1 182.7 344.1 182.7 342.4 184.6 340.8 186.5 339.1 188.5 337.5 190.2 335.8 191.7 334.2 192.7 332.5 193.1 332 193.1Z"/>
<path d="M332 183.7 332.5 183.7 334.2 183.5 335.8 183 337.5 182.3 339.1 181.5 340.8 180.7 342.4 179.9 344.1 178.8 344.1 178.8 342.4 180.2 340.8 181.9 339.1 183.4 337.5 184.8 335.8 186 334.2 186.8 332.5 187.1 332 187.1Z"/>
<path d="M332 177.7 332.5 177.7 334.2 177.6 335.8 177.1 337.5 176.6 339.1 176 340.8 175.6 342.4 175.2 344.1 174.3 344.1 174.3 342.4 175.4 340.8 176.8 339.1 178.1 337.5 179.2 335.8 180.2 334.2 180.8 332.5 181 332 181Z"/>
<path d="M332 171.7 332.5 171.7 334.2 171.5 335.8 171.2 337.5 170.8 339.1 170.4 340.8 170.3 342.4 170.1 342.4 170.1 340.8 171.3 339.1 172.5 337.5 173.5 335.8 174.3 334.2 174.8 332.5 175 332 175Z"/>
<path d="M332 165.7 332.5 165.7 334.2 165.5 335.8 165.2 337.5 164.9 339.1 164.8 340.8 164.9 342.4 164.5 342.4 164.5 340.8 165.1 339.1 166.5 337.5 167.5 335.8 168.3 334.2 168.8 332.5 169 332 169Z"/>
<path d="M332 159.6 332.5 159.6 334.2 159.5 335.8 159.2 337.5 159 339.1 159.2 340.8 159 340.8 159 339.1 159.9 337.5 161.3 335.8 162.3 334.2 162.8 332.5 163 332 163Z"/>
<path d="M332 153.6 332.5 153.6 334.2 153.5 335.8 153.3 337.5 153.5 339.1 153.3 339.1 153.3 337.5 154.5 335.8 156 334.2 156.7 332.5 156.9 332 156.9Z"/>
<path d="M332 147.6 332.5 147.6 334.2 147.5 335.8 148.1 337.5 147.7 337.5 147.7 335.8 148.9 334.2 150.6 332.5 150.9 332 150.9Z"/>
<path d="M367.2 151.8 368.9 149 370.5 146 372.2 143.1 373.8 140.5 375.5 138 377.1 135.8 378.8 133.8 380.4 131.9 382.1 130.4 383.7 129 385.4 127.9 387 127 388.7 126.4 390.3 126 392 125.9 392 128.3 390.3 128.4 388.7 128.7 387 129.3 385.4 130.2 383.7 131.2 382.1 132.5 380.4 134 378.8 135.6 377.1 137.5 375.5 139.5 373.8 141.8 372.2 144.1 370.5 146.6 368.9 149.2 367.2 151.8Z"/>
<path d="M368.9 144 370.5 141.1 372.2 138.2 373.8 135.6 375.5 133.1 377.1 130.9 378.8 128.8 380.4 127 382.1 125.4 383.7 124 385.4 122.9 387 122 388.7 121.4 390.3 121 392 120.9 392 123.2 390.3 123.3 388.7 123.7 387 124.3 385.4 125.1 383.7 126.2 382.1 127.5 380.4 129 378.8 130.6 377.1 132.5 375.5 134.5 373.8 136.7 372.2 139 370.5 141.4 368.9 144Z"/>
<path d="M368.9 138.9 370.5 136.2 372.2 133.3 373.8 130.7 375.5 128.2 377.1 126 378.8 123.9 380.4 122.1 382.1 120.4 383.7 119 385.4 117.9 387 117 388.7 116.3 390.3 115.9 392 115.8 392 118.2 390.3 118.3 388.7 118.7 387 119.3 385.4 120.1 383.7 121.2 382.1 122.5 380.4 124 378.8 125.6 377.1 127.5 375.5 129.5 373.8 131.6 372.2 133.9 370.5 136.2 368.9 138.9Z"/>
<path d="M370.5 131.1 372.2 128.5 373.8 125.8 375.5 123.3 377.1 121.1 378.8 119 380.4 117.1 382.1 115.5 383.7 114.1 385.4 112.9 387 112 388.7 111.3 390.3 110.9 392 110.8 392 113.1 390.3 113.2 388.7 113.6 387 114.3 385.4 115.1 383.7 116.2 382.1 117.5 380.4 119 378.8 120.6 377.1 122.5 375.5 124.4 373.8 126.5 372.2 128.7 370.5 131.1Z"/>
<path d="M372.2 123.6 373.8 121 375.5 118.5 377.1 116.2 378.8 114.1 380.4 112.2 382.1 110.5 383.7 109.1 385.4 107.9 387 106.9 388.7 106.3 390.3 105.9 392 105.7 392 108.1 390.3 108.2 388.7 108.6 387 109.2 385.4 110.1 383.7 111.2 382.1 112.5 380.4 114 378.8 115.6 377.1 117.4 375.5 119.3 373.8 121.4 372.2 123.6Z"/>
<path d="M372.2 118.5 373.8 116.1 375.5 113.6 377.1 111.3 378.8 109.2 380.4 107.3 382.1 105.6 383.7 104.1 385.4 102.9 387 101.9 388.7 101.2 390.3 100.8 392 100.7 392 103 390.3 103.1 388.7 103.5 387 104.2 385.4 105.1 383.7 106.2 382.1 107.5 380.4 109 378.8 110.6 377.1 112.4 375.5 114.2 373.8 116.2 372.2 118.5Z"/>
<path d="M373.8 111.2 375.5 108.8 377.1 106.5 378.8 104.3 380.4 102.4 382.1 100.6 383.7 99.1 385.4 97.9 387 96.9 388.7 96.2 390.3 95.8 392 95.6 392 98 390.3 98.1 388.7 98.5 387 99.2 385.4 100.1 383.7 101.2 382.1 102.5 380.4 103.9 378.8 105.6 377.1 107.3 375.5 109.1 373.8 111.2Z"/>
<path d="M375.5 104 377.1 101.7 378.8 99.5 380.4 97.5 382.1 95.7 383.7 94.2 385.4 92.9 387 91.9 388.7 91.1 390.3 90.7 392 90.6 392 92.9 390.3 93.1 388.7 93.5 387 94.1 385.4 95 383.7 96.1 382.1 97.4 380.4 98.9 378.8 100.5 377.1 102.2 375.5 104Z"/>
</g>
<use href="#qb" transform="matrix(-1 0 0 1 665.0 0)"/>
</g>
<text x="259.6" y="100.4" class="tk" text-anchor="end">8</text>
<text x="259.6" y="154.4" class="tk" text-anchor="end">6</text>
<text x="259.6" y="208.4" class="tk" text-anchor="end">4</text>
<text x="259.6" y="262.4" class="tk" text-anchor="end">2</text>
<text x="259.6" y="316.4" class="tk" text-anchor="end">0</text>
<text x="259.6" y="370.4" class="tk" text-anchor="end">-2</text>
<text x="259.6" y="424.4" class="tk" text-anchor="end">-4</text>
<text x="259.6" y="478.4" class="tk" text-anchor="end">-6</text>
<text x="259.6" y="532.4" class="tk" text-anchor="end">-8</text>
<text x="206.9" y="25.3" class="lab">(b)</text>
<text transform="translate(232.1,306) rotate(-90)" class="el" text-anchor="middle">E(eV)</text>
<text x="274.0" y="601.5" class="xt" text-anchor="middle">−π/a</text>
<text x="332.5" y="600" class="xt" text-anchor="middle">0</text>
<text x="392.0" y="601.5" class="xt" text-anchor="middle">π/a</text>
<rect x="477.0" y="39.0" width="123.0" height="536.5" fill="#000"/>
<clipPath id="clc"><rect x="477.0" y="39.0" width="123.0" height="536.5"/></clipPath>
<linearGradient id="gic" gradientUnits="userSpaceOnUse" x1="0" y1="206.1" x2="0" y2="407.9"><stop offset="0" stop-color="#6cc5ea"/><stop offset="1" stop-color="#4fb5e3"/></linearGradient>
<linearGradient id="goc" gradientUnits="userSpaceOnUse" x1="0" y1="206.1" x2="0" y2="407.9"><stop offset="0" stop-color="#c0e6f3"/><stop offset="1" stop-color="#93d0ea"/></linearGradient>
<linearGradient id="gtc" gradientUnits="userSpaceOnUse" x1="0" y1="60.3" x2="0" y2="206.1"><stop offset="0" stop-color="#f6fbfd"/><stop offset="1" stop-color="#c6e7f4"/></linearGradient>
<linearGradient id="gbc" gradientUnits="userSpaceOnUse" x1="0" y1="407.9" x2="0" y2="553.7"><stop offset="0" stop-color="#3bb2e5"/><stop offset="1" stop-color="#1c9fde"/></linearGradient>
<g clip-path="url(#clc)">
<g id="hc" fill="none" stroke-width="2.6" stroke-linejoin="round">
<path d="M600 407.9 598.3 410 596.7 413.2 595 416.5 593.4 419.8 591.7 423.1 590.1 426.4 588.4 429.6 586.8 432.8 585.1 435.9 583.5 439 581.8 442 580.2 444.9 578.5 447.8 576.9 450.6 575.2 453.3 573.6 455.9 571.9 458.5 570.2 460.9 568.6 463.2 566.9 465.4 565.3 467.5 563.6 469.5 562 471.4 560.3 473.1 558.7 474.8 557 476.2 555.4 477.6 553.7 478.8 552.1 479.9 550.4 480.8 548.8 481.6 547.1 482.3 545.5 482.8 543.8 483.2 542.2 483.4 540.5 483.5 540 483.5 540 553.7 540.5 553.7 542.2 553.6 543.8 553.4 545.5 553 547.1 552.5 548.8 551.8 550.4 551 552.1 550 553.7 548.8 555.4 547.6 557 546.2 558.7 544.6 560.3 542.9 562 541.1 563.6 539.2 565.3 537.1 566.9 534.9 568.6 532.6 570.2 530.2 571.9 527.8 573.6 525.2 575.2 522.5 576.9 519.7 578.5 516.9 580.2 514 581.8 511.1 583.5 508.1 585.1 505.1 586.8 502.2 588.4 499.2 590.1 496.3 591.7 493.6 593.4 491 595 488.7 596.7 486.9 598.3 485.7 600 485.2Z" fill="url(#gbc)" stroke="none"/>
<path d="M539.5 483.4l1 .1 1.7 -.1 1.6 -.2 1.7 -.4 1.6 -.5 1.7 -.7 1.6 -.8 1.7 -.9 1.6 -1.1 1.7 -1.2 1.6 -1.4 1.7 -1.4 1.6 -1.7 1.7 -1.7 1.6 -1.9 1.7 -2 1.6 -2.1 1.7 -2.2 1.6 -2.3 1.7 -2.4 1.7 -2.6 1.6 -2.6 1.7 -2.7 1.6 -2.8 1.7 -2.9 1.6 -2.9 1.7 -3 1.6 -3.1 1.7 -3.1 1.6 -3.2 1.7 -3.2 1.6 -3.3 1.7 -3.3 1.6 -3.3 1.7 -3.3 1.6 -3.2 1.7 -2.1" stroke="#3eb4e6"/>
<path d="M539.5 483.8l1 .1 1.7 -.1 1.6 -.1 1.7 -.2 1.6 -.3 1.7 -.3 1.6 -.5 1.7 -.6 1.6 -.8 1.7 -.9 1.6 -1 1.7 -1.3 1.6 -1.4 1.7 -1.5 1.6 -1.7 1.7 -1.9 1.6 -2 1.7 -2.2 1.6 -2.3 1.7 -2.5 1.7 -2.5 1.6 -2.7 1.7 -2.7 1.6 -2.9 1.7 -2.9 1.6 -3 1.7 -3.1 1.6 -3.1 1.7 -3.2 1.6 -3.2 1.7 -3.2 1.6 -3.3 1.7 -3.3 1.6 -3.2 1.7 -3.1 1.6 -2.7 1.7 -1.4" stroke="#3db3e6"/>
<path d="M539.5 484.2l1 0 1.7 0 1.6 0 1.7 -.1 1.6 -.1 1.7 -.2 1.6 -.2 1.7 -.4 1.6 -.5 1.7 -.7 1.6 -.9 1.7 -1 1.6 -1.2 1.7 -1.5 1.6 -1.6 1.7 -1.8 1.6 -2 1.7 -2.1 1.6 -2.3 1.7 -2.5 1.7 -2.5 1.6 -2.7 1.7 -2.8 1.6 -2.8 1.7 -2.9 1.6 -3 1.7 -3 1.6 -3.1 1.7 -3.1 1.6 -3.1 1.7 -3.2 1.6 -3.1 1.7 -3.1 1.6 -3 1.7 -2.8 1.6 -2.3 1.7 -1" stroke="#3cb3e5"/>
<path d="M539.5 484.6l1 0 1.7 0 1.6 0 1.7 0 1.6 0 1.7 -.1 1.6 -.2 1.7 -.3 1.6 -.4 1.7 -.6 1.6 -.7 1.7 -1 1.6 -1.2 1.7 -1.4 1.6 -1.6 1.7 -1.7 1.6 -2 1.7 -2.2 1.6 -2.3 1.7 -2.4 1.7 -2.6 1.6 -2.7 1.7 -2.7 1.6 -2.8 1.7 -2.8 1.6 -2.8 1.7 -2.9 1.6 -2.9 1.7 -2.9 1.6 -2.8 1.7 -2.9 1.6 -2.8 1.7 -2.8 1.6 -2.6 1.7 -2.4 1.6 -1.9 1.7 -.7" stroke="#3bb2e5"/>
<path d="M539.5 485l1 0 1.7 0 1.6 0 1.7 0 1.6 0 1.7 -.2 1.6 -.1 1.7 -.3 1.6 -.5 1.7 -.6 1.6 -.8 1.7 -1 1.6 -1.2 1.7 -1.4 1.6 -1.6 1.7 -1.8 1.6 -2 1.7 -2.2 1.6 -2.4 1.7 -2.4 1.7 -2.6 1.6 -2.6 1.7 -2.6 1.6 -2.7 1.7 -2.6 1.6 -2.6 1.7 -2.5 1.6 -2.6 1.7 -2.5 1.6 -2.5 1.7 -2.4 1.6 -2.4 1.7 -2.4 1.6 -2.2 1.7 -2 1.6 -1.4 1.7 -.6" stroke="#39b1e5"/>
<path d="M539.5 485.4l1 0 1.7 0 1.6 0 1.7 0 1.6 -.1 1.7 -.1 1.6 -.2 1.7 -.3 1.6 -.5 1.7 -.6 1.6 -.8 1.7 -1 1.6 -1.3 1.7 -1.4 1.6 -1.7 1.7 -1.8 1.6 -2.1 1.7 -2.2 1.6 -2.3 1.7 -2.5 1.7 -2.5 1.6 -2.5 1.7 -2.5 1.6 -2.4 1.7 -2.4 1.6 -2.3 1.7 -2.3 1.6 -2.1 1.7 -2.2 1.6 -2.1 1.7 -2 1.6 -2 1.7 -2 1.6 -1.8 1.7 -1.6 1.6 -1.2 1.7 -.4" stroke="#38b0e5"/>
<path d="M539.5 485.8l1 0 1.7 0 1.6 0 1.7 0 1.6 -.1 1.7 -.1 1.6 -.3 1.7 -.3 1.6 -.5 1.7 -.6 1.6 -.9 1.7 -1 1.6 -1.3 1.7 -1.4 1.6 -1.7 1.7 -1.9 1.6 -2.1 1.7 -2.2 1.6 -2.3 1.7 -2.5 1.7 -2.4 1.6 -2.4 1.7 -2.2 1.6 -2.2 1.7 -2.1 1.6 -2 1.7 -1.9 1.6 -1.8 1.7 -1.8 1.6 -1.7 1.7 -1.7 1.6 -1.7 1.7 -1.6 1.6 -1.5 1.7 -1.3 1.6 -.9 1.7 -.3" stroke="#37b0e4"/>
<path d="M539.5 486.2l1 0 1.7 0 1.6 0 1.7 -.1 1.6 0 1.7 -.2 1.6 -.2 1.7 -.4 1.6 -.5 1.7 -.6 1.6 -.9 1.7 -1.1 1.6 -1.2 1.7 -1.5 1.6 -1.7 1.7 -1.9 1.6 -2.1 1.7 -2.3 1.6 -2.3 1.7 -2.4 1.7 -2.3 1.6 -2.1 1.7 -2.1 1.6 -1.8 1.7 -1.7 1.6 -1.7 1.7 -1.5 1.6 -1.5 1.7 -1.4 1.6 -1.4 1.7 -1.3 1.6 -1.4 1.7 -1.3 1.6 -1.3 1.7 -1 1.6 -.8 1.7 -.3" stroke="#36afe4"/>
<path d="M539.5 486.6l1 0 1.7 0 1.6 0 1.7 -.1 1.6 -.1 1.7 -.1 1.6 -.3 1.7 -.3 1.6 -.6 1.7 -.7 1.6 -.8 1.7 -1.1 1.6 -1.3 1.7 -1.5 1.6 -1.8 1.7 -1.9 1.6 -2.1 1.7 -2.2 1.6 -2.3 1.7 -2.3 1.7 -2.1 1.6 -1.9 1.7 -1.6 1.6 -1.5 1.7 -1.3 1.6 -1.3 1.7 -1.1 1.6 -1.1 1.7 -1.1 1.6 -1.1 1.7 -1.1 1.6 -1.1 1.7 -1.2 1.6 -1 1.7 -.9 1.6 -.7 1.7 -.2" stroke="#35aee4"/>
<path d="M539.5 487l1 0 1.7 0 1.6 -.1 1.7 0 1.6 -.1 1.7 -.2 1.6 -.2 1.7 -.4 1.6 -.6 1.7 -.7 1.6 -.9 1.7 -1.1 1.6 -1.3 1.7 -1.5 1.6 -1.8 1.7 -1.9 1.6 -2.1 1.7 -2.3 1.6 -2.2 1.7 -2 1.7 -1.8 1.6 -1.5 1.7 -1.3 1.6 -1 1.7 -.9 1.6 -.8 1.7 -.8 1.6 -.8 1.7 -.8 1.6 -.9 1.7 -.9 1.6 -.9 1.7 -1 1.6 -.9 1.7 -.9 1.6 -.5 1.7 -.2" stroke="#34aee3"/>
<path d="M539.5 487.4l1 0 1.7 0 1.6 -.1 1.7 0 1.6 -.1 1.7 -.2 1.6 -.3 1.7 -.4 1.6 -.5 1.7 -.8 1.6 -.9 1.7 -1.1 1.6 -1.4 1.7 -1.5 1.6 -1.8 1.7 -2 1.6 -2.1 1.7 -2.1 1.6 -2.1 1.7 -1.7 1.7 -1.5 1.6 -1 1.7 -.7 1.6 -.5 1.7 -.4 1.6 -.4 1.7 -.5 1.6 -.5 1.7 -.6 1.6 -.7 1.7 -.8 1.6 -.9 1.7 -.9 1.6 -.8 1.7 -.8 1.6 -.6 1.7 -.2" stroke="#32ade3"/>
<path d="M539.5 487.8l1 0 1.7 0 1.6 -.1 1.7 0 1.6 -.2 1.7 -.1 1.6 -.3 1.7 -.5 1.6 -.5 1.7 -.8 1.6 -.9 1.7 -1.2 1.6 -1.3 1.7 -1.6 1.6 -1.8 1.7 -2 1.6 -2 1.7 -2.1 1.6 -1.8 1.7 -1.4 1.7 -.8 1.6 -.4 1.7 -.1 1.6 .1 1.7 .1 1.6 -.1 1.7 -.2 1.6 -.3 1.7 -.5 1.6 -.6 1.7 -.8 1.6 -.8 1.7 -.9 1.6 -.9 1.7 -.8 1.6 -.6 1.7 -.2" stroke="#31ace3"/>
<path d="M539.5 488.1l1 0 1.7 0 1.6 0 1.7 -.1 1.6 -.1 1.7 -.2 1.6 -.3 1.7 -.4 1.6 -.6 1.7 -.8 1.6 -.9 1.7 -1.2 1.6 -1.4 1.7 -1.6 1.6 -1.8 1.7 -1.9 1.6 -2 1.7 -1.9 1.6 -1.4 1.7 -.8 1.7 -.2 1.6 .4 1.7 .7 1.6 .7 1.7 .6 1.6 .3 1.7 0 1.6 -.3 1.7 -.5 1.6 -.7 1.7 -.8 1.6 -.9 1.7 -1 1.6 -1 1.7 -.9 1.6 -.6 1.7 -.3" stroke="#30abe3"/>
<path d="M539.5 488.5l1 0 1.7 0 1.6 0 1.7 -.1 1.6 -.1 1.7 -.2 1.6 -.3 1.7 -.5 1.6 -.6 1.7 -.8 1.6 -.9 1.7 -1.2 1.6 -1.4 1.7 -1.6 1.6 -1.8 1.7 -2 1.6 -1.8 1.7 -1.6 1.6 -.8 1.7 -.1 1.7 .8 1.6 1.3 1.7 1.6 1.6 1.4 1.7 1 1.6 .5 1.7 .1 1.6 -.3 1.7 -.7 1.6 -.8 1.7 -1 1.6 -1.2 1.7 -1.2 1.6 -1.1 1.7 -1 1.6 -.7 1.7 -.3" stroke="#2fabe2"/>
<path d="M539.5 488.9l1 0 1.7 0 1.6 0 1.7 -.1 1.6 -.1 1.7 -.3 1.6 -.3 1.7 -.4 1.6 -.7 1.7 -.7 1.6 -1 1.7 -1.2 1.6 -1.5 1.7 -1.6 1.6 -1.8 1.7 -1.8 1.6 -1.7 1.7 -1 1.6 -.1 1.7 .9 1.7 2 1.6 2.4 1.7 2.5 1.6 2 1.7 1.4 1.6 .6 1.7 0 1.6 -.5 1.7 -.9 1.6 -1.1 1.7 -1.4 1.6 -1.4 1.7 -1.5 1.6 -1.4 1.7 -1.1 1.6 -.8 1.7 -.3" stroke="#2eaae2"/>
<path d="M539.5 489.3l1 0 1.7 0 1.6 0 1.7 -.1 1.6 -.2 1.7 -.2 1.6 -.3 1.7 -.4 1.6 -.7 1.7 -.7 1.6 -1 1.7 -1.2 1.6 -1.5 1.7 -1.6 1.6 -1.8 1.7 -1.8 1.6 -1.6 1.7 -1.1 1.6 -.1 1.7 1 1.7 1.9 1.6 2.5 1.7 2.5 1.6 2 1.7 1.4 1.6 .6 1.7 0 1.6 -.5 1.7 -.8 1.6 -1.2 1.7 -1.3 1.6 -1.5 1.7 -1.4 1.6 -1.4 1.7 -1.2 1.6 -.8 1.7 -.3" stroke="#2da9e2"/>
<path d="M539.5 489.7l1 0 1.7 0 1.6 0 1.7 -.1 1.6 -.2 1.7 -.2 1.6 -.3 1.7 -.5 1.6 -.6 1.7 -.7 1.6 -1 1.7 -1.2 1.6 -1.5 1.7 -1.6 1.6 -1.8 1.7 -1.8 1.6 -1.6 1.7 -1.1 1.6 -.1 1.7 1 1.7 2 1.6 2.5 1.7 2.5 1.6 2 1.7 1.4 1.6 .6 1.7 .1 1.6 -.5 1.7 -.9 1.6 -1.2 1.7 -1.3 1.6 -1.4 1.7 -1.5 1.6 -1.4 1.7 -1.1 1.6 -.8 1.7 -.3" stroke="#2ba9e1"/>
<path d="M539.5 490.1l1 0 1.7 0 1.6 -.1 1.7 0 1.6 -.2 1.7 -.2 1.6 -.3 1.7 -.5 1.6 -.6 1.7 -.8 1.6 -.9 1.7 -1.2 1.6 -1.4 1.7 -1.7 1.6 -1.8 1.7 -1.8 1.6 -1.6 1.7 -1.1 1.6 -.1 1.7 1.1 1.7 1.9 1.6 2.5 1.7 2.5 1.6 2.1 1.7 1.4 1.6 .7 1.7 0 1.6 -.5 1.7 -.9 1.6 -1.1 1.7 -1.3 1.6 -1.5 1.7 -1.4 1.6 -1.4 1.7 -1.2 1.6 -.8 1.7 -.3" stroke="#2aa8e1"/>
<path d="M539.5 490.4l1 .1 1.7 -.1 1.6 -.3 1.7 -.5 1.6 -.7 1.7 -.9 1.6 -1.1 1.7 -1.3 1.6 -1.4 1.7 -1.6 1.6 -1.8 1.7 -1.9 1.6 -2.1 1.7 -2.2 1.6 -2.3 1.7 -2.2 1.6 -1.8 1.7 -1.1 1.6 .2 1.7 1.6 1.7 2.8 1.6 3.5 1.7 3.5 1.6 3 1.7 2.3 1.6 1.4 1.7 .6 1.6 0 1.7 -.4 1.6 -.8 1.7 -1 1.6 -1.2 1.7 -1.3 1.6 -1.2 1.7 -1 1.6 -.8 1.7 -.2" stroke="#29a7e1"/>
<path d="M539.5 496.2l1 .1 1.7 -.1 1.6 -.4 1.7 -.5 1.6 -.8 1.7 -.9 1.6 -1.1 1.7 -1.4 1.6 -1.5 1.7 -1.6 1.6 -1.9 1.7 -1.9 1.6 -2.1 1.7 -2.3 1.6 -2.2 1.7 -2.3 1.6 -1.9 1.7 -1.1 1.6 -.1 1.7 1.3 1.7 2.4 1.6 3 1.7 3 1.6 2.6 1.7 1.9 1.6 1 1.7 .4 1.6 -.2 1.7 -.7 1.6 -.9 1.7 -1.2 1.6 -1.3 1.7 -1.3 1.6 -1.3 1.7 -1.1 1.6 -.8 1.7 -.3" stroke="#28a7e0"/>
<path d="M539.5 502l1 0 1.7 -.1 1.6 -.3 1.7 -.6 1.6 -.8 1.7 -1 1.6 -1.2 1.7 -1.4 1.6 -1.5 1.7 -1.7 1.6 -1.9 1.7 -2 1.6 -2.1 1.7 -2.3 1.6 -2.3 1.7 -2.3 1.6 -1.9 1.7 -1.3 1.6 -.2 1.7 .9 1.7 2 1.6 2.5 1.7 2.6 1.6 2.1 1.7 1.4 1.6 .8 1.7 .1 1.6 -.5 1.7 -.8 1.6 -1.1 1.7 -1.3 1.6 -1.4 1.7 -1.5 1.6 -1.4 1.7 -1.1 1.6 -.9 1.7 -.3" stroke="#27a6e0"/>
<path d="M539.5 507.7l1 .1 1.7 -.1 1.6 -.4 1.7 -.6 1.6 -.8 1.7 -1.1 1.6 -1.2 1.7 -1.4 1.6 -1.7 1.7 -1.7 1.6 -1.9 1.7 -2.1 1.6 -2.2 1.7 -2.2 1.6 -2.4 1.7 -2.2 1.6 -2 1.7 -1.4 1.6 -.5 1.7 .6 1.7 1.6 1.6 2 1.7 2.1 1.6 1.7 1.7 1 1.6 .4 1.7 -.2 1.6 -.6 1.7 -1.1 1.6 -1.2 1.7 -1.5 1.6 -1.5 1.7 -1.6 1.6 -1.4 1.7 -1.3 1.6 -.8 1.7 -.3" stroke="#26a5e0"/>
<path d="M539.5 513.5l1 .1 1.7 -.1 1.6 -.4 1.7 -.7 1.6 -.8 1.7 -1.1 1.6 -1.3 1.7 -1.5 1.6 -1.7 1.7 -1.8 1.6 -2 1.7 -2.1 1.6 -2.2 1.7 -2.3 1.6 -2.3 1.7 -2.3 1.6 -2.1 1.7 -1.5 1.6 -.7 1.7 .3 1.7 1.2 1.6 1.5 1.7 1.6 1.6 1.3 1.7 .6 1.6 .1 1.7 -.5 1.6 -.9 1.7 -1.2 1.6 -1.4 1.7 -1.6 1.6 -1.7 1.7 -1.6 1.6 -1.6 1.7 -1.3 1.6 -.8 1.7 -.4" stroke="#24a4e0"/>
<path d="M539.5 519.3l1 .1 1.7 -.2 1.6 -.4 1.7 -.6 1.6 -1 1.7 -1.1 1.6 -1.4 1.7 -1.5 1.6 -1.7 1.7 -1.9 1.6 -2 1.7 -2.2 1.6 -2.2 1.7 -2.3 1.6 -2.4 1.7 -2.3 1.6 -2.1 1.7 -1.6 1.6 -.9 1.7 -.1 1.7 .8 1.6 1.1 1.7 1.1 1.6 .7 1.7 .3 1.6 -.2 1.7 -.8 1.6 -1.1 1.7 -1.4 1.6 -1.6 1.7 -1.8 1.6 -1.7 1.7 -1.8 1.6 -1.6 1.7 -1.4 1.6 -.9 1.7 -.3" stroke="#23a4df"/>
<path d="M539.5 525.1l1 0 1.7 -.1 1.6 -.4 1.7 -.7 1.6 -1 1.7 -1.2 1.6 -1.4 1.7 -1.6 1.6 -1.8 1.7 -1.9 1.6 -2.1 1.7 -2.1 1.6 -2.3 1.7 -2.4 1.6 -2.3 1.7 -2.4 1.6 -2.2 1.7 -1.7 1.6 -1.1 1.7 -.4 1.7 .3 1.6 .7 1.7 .6 1.6 .3 1.7 -.1 1.6 -.6 1.7 -1 1.6 -1.4 1.7 -1.6 1.6 -1.7 1.7 -1.9 1.6 -1.9 1.7 -1.9 1.6 -1.7 1.7 -1.4 1.6 -.9 1.7 -.4" stroke="#22a3df"/>
<path d="M539.5 530.8l1 .1 1.7 -.1 1.6 -.5 1.7 -.7 1.6 -1 1.7 -1.3 1.6 -1.4 1.7 -1.7 1.6 -1.8 1.7 -2 1.6 -2.1 1.7 -2.2 1.6 -2.3 1.7 -2.4 1.6 -2.4 1.7 -2.4 1.6 -2.2 1.7 -1.9 1.6 -1.3 1.7 -.6 1.7 -.2 1.6 .2 1.7 .1 1.6 -.1 1.7 -.5 1.6 -.9 1.7 -1.3 1.6 -1.6 1.7 -1.8 1.6 -1.9 1.7 -2.1 1.6 -2 1.7 -1.9 1.6 -1.8 1.7 -1.5 1.6 -1 1.7 -.3" stroke="#21a2df"/>
<path d="M539.5 536.6l1 .1 1.7 -.2 1.6 -.4 1.7 -.8 1.6 -1 1.7 -1.3 1.6 -1.6 1.7 -1.7 1.6 -1.9 1.7 -2 1.6 -2.2 1.7 -2.2 1.6 -2.3 1.7 -2.4 1.6 -2.5 1.7 -2.4 1.6 -2.2 1.7 -2 1.6 -1.5 1.7 -1 1.7 -.6 1.6 -.3 1.7 -.3 1.6 -.6 1.7 -.9 1.6 -1.3 1.7 -1.5 1.6 -1.8 1.7 -2 1.6 -2.1 1.7 -2.2 1.6 -2.1 1.7 -2.1 1.6 -1.9 1.7 -1.5 1.6 -1 1.7 -.4" stroke="#20a2de"/>
<path d="M539.5 542.4l1 .1 1.7 -.2 1.6 -.5 1.7 -.8 1.6 -1.1 1.7 -1.3 1.6 -1.6 1.7 -1.8 1.6 -1.9 1.7 -2.1 1.6 -2.2 1.7 -2.3 1.6 -2.4 1.7 -2.4 1.6 -2.4 1.7 -2.4 1.6 -2.4 1.7 -2.1 1.6 -1.7 1.7 -1.3 1.7 -1 1.6 -.8 1.7 -.8 1.6 -1 1.7 -1.3 1.6 -1.6 1.7 -1.8 1.6 -2.1 1.7 -2.2 1.6 -2.2 1.7 -2.3 1.6 -2.3 1.7 -2.2 1.6 -1.9 1.7 -1.6 1.6 -1.1 1.7 -.3" stroke="#1fa1de"/>
<path d="M539.5 545.2l1 .1 1.7 -.2 1.6 -.5 1.7 -.8 1.6 -1.1 1.7 -1.4 1.6 -1.6 1.7 -1.8 1.6 -2 1.7 -2.1 1.6 -2.2 1.7 -2.3 1.6 -2.4 1.7 -2.4 1.6 -2.5 1.7 -2.4 1.6 -2.4 1.7 -2.1 1.6 -1.8 1.7 -1.5 1.7 -1.1 1.6 -1 1.7 -1.1 1.6 -1.2 1.7 -1.4 1.6 -1.7 1.7 -2 1.6 -2.1 1.7 -2.3 1.6 -2.4 1.7 -2.3 1.6 -2.3 1.7 -2.2 1.6 -2 1.7 -1.6 1.6 -1.1 1.7 -.4" stroke="#1da0de"/>
<path d="M539.5 548l1 .1 1.7 -.2 1.6 -.5 1.7 -.8 1.6 -1.1 1.7 -1.4 1.6 -1.7 1.7 -1.8 1.6 -2 1.7 -2.2 1.6 -2.2 1.7 -2.3 1.6 -2.4 1.7 -2.4 1.6 -2.5 1.7 -2.5 1.6 -2.3 1.7 -2.2 1.6 -2 1.7 -1.5 1.7 -1.4 1.6 -1.2 1.7 -1.2 1.6 -1.4 1.7 -1.6 1.6 -1.9 1.7 -2.1 1.6 -2.2 1.7 -2.4 1.6 -2.4 1.7 -2.4 1.6 -2.4 1.7 -2.2 1.6 -2 1.7 -1.7 1.6 -1.1 1.7 -.3" stroke="#1c9fde"/>
<path d="M539.5 550.8l1 .1 1.7 -.2 1.6 -.5 1.7 -.8 1.6 -1.2 1.7 -1.4 1.6 -1.7 1.7 -1.8 1.6 -2.1 1.7 -2.1 1.6 -2.3 1.7 -2.3 1.6 -2.4 1.7 -2.5 1.6 -2.5 1.7 -2.4 1.6 -2.4 1.7 -2.3 1.6 -2 1.7 -1.7 1.7 -1.5 1.6 -1.4 1.7 -1.4 1.6 -1.6 1.7 -1.8 1.6 -2 1.7 -2.2 1.6 -2.4 1.7 -2.4 1.6 -2.5 1.7 -2.5 1.6 -2.4 1.7 -2.3 1.6 -2 1.7 -1.7 1.6 -1.1 1.7 -.4" stroke="#1b9fdd"/>
<path d="M539.5 553.7l1 0 1.7 -.1 1.6 -.2 1.7 -.4 1.6 -.5 1.7 -.7 1.6 -.8 1.7 -1 1.6 -1.2 1.7 -1.2 1.6 -1.4 1.7 -1.6 1.6 -1.7 1.7 -1.8 1.6 -1.9 1.7 -2.1 1.6 -2.2 1.7 -2.3 1.6 -2.4 1.7 -2.4 1.7 -2.6 1.6 -2.7 1.7 -2.8 1.6 -2.8 1.7 -2.9 1.6 -2.9 1.7 -3 1.6 -3 1.7 -2.9 1.6 -3 1.7 -2.9 1.6 -2.7 1.7 -2.6 1.6 -2.3 1.7 -1.8 1.6 -1.2 1.7 -.5" stroke="#1a9edd"/>
<path d="M539.5 269.7l1 -.3 1.7 .5 1.6 1.2 1.7 2 1.6 2.7 1.7 3.4" stroke="#6ec8ec"/>
<path d="M539.5 274.2l1 -.2 1.7 .3 1.6 .7 1.7 1.3 1.6 1.8 1.7 2.5 1.6 3.3 1.7 3.9 1.6 4.3" stroke="#6cc7ec"/>
<path d="M539.5 279.9l1 -.2 1.7 .2 1.6 .6 1.7 1 1.6 1.3 1.7 1.8 1.6 2.2 1.7 2.9 1.6 3.6 1.7 4.3 1.6 4.7" stroke="#6bc7ec"/>
<path d="M539.5 286.2l1 -.1 1.7 .2 1.6 .5 1.7 .9 1.6 1.1 1.7 1.5 1.6 1.9 1.7 2.2 1.6 2.5 1.7 3.1 1.6 3.8 1.7 4.5 1.6 5" stroke="#69c6eb"/>
<path d="M539.5 293.2l1 -.1 1.7 .2 1.6 .4 1.7 .8 1.6 1.1 1.7 1.3 1.6 1.6 1.7 1.9 1.6 2.2 1.7 2.5 1.6 2.8 1.7 3.2 1.6 3.9 1.7 4.6 1.6 5.3 1.7 5.6" stroke="#68c5eb"/>
<path d="M539.5 300.7l1 -.1 1.7 .1 1.6 .4 1.7 .7 1.6 1 1.7 1.2 1.6 1.5 1.7 1.7 1.6 1.9 1.7 2.2 1.6 2.4 1.7 2.6 1.6 2.9 1.7 3.3 1.6 3.9 1.7 4.9 1.6 5.5 1.7 5.8" stroke="#66c4eb"/>
<path d="M539.5 308.5l1 -.1 1.7 .2 1.6 .3 1.7 .7 1.6 .8 1.7 1.1 1.6 1.3 1.7 1.5 1.6 1.8 1.7 1.9 1.6 2.1 1.7 2.3 1.6 2.5 1.7 2.7 1.6 2.9 1.7 3.3 1.6 4.2 1.7 5.2 1.6 5.7" stroke="#65c4eb"/>
<path d="M539.5 316.7l1 -.1 1.7 .1 1.6 .4 1.7 .5 1.6 .8 1.7 .9 1.6 1.2 1.7 1.4 1.6 1.5 1.7 1.7 1.6 1.9 1.7 2 1.6 2.2 1.7 2.3 1.6 2.4 1.7 2.6 1.6 2.9 1.7 3.5 1.6 4.7 1.7 5.6 1.7 5.9" stroke="#63c3eb"/>
<path d="M539.5 325.1l1 0 1.7 .1 1.6 .2 1.7 .5 1.6 .7 1.7 .8 1.6 1.1 1.7 1.1 1.6 1.4 1.7 1.5 1.6 1.6 1.7 1.8 1.6 1.9 1.7 1.9 1.6 2.1 1.7 2.2 1.6 2.3 1.7 2.6 1.6 3 1.7 4.2 1.7 5.3 1.6 5.8" stroke="#61c2ea"/>
<path d="M539.5 333.7l1 -.1 1.7 .1 1.6 .3 1.7 .4 1.6 .5 1.7 .8 1.6 .9 1.7 1 1.6 1.1 1.7 1.3 1.6 1.4 1.7 1.5 1.6 1.7 1.7 1.7 1.6 1.8 1.7 1.8 1.6 2 1.7 2 1.6 2.2 1.7 2.6 1.7 3.8 1.6 5.1 1.7 5.7" stroke="#60c1ea"/>
<path d="M539.5 342.3l1 -.1 1.7 .1 1.6 .2 1.7 .4 1.6 .5 1.7 .6 1.6 .7 1.7 .9 1.6 1 1.7 1.1 1.6 1.1 1.7 1.3 1.6 1.4 1.7 1.4 1.6 1.5 1.7 1.6 1.6 1.6 1.7 1.7 1.6 1.7 1.7 1.9 1.7 2.3 1.6 3.5 1.7 5 1.6 5.6" stroke="#5ec1ea"/>
<path d="M539.5 350.9l1 -.1 1.7 .1 1.6 .2 1.7 .2 1.6 .4 1.7 .6 1.6 .6 1.7 .7 1.6 .8 1.7 .9 1.6 1 1.7 1 1.6 1.2 1.7 1.2 1.6 1.2 1.7 1.3 1.6 1.3 1.7 1.4 1.6 1.4 1.7 1.5 1.7 1.5 1.6 2 1.7 3.4 1.6 4.9 1.7 5.5" stroke="#5dc0ea"/>
<path d="M539.5 359.3l1 0 1.7 0 1.6 .1 1.7 .3 1.6 .3 1.7 .4 1.6 .5 1.7 .6 1.6 .6 1.7 .8 1.6 .8 1.7 .8 1.6 .9 1.7 1 1.6 1 1.7 1 1.6 1.1 1.7 1.1 1.6 1.1 1.7 1.2 1.7 1.2 1.6 1.3 1.7 1.8 1.6 3.3 1.7 4.9 1.6 5.3" stroke="#5bbfe9"/>
<path d="M539.5 367.5l1 0 1.7 0 1.6 .1 1.7 .2 1.6 .2 1.7 .4 1.6 .4 1.7 .4 1.6 .5 1.7 .6 1.6 .6 1.7 .7 1.6 .7 1.7 .7 1.6 .8 1.7 .8 1.6 .8 1.7 .9 1.6 .9 1.7 .9 1.7 .9 1.6 .9 1.7 1.1 1.6 1.7 1.7 3.4 1.6 4.9 1.7 5" stroke="#59bee9"/>
<path d="M539.5 375.4l1 0 1.7 0 1.6 .1 1.7 .1 1.6 .2 1.7 .2 1.6 .3 1.7 .4 1.6 .3 1.7 .5 1.6 .4 1.7 .5 1.6 .6 1.7 .5 1.6 .6 1.7 .6 1.6 .6 1.7 .7 1.6 .6 1.7 .7 1.7 .6 1.6 .7 1.7 .8 1.6 .9 1.7 1.7 1.6 3.6 1.7 4.7 1.6 4.7" stroke="#58bee9"/>
<path d="M539.5 382.9l1 0 1.7 0 1.6 0 1.7 .1 1.6 .2 1.7 .1 1.6 .3 1.7 .2 1.6 .3 1.7 .3 1.6 .3 1.7 .3 1.6 .4 1.7 .4 1.6 .4 1.7 .4 1.6 .5 1.7 .4 1.6 .5 1.7 .4 1.7 .5 1.6 .5 1.7 .5 1.6 .6 1.7 .8 1.6 1.8 1.7 3.6 1.6 4.5 1.7 4.1" stroke="#56bde9"/>
<path d="M539.5 389.9l1 0 1.7 0 1.6 .1 1.7 0 1.6 .1 1.7 .1 1.6 .2 1.7 .1 1.6 .2 1.7 .2 1.6 .2 1.7 .2 1.6 .3 1.7 .2 1.6 .3 1.7 .3 1.6 .2 1.7 .3 1.6 .3 1.7 .3 1.7 .3 1.6 .3 1.7 .4 1.6 .4 1.7 .4 1.6 .8 1.7 1.9 1.6 3.6 1.7 3.9 1.6 2.4" stroke="#55bce9"/>
<path d="M539.5 396.5l1 0 1.7 0 1.6 0 1.7 0 1.6 .1 1.7 .1 1.6 0 1.7 .1 1.6 .1 1.7 .1 1.6 .1 1.7 .1 1.6 .2 1.7 .1 1.6 .2 1.7 .1 1.6 .2 1.7 .1 1.6 .2 1.7 .2 1.7 .1 1.6 .2 1.7 .2 1.6 .2 1.7 .3 1.6 .4 1.7 .8 1.6 1.9 1.7 3.3 1.6 2" stroke="#53bbe8"/>
<path d="M539.5 402.5l1 0 1.7 0 1.6 0 1.7 0 1.6 0 1.7 .1 1.6 0 1.7 0 1.6 .1 1.7 0 1.6 0 1.7 .1 1.6 0 1.7 .1 1.6 0 1.7 .1 1.6 .1 1.7 0 1.6 .1 1.7 .1 1.7 .1 1.6 0 1.7 .1 1.6 .1 1.7 .2 1.6 .2 1.7 .3 1.6 .8 1.7 1.8 1.6 1 1.7 0" stroke="#52bbe8"/>
<path d="M539.5 407.9l1 0 1.7 0 1.6 0 1.7 0 1.6 0 1.7 0 1.6 0 1.7 0 1.6 0 1.7 0 1.6 0 1.7 0 1.6 0 1.7 0 1.6 0 1.7 0 1.6 0 1.7 0 1.6 0 1.7 0 1.7 0 1.6 0 1.7 0 1.6 0 1.7 0 1.6 0 1.7 0 1.6 0 1.7 0 1.6 0 1.7 0 1.6 0 1.7 0 1.6 0" stroke="#50bae8"/>
<path d="M539.5 407.9l1 0 1.7 0 1.6 0 1.7 0 1.6 0 1.7 0 1.6 0 1.7 0 1.6 0 1.7 0 1.6 0 1.7 0 1.6 0 1.7 0 1.6 0 1.7 0 1.6 0 1.7 0 1.6 0 1.7 0 1.7 0 1.6 0 1.7 0 1.6 0 1.7 0 1.6 0 1.7 0 1.6 0 1.7 0 1.6 0 1.7 0 1.6 0 1.7 0 1.6 0 1.7 0 1.6 0 1.7 0" stroke="#50bae8"/>
<path d="M539.5 206.1l1 0 1.7 0 1.6 0 1.7 0 1.6 0 1.7 0 1.6 0 1.7 0 1.6 0 1.7 0 1.6 0 1.7 0 1.6 0 1.7 0 1.6 0 1.7 0 1.6 0 1.7 0 1.6 0 1.7 0 1.7 0 1.6 0 1.7 0 1.6 0 1.7 0 1.6 0 1.7 0 1.6 0 1.7 0 1.6 0 1.7 0 1.6 0 1.7 0 1.6 0 1.7 0 1.6 0 1.7 0" stroke="#b9e2f1"/>
<path d="M543.8 206.1l1.7 0 1.6 0 1.7 .2 1.6 1.1 1.7 .9 1.6 .9 1.7 .7 1.6 .6 1.7 .5 1.6 .4 1.7 .3 1.6 .3 1.7 .2 1.6 .2 1.7 .1 1.6 .1 1.7 .2 1.7 0 1.6 .1 1.7 .1 1.6 .1 1.7 0 1.6 .1 1.7 0 1.6 .1 1.7 0 1.6 0 1.7 .1 1.6 0 1.7 0 1.6 0 1.7 0 1.6 .1 1.7 0" stroke="#b8e1f1"/>
<path d="M548.8 209l1.6 1.5 1.7 1.6 1.6 1.4 1.7 1.4 1.6 1.1 1.7 1 1.6 .7 1.7 .6 1.6 .4 1.7 .4 1.6 .3 1.7 .2 1.6 .2 1.7 .1 1.7 .2 1.6 .1 1.7 .1 1.6 .1 1.7 0 1.6 .1 1.7 0 1.6 .1 1.7 0 1.6 .1 1.7 0 1.6 0 1.7 .1 1.6 0 1.7 0 1.6 0 1.7 .1" stroke="#b6e1f1"/>
<path d="M552.1 214.1l1.6 2 1.7 2 1.6 1.8 1.7 1.7 1.6 1.4 1.7 1.2 1.6 .8 1.7 .7 1.6 .5 1.7 .3 1.6 .3 1.7 .2 1.7 .2 1.6 .2 1.7 .1 1.6 .1 1.7 .1 1.6 .1 1.7 .1 1.6 0 1.7 .1 1.6 0 1.7 .1 1.6 0 1.7 0 1.6 .1 1.7 0 1.6 0 1.7 0" stroke="#b5e0f1"/>
<path d="M555.4 219.8l1.6 2.4 1.7 2.3 1.6 2.2 1.7 1.9 1.6 1.6 1.7 1.3 1.6 .9 1.7 .7 1.6 .5 1.7 .4 1.7 .3 1.6 .2 1.7 .2 1.6 .1 1.7 .2 1.6 .1 1.7 .1 1.6 0 1.7 .1 1.6 .1 1.7 0 1.6 0 1.7 .1 1.6 0 1.7 .1 1.6 0 1.7 0" stroke="#b4e0f0"/>
<path d="M558.7 226l1.6 2.7 1.7 2.6 1.6 2.5 1.7 2.1 1.6 1.8 1.7 1.3 1.6 1 1.7 .6 1.7 .5 1.6 .4 1.7 .3 1.6 .2 1.7 .2 1.6 .1 1.7 .1 1.6 .1 1.7 .1 1.6 .1 1.7 0 1.6 .1 1.7 0 1.6 .1 1.7 0 1.6 .1 1.7 0" stroke="#b2dff0"/>
<path d="M562 232.7l1.6 3 1.7 2.9 1.6 2.6 1.7 2.3 1.6 1.8 1.7 1.4 1.7 .9 1.6 .6 1.7 .5 1.6 .3 1.7 .3 1.6 .2 1.7 .2 1.6 .1 1.7 .1 1.6 .1 1.7 .1 1.6 0 1.7 .1 1.6 0 1.7 .1 1.6 0 1.7 .1" stroke="#b1dff0"/>
<path d="M565.3 240l1.6 3.2 1.7 3.1 1.6 2.7 1.7 2.4 1.7 1.7 1.6 1.3 1.7 .9 1.6 .6 1.7 .4 1.6 .3 1.7 .2 1.6 .2 1.7 .2 1.6 .1 1.7 .1 1.6 .1 1.7 0 1.6 .1 1.7 0 1.6 .1 1.7 0" stroke="#b0def0"/>
<path d="M568.6 247.7l1.6 3.4 1.7 3.2 1.7 2.8 1.6 2.3 1.7 1.7 1.6 1.1 1.7 .8 1.6 .5 1.7 .4 1.6 .2 1.7 .3 1.6 .1 1.7 .2 1.6 .1 1.7 .1 1.6 0 1.7 .1 1.6 .1 1.7 0" stroke="#aedef0"/>
<path d="M570.2 252.2l1.7 3.7 1.7 3.5 1.6 3.3 1.7 2.8 1.6 2.1 1.7 1.5 1.6 1 1.7 .6 1.6 .5 1.7 .3 1.6 .2 1.7 .2 1.6 .2 1.7 .1 1.6 .1 1.7 0 1.6 .1 1.7 .1" stroke="#adddf0"/>
<path d="M573.6 260.7l1.6 3.8 1.7 3.6 1.6 3.2 1.7 2.7 1.6 1.8 1.7 1.3 1.6 .8 1.7 .5 1.6 .4 1.7 .3 1.6 .2 1.7 .2 1.6 .1 1.7 .1 1.6 .1 1.7 0" stroke="#acddef"/>
<path d="M575.2 265.5l1.7 4 1.6 3.9 1.7 3.7 1.6 3.1 1.7 2.3 1.6 1.5 1.7 1 1.6 .7 1.7 .4 1.6 .4 1.7 .2 1.6 .2 1.7 .1 1.6 .1 1.7 .1" stroke="#abdcef"/>
<path d="M578.5 274.6l1.7 4.2 1.6 3.9 1.7 3.5 1.6 2.8 1.7 2 1.6 1.2 1.7 .8 1.6 .5 1.7 .4 1.6 .2 1.7 .2 1.6 .2 1.7 .1" stroke="#a9dcef"/>
<path d="M580.2 279.8l1.6 4.4 1.7 4.2 1.6 3.8 1.7 3.3 1.6 2.3 1.7 1.5 1.6 1 1.7 .6 1.6 .4 1.7 .3 1.6 .2 1.7 .2" stroke="#a8dbef"/>
<path d="M583.5 289.6l1.6 4.5 1.7 4.2 1.6 3.6 1.7 2.7 1.6 1.9 1.7 1.1 1.6 .7 1.7 .5 1.6 .3 1.7 .2" stroke="#a7dbef"/>
<path d="M585.1 295.2l1.7 4.7 1.6 4.4 1.7 4 1.6 3.2 1.7 2.2 1.6 1.3 1.7 .8 1.6 .6 1.7 .3" stroke="#a5daef"/>
<path d="M586.8 301.1l1.6 4.8 1.7 4.7 1.6 4.2 1.7 3.6 1.6 2.5 1.7 1.6 1.6 1 1.7 .6" stroke="#a4daee"/>
<path d="M590.1 312.3l1.6 4.9 1.7 4.5 1.6 3.9 1.7 2.9 1.6 1.9 1.7 1.1" stroke="#a3d9ee"/>
<path d="M591.7 319.4l1.7 5.1 1.6 4.7 1.7 4.3 1.6 3.2 1.7 2.1" stroke="#a1d9ee"/>
<path d="M593.4 328l1.6 5.2 1.7 4.9 1.6 4.5 1.7 3.6" stroke="#a0d8ee"/>
<path d="M540 264.9 540.5 264.9 542.2 265.8 543.8 267.4 545.5 269.4 547.1 271.8 548.8 274.5 550.4 277.4 552.1 280.7 553.7 284.1 555.4 287.7 557 291.5 558.7 295.5 560.3 299.6 562 303.9 563.6 308.3 565.3 312.8 566.9 317.4 568.6 322 570.2 326.8 571.9 331.6 573.6 336.5 575.2 341.5 576.9 346.4 578.5 351.4 580.2 356.4 581.8 361.4 583.5 366.4 585.1 371.3 586.8 376.2 588.4 380.9 590.1 385.6 591.7 390.1 593.4 394.5 595 398.6 596.7 402.3 598.3 405.6 600 407.9 600 407.9 598.3 407.9 596.7 407.9 595 407.9 593.4 407.9 591.7 407.9 590.1 407.9 588.4 407.9 586.8 404.8 585.1 400.4 583.5 395.5 581.8 390.1 580.2 384.5 578.5 378.7 576.9 372.7 575.2 366.6 573.6 360.4 571.9 354.2 570.2 348 568.6 341.9 566.9 335.8 565.3 329.7 563.6 323.8 562 317.9 560.3 312.2 558.7 306.7 557 301.3 555.4 296.1 553.7 291.2 552.1 286.5 550.4 282.1 548.8 278.1 547.1 274.4 545.5 271.1 543.8 268.3 542.2 266.1 540.5 264.9 540 264.9Z" fill="url(#gic)" stroke="none"/>
<path d="M540 206.1 540.5 206.1 542.2 206.7 543.8 207.7 545.5 209.1 547.1 210.8 548.8 212.7 550.4 214.8 552.1 217.2 553.7 219.7 555.4 222.5 557 225.3 558.7 228.4 560.3 231.6 562 235 563.6 238.5 565.3 242.2 566.9 246 568.6 249.9 570.2 254 571.9 258.1 573.6 262.4 575.2 266.9 576.9 271.4 578.5 276.1 580.2 280.8 581.8 285.7 583.5 290.7 585.1 295.8 586.8 301 588.4 306.3 590.1 311.7 591.7 317.2 593.4 322.8 595 328.5 596.7 334.3 598.3 340.2 600 346.2 600 346.2 598.3 346.2 596.7 346.2 595 346.2 593.4 344 591.7 338.8 590.1 333.7 588.4 328.6 586.8 323.6 585.1 318.5 583.5 313.6 581.8 308.6 580.2 303.7 578.5 298.9 576.9 294 575.2 289.3 573.6 284.5 571.9 279.9 570.2 275.2 568.6 270.6 566.9 266.1 565.3 261.6 563.6 257.2 562 252.9 560.3 248.6 558.7 244.4 557 240.3 555.4 236.2 553.7 232.2 552.1 228.4 550.4 224.6 548.8 221 547.1 217.5 545.5 214.2 543.8 211.1 542.2 208.3 540.5 206.1 540 206.1Z" fill="url(#goc)" stroke="none"/>
<path d="M540 128.8 540.5 128.8 542.2 128.3 543.8 127.1 545.5 125.3 547.1 123 548.8 120.4 550.4 117.7 552.1 114.8 553.7 111.8 555.4 108.9 557 105.9 558.7 102.9 560.3 100 562 97.1 563.6 94.3 565.3 91.5 566.9 88.8 568.6 86.2 570.2 83.8 571.9 81.4 573.6 79.1 575.2 76.9 576.9 74.8 578.5 72.9 580.2 71.1 581.8 69.4 583.5 67.8 585.1 66.4 586.8 65.2 588.4 64 590.1 63 591.7 62.2 593.4 61.5 595 61 596.7 60.6 598.3 60.4 600 60.3 600 130.5 598.3 130.6 596.7 130.8 595 131.2 593.4 131.7 591.7 132.4 590.1 133.2 588.4 134.1 586.8 135.2 585.1 136.4 583.5 137.8 581.8 139.2 580.2 140.9 578.5 142.6 576.9 144.5 575.2 146.5 573.6 148.6 571.9 150.8 570.2 153.1 568.6 155.5 566.9 158.1 565.3 160.7 563.6 163.4 562 166.2 560.3 169.1 558.7 172 557 175 555.4 178.1 553.7 181.2 552.1 184.4 550.4 187.6 548.8 190.9 547.1 194.2 545.5 197.5 543.8 200.8 542.2 204 540.5 206.1 540 206.1Z" fill="url(#gtc)" stroke="none"/>
<path d="M539.5 204.8l1 1.3 1.7 -2.1 1.6 -3.2 1.7 -3.3 1.6 -3.3 1.7 -3.3 1.6 -3.3 1.7 -3.2 1.6 -3.2 1.7 -3.1 1.6 -3.1 1.7 -3 1.6 -2.9 1.7 -2.9 1.6 -2.8 1.7 -2.7 1.6 -2.6 1.7 -2.6 1.6 -2.4 1.7 -2.3 1.7 -2.2 1.6 -2.1 1.7 -2 1.6 -1.9 1.7 -1.7 1.6 -1.7 1.7 -1.4 1.6 -1.4 1.7 -1.2 1.6 -1.1 1.7 -.9 1.6 -.8 1.7 -.7 1.6 -.5 1.7 -.4 1.6 -.2 1.7 -.1" stroke="#bee4f2"/>
<path d="M539.5 200.4l1 .8 1.7 -1.4 1.6 -2.7 1.7 -3.1 1.6 -3.2 1.7 -3.3 1.6 -3.3 1.7 -3.2 1.6 -3.2 1.7 -3.2 1.6 -3.1 1.7 -3.1 1.6 -3 1.7 -2.9 1.6 -2.9 1.7 -2.7 1.6 -2.7 1.7 -2.5 1.6 -2.5 1.7 -2.3 1.7 -2.2 1.6 -2 1.7 -1.9 1.6 -1.7 1.7 -1.5 1.6 -1.4 1.7 -1.3 1.6 -1 1.7 -.9 1.6 -.8 1.7 -.6 1.6 -.5 1.7 -.3 1.6 -.3 1.7 -.2 1.6 -.1 1.7 -.1" stroke="#c0e5f2"/>
<path d="M539.5 195.8l1 .6 1.7 -1 1.6 -2.3 1.7 -2.8 1.6 -3 1.7 -3.1 1.6 -3.1 1.7 -3.2 1.6 -3.1 1.7 -3.1 1.6 -3.1 1.7 -3 1.6 -3 1.7 -2.9 1.6 -2.8 1.7 -2.8 1.6 -2.7 1.7 -2.5 1.6 -2.5 1.7 -2.3 1.7 -2.1 1.6 -2 1.7 -1.8 1.6 -1.6 1.7 -1.5 1.6 -1.2 1.7 -1 1.6 -.9 1.7 -.7 1.6 -.5 1.7 -.4 1.6 -.2 1.7 -.2 1.6 -.1 1.7 -.1 1.6 0 1.7 0" stroke="#c2e5f3"/>
<path d="M539.5 191.1l1 .4 1.7 -.7 1.6 -1.9 1.7 -2.4 1.6 -2.6 1.7 -2.8 1.6 -2.8 1.7 -2.9 1.6 -2.8 1.7 -2.9 1.6 -2.9 1.7 -2.9 1.6 -2.8 1.7 -2.8 1.6 -2.8 1.7 -2.7 1.6 -2.7 1.7 -2.6 1.6 -2.4 1.7 -2.3 1.7 -2.2 1.6 -2 1.7 -1.7 1.6 -1.6 1.7 -1.4 1.6 -1.2 1.7 -1 1.6 -.7 1.7 -.6 1.6 -.4 1.7 -.3 1.6 -.2 1.7 -.1 1.6 0 1.7 0 1.6 0 1.7 0" stroke="#c3e6f3"/>
<path d="M539.5 186.3l1 .4 1.7 -.6 1.6 -1.4 1.7 -2 1.6 -2.2 1.7 -2.4 1.6 -2.4 1.7 -2.4 1.6 -2.5 1.7 -2.5 1.6 -2.6 1.7 -2.5 1.6 -2.6 1.7 -2.6 1.6 -2.7 1.7 -2.6 1.6 -2.6 1.7 -2.6 1.6 -2.4 1.7 -2.4 1.7 -2.2 1.6 -2 1.7 -1.8 1.6 -1.6 1.7 -1.4 1.6 -1.2 1.7 -1 1.6 -.8 1.7 -.6 1.6 -.5 1.7 -.3 1.6 -.1 1.7 -.2 1.6 0 1.7 0 1.6 0 1.7 0" stroke="#c5e7f3"/>
<path d="M539.5 181.5l1 .3 1.7 -.4 1.6 -1.2 1.7 -1.6 1.6 -1.8 1.7 -2 1.6 -2 1.7 -2 1.6 -2.1 1.7 -2.2 1.6 -2.1 1.7 -2.3 1.6 -2.3 1.7 -2.4 1.6 -2.4 1.7 -2.5 1.6 -2.5 1.7 -2.5 1.6 -2.5 1.7 -2.3 1.7 -2.2 1.6 -2.1 1.7 -1.8 1.6 -1.7 1.7 -1.4 1.6 -1.3 1.7 -1 1.6 -.8 1.7 -.6 1.6 -.5 1.7 -.3 1.6 -.2 1.7 -.1 1.6 -.1 1.7 0 1.6 0 1.7 0" stroke="#c7e8f4"/>
<path d="M539.5 176.7l1 .2 1.7 -.3 1.6 -.9 1.7 -1.3 1.6 -1.5 1.7 -1.6 1.6 -1.7 1.7 -1.7 1.6 -1.7 1.7 -1.8 1.6 -1.8 1.7 -1.9 1.6 -2 1.7 -2.1 1.6 -2.2 1.7 -2.2 1.6 -2.4 1.7 -2.4 1.6 -2.5 1.7 -2.3 1.7 -2.2 1.6 -2.1 1.7 -1.9 1.6 -1.7 1.7 -1.4 1.6 -1.3 1.7 -1 1.6 -.9 1.7 -.6 1.6 -.5 1.7 -.3 1.6 -.3 1.7 -.1 1.6 -.1 1.7 0 1.6 0 1.7 0" stroke="#c9e8f4"/>
<path d="M539.5 171.9l1 .2 1.7 -.3 1.6 -.8 1.7 -1 1.6 -1.3 1.7 -1.3 1.6 -1.4 1.7 -1.3 1.6 -1.4 1.7 -1.4 1.6 -1.5 1.7 -1.5 1.6 -1.7 1.7 -1.7 1.6 -1.8 1.7 -2.1 1.6 -2.1 1.7 -2.3 1.6 -2.4 1.7 -2.3 1.7 -2.3 1.6 -2.1 1.7 -1.9 1.6 -1.7 1.7 -1.5 1.6 -1.2 1.7 -1.1 1.6 -.9 1.7 -.6 1.6 -.5 1.7 -.4 1.6 -.2 1.7 -.2 1.6 0 1.7 -.1 1.6 0 1.7 0" stroke="#cbe9f4"/>
<path d="M539.5 167.1l1 .1 1.7 -.2 1.6 -.7 1.7 -.9 1.6 -1 1.7 -1.2 1.6 -1.1 1.7 -1.1 1.6 -1.1 1.7 -1.1 1.6 -1.1 1.7 -1.1 1.6 -1.3 1.7 -1.3 1.6 -1.5 1.7 -1.6 1.6 -1.9 1.7 -2.1 1.6 -2.3 1.7 -2.3 1.7 -2.2 1.6 -2.1 1.7 -1.9 1.6 -1.8 1.7 -1.5 1.6 -1.3 1.7 -1.1 1.6 -.8 1.7 -.7 1.6 -.6 1.7 -.3 1.6 -.3 1.7 -.1 1.6 -.1 1.7 -.1 1.6 0 1.7 0" stroke="#cceaf5"/>
<path d="M539.5 162.2l1 .1 1.7 -.2 1.6 -.5 1.7 -.9 1.6 -.9 1.7 -1 1.6 -.9 1.7 -.9 1.6 -.9 1.7 -.8 1.6 -.8 1.7 -.8 1.6 -.8 1.7 -.9 1.6 -1 1.7 -1.3 1.6 -1.5 1.7 -1.8 1.6 -2 1.7 -2.2 1.7 -2.3 1.6 -2.1 1.7 -1.9 1.6 -1.8 1.7 -1.5 1.6 -1.3 1.7 -1.1 1.6 -.9 1.7 -.7 1.6 -.6 1.7 -.4 1.6 -.2 1.7 -.2 1.6 -.1 1.7 0 1.6 -.1 1.7 0" stroke="#ceebf5"/>
<path d="M539.5 157.4l1 .1 1.7 -.2 1.6 -.6 1.7 -.8 1.6 -.8 1.7 -.9 1.6 -.9 1.7 -.8 1.6 -.7 1.7 -.6 1.6 -.5 1.7 -.5 1.6 -.4 1.7 -.4 1.6 -.5 1.7 -.7 1.6 -1 1.7 -1.5 1.6 -1.7 1.7 -2.1 1.7 -2.1 1.6 -2.1 1.7 -2 1.6 -1.8 1.7 -1.5 1.6 -1.4 1.7 -1.1 1.6 -.9 1.7 -.8 1.6 -.5 1.7 -.4 1.6 -.3 1.7 -.2 1.6 -.1 1.7 0 1.6 -.1 1.7 0" stroke="#d0ebf6"/>
<path d="M539.5 152.5l1 .1 1.7 -.2 1.6 -.6 1.7 -.8 1.6 -.9 1.7 -.9 1.6 -.8 1.7 -.8 1.6 -.6 1.7 -.5 1.6 -.3 1.7 -.2 1.6 -.1 1.7 .1 1.6 .1 1.7 -.1 1.6 -.4 1.7 -.8 1.6 -1.4 1.7 -1.8 1.7 -2.1 1.6 -2 1.7 -2 1.6 -1.8 1.7 -1.6 1.6 -1.3 1.7 -1.2 1.6 -.9 1.7 -.8 1.6 -.5 1.7 -.5 1.6 -.3 1.7 -.1 1.6 -.2 1.7 0 1.6 -.1 1.7 0" stroke="#d2ecf6"/>
<path d="M539.5 147.6l1 .2 1.7 -.3 1.6 -.6 1.7 -.9 1.6 -1 1.7 -1 1.6 -.9 1.7 -.8 1.6 -.7 1.7 -.5 1.6 -.3 1.7 0 1.6 .3 1.7 .6 1.6 .7 1.7 .7 1.6 .4 1.7 -.2 1.6 -.8 1.7 -1.4 1.7 -1.9 1.6 -2 1.7 -1.9 1.6 -1.8 1.7 -1.6 1.6 -1.4 1.7 -1.2 1.6 -.9 1.7 -.8 1.6 -.6 1.7 -.4 1.6 -.3 1.7 -.2 1.6 -.1 1.7 -.1 1.6 0 1.7 0" stroke="#d4edf6"/>
<path d="M539.5 142.7l1 .2 1.7 -.3 1.6 -.7 1.7 -1 1.6 -1.1 1.7 -1.2 1.6 -1.2 1.7 -1 1.6 -.8 1.7 -.7 1.6 -.3 1.7 .1 1.6 .5 1.7 1 1.6 1.4 1.7 1.6 1.6 1.3 1.7 .8 1.6 -.1 1.7 -.8 1.7 -1.6 1.6 -1.8 1.7 -2 1.6 -1.8 1.7 -1.6 1.6 -1.4 1.7 -1.2 1.6 -.9 1.7 -.8 1.6 -.6 1.7 -.5 1.6 -.3 1.7 -.2 1.6 -.1 1.7 -.1 1.6 0 1.7 0" stroke="#d5eef7"/>
<path d="M539.5 137.9l1 .1 1.7 -.3 1.6 -.8 1.7 -1.1 1.6 -1.4 1.7 -1.5 1.6 -1.4 1.7 -1.4 1.6 -1.1 1.7 -.9 1.6 -.5 1.7 0 1.6 .6 1.7 1.4 1.6 2 1.7 2.5 1.6 2.4 1.7 2 1.6 .9 1.7 -.1 1.7 -1 1.6 -1.7 1.7 -1.8 1.6 -1.8 1.7 -1.6 1.6 -1.5 1.7 -1.2 1.6 -1 1.7 -.7 1.6 -.7 1.7 -.4 1.6 -.3 1.7 -.3 1.6 -.1 1.7 -.1 1.6 0 1.7 0" stroke="#d7eef7"/>
<path d="M539.5 137.3l1 .2 1.7 -.3 1.6 -.8 1.7 -1.2 1.6 -1.4 1.7 -1.4 1.6 -1.5 1.7 -1.3 1.6 -1.2 1.7 -.8 1.6 -.5 1.7 0 1.6 .6 1.7 1.4 1.6 2 1.7 2.5 1.6 2.5 1.7 1.9 1.6 1 1.7 -.1 1.7 -1.1 1.6 -1.6 1.7 -1.8 1.6 -1.8 1.7 -1.6 1.6 -1.5 1.7 -1.2 1.6 -1 1.7 -.7 1.6 -.7 1.7 -.4 1.6 -.3 1.7 -.2 1.6 -.2 1.7 -.1 1.6 0 1.7 0" stroke="#d9eff7"/>
<path d="M539.5 136.8l1 .1 1.7 -.3 1.6 -.8 1.7 -1.1 1.6 -1.4 1.7 -1.5 1.6 -1.4 1.7 -1.3 1.6 -1.2 1.7 -.9 1.6 -.5 1.7 .1 1.6 .6 1.7 1.4 1.6 2 1.7 2.5 1.6 2.5 1.7 2 1.6 1 1.7 -.1 1.7 -1.1 1.6 -1.6 1.7 -1.8 1.6 -1.8 1.7 -1.6 1.6 -1.5 1.7 -1.2 1.6 -1 1.7 -.7 1.6 -.6 1.7 -.5 1.6 -.3 1.7 -.2 1.6 -.2 1.7 -.1 1.6 0 1.7 0" stroke="#dbf0f8"/>
<path d="M539.5 136.2l1 .2 1.7 -.3 1.6 -.8 1.7 -1.2 1.6 -1.4 1.7 -1.4 1.6 -1.5 1.7 -1.3 1.6 -1.1 1.7 -.9 1.6 -.5 1.7 0 1.6 .7 1.7 1.4 1.6 2.1 1.7 2.5 1.6 2.5 1.7 1.9 1.6 1.1 1.7 -.1 1.7 -1.1 1.6 -1.6 1.7 -1.8 1.6 -1.8 1.7 -1.7 1.6 -1.4 1.7 -1.2 1.6 -.9 1.7 -.8 1.6 -.6 1.7 -.5 1.6 -.3 1.7 -.2 1.6 -.2 1.7 0 1.6 -.1 1.7 0" stroke="#ddf1f8"/>
<path d="M539.5 135.7l1 .1 1.7 -.2 1.6 -.8 1.7 -1 1.6 -1.2 1.7 -1.3 1.6 -1.2 1.7 -1 1.6 -.8 1.7 -.4 1.6 0 1.7 .6 1.6 1.4 1.7 2.3 1.6 3 1.7 3.5 1.6 3.5 1.7 2.8 1.6 1.6 1.7 .2 1.7 -1.1 1.6 -1.8 1.7 -2.2 1.6 -2.3 1.7 -2.2 1.6 -2.1 1.7 -1.9 1.6 -1.8 1.7 -1.6 1.6 -1.4 1.7 -1.3 1.6 -1.1 1.7 -.9 1.6 -.7 1.7 -.5 1.6 -.3 1.7 -.1" stroke="#dff1f8"/>
<path d="M539.5 135.1l1 .2 1.7 -.3 1.6 -.8 1.7 -1.1 1.6 -1.3 1.7 -1.3 1.6 -1.3 1.7 -1.2 1.6 -.9 1.7 -.7 1.6 -.2 1.7 .4 1.6 1 1.7 1.9 1.6 2.6 1.7 3 1.6 3 1.7 2.4 1.6 1.3 1.7 -.1 1.7 -1.1 1.6 -1.9 1.7 -2.3 1.6 -2.2 1.7 -2.3 1.6 -2.1 1.7 -1.9 1.6 -1.9 1.7 -1.6 1.6 -1.5 1.7 -1.4 1.6 -1.1 1.7 -.9 1.6 -.8 1.7 -.5 1.6 -.4 1.7 -.1" stroke="#e0f2f9"/>
<path d="M539.5 134.6l1 .2 1.7 -.3 1.6 -.9 1.7 -1.1 1.6 -1.4 1.7 -1.5 1.6 -1.4 1.7 -1.3 1.6 -1.1 1.7 -.8 1.6 -.5 1.7 .1 1.6 .8 1.7 1.4 1.6 2.1 1.7 2.6 1.6 2.5 1.7 2 1.6 .9 1.7 -.2 1.7 -1.3 1.6 -1.9 1.7 -2.3 1.6 -2.3 1.7 -2.3 1.6 -2.1 1.7 -2 1.6 -1.9 1.7 -1.7 1.6 -1.5 1.7 -1.4 1.6 -1.2 1.7 -1 1.6 -.8 1.7 -.6 1.6 -.3 1.7 -.1" stroke="#e2f3f9"/>
<path d="M539.5 134l1 .2 1.7 -.3 1.6 -.8 1.7 -1.3 1.6 -1.4 1.7 -1.6 1.6 -1.5 1.7 -1.5 1.6 -1.2 1.7 -1.1 1.6 -.6 1.7 -.2 1.6 .4 1.7 1 1.6 1.7 1.7 2.1 1.6 2 1.7 1.6 1.6 .6 1.7 -.5 1.7 -1.4 1.6 -2 1.7 -2.2 1.6 -2.4 1.7 -2.2 1.6 -2.2 1.7 -2.1 1.6 -1.9 1.7 -1.7 1.6 -1.7 1.7 -1.4 1.6 -1.2 1.7 -1.1 1.6 -.8 1.7 -.6 1.6 -.4 1.7 -.1" stroke="#e4f4f9"/>
<path d="M539.5 133.5l1 .2 1.7 -.4 1.6 -.8 1.7 -1.3 1.6 -1.6 1.7 -1.6 1.6 -1.7 1.7 -1.6 1.6 -1.4 1.7 -1.2 1.6 -.9 1.7 -.5 1.6 .1 1.7 .6 1.6 1.3 1.7 1.6 1.6 1.5 1.7 1.2 1.6 .3 1.7 -.7 1.7 -1.5 1.6 -2.1 1.7 -2.3 1.6 -2.3 1.7 -2.3 1.6 -2.2 1.7 -2.1 1.6 -2 1.7 -1.8 1.6 -1.7 1.7 -1.5 1.6 -1.3 1.7 -1.1 1.6 -.8 1.7 -.7 1.6 -.4 1.7 -.1" stroke="#e6f4fa"/>
<path d="M539.5 132.9l1 .2 1.7 -.3 1.6 -.9 1.7 -1.4 1.6 -1.6 1.7 -1.8 1.6 -1.7 1.7 -1.8 1.6 -1.6 1.7 -1.4 1.6 -1.1 1.7 -.8 1.6 -.2 1.7 .3 1.6 .7 1.7 1.1 1.6 1.1 1.7 .8 1.6 -.1 1.7 -.9 1.7 -1.6 1.6 -2.1 1.7 -2.3 1.6 -2.4 1.7 -2.3 1.6 -2.2 1.7 -2.2 1.6 -2 1.7 -1.9 1.6 -1.7 1.7 -1.5 1.6 -1.4 1.7 -1.1 1.6 -1 1.7 -.6 1.6 -.4 1.7 -.2" stroke="#e8f5fa"/>
<path d="M539.5 132.4l1 .2 1.7 -.4 1.6 -.9 1.7 -1.4 1.6 -1.7 1.7 -1.9 1.6 -1.9 1.7 -1.9 1.6 -1.7 1.7 -1.6 1.6 -1.4 1.7 -1 1.6 -.6 1.7 -.1 1.6 .3 1.7 .6 1.6 .7 1.7 .3 1.6 -.4 1.7 -1.1 1.7 -1.7 1.6 -2.2 1.7 -2.4 1.6 -2.3 1.7 -2.4 1.6 -2.3 1.7 -2.1 1.6 -2.1 1.7 -1.9 1.6 -1.8 1.7 -1.6 1.6 -1.4 1.7 -1.2 1.6 -1 1.7 -.7 1.6 -.4 1.7 -.1" stroke="#e9f6fb"/>
<path d="M539.5 131.8l1 .2 1.7 -.3 1.6 -1 1.7 -1.5 1.6 -1.8 1.7 -1.9 1.6 -2 1.7 -2.1 1.6 -1.9 1.7 -1.8 1.6 -1.6 1.7 -1.3 1.6 -.9 1.7 -.5 1.6 -.1 1.7 .1 1.6 .2 1.7 -.2 1.6 -.6 1.7 -1.3 1.7 -1.9 1.6 -2.2 1.7 -2.4 1.6 -2.4 1.7 -2.4 1.6 -2.3 1.7 -2.2 1.6 -2.1 1.7 -2 1.6 -1.8 1.7 -1.7 1.6 -1.4 1.7 -1.3 1.6 -1 1.7 -.7 1.6 -.5 1.7 -.1" stroke="#ebf7fb"/>
<path d="M539.5 131.3l1 .2 1.7 -.4 1.6 -1 1.7 -1.5 1.6 -1.9 1.7 -2.1 1.6 -2.1 1.7 -2.2 1.6 -2.1 1.7 -2 1.6 -1.8 1.7 -1.5 1.6 -1.3 1.7 -.9 1.6 -.6 1.7 -.3 1.6 -.3 1.7 -.6 1.6 -1 1.7 -1.5 1.7 -2 1.6 -2.2 1.7 -2.4 1.6 -2.5 1.7 -2.4 1.6 -2.3 1.7 -2.2 1.6 -2.2 1.7 -2 1.6 -1.9 1.7 -1.7 1.6 -1.6 1.7 -1.3 1.6 -1 1.7 -.8 1.6 -.4 1.7 -.2" stroke="#edf7fb"/>
<path d="M539.5 130.7l1 .2 1.7 -.3 1.6 -1.1 1.7 -1.6 1.6 -1.9 1.7 -2.2 1.6 -2.3 1.7 -2.3 1.6 -2.2 1.7 -2.2 1.6 -2.1 1.7 -1.8 1.6 -1.6 1.7 -1.3 1.6 -1 1.7 -.8 1.6 -.8 1.7 -1 1.6 -1.3 1.7 -1.7 1.7 -2.1 1.6 -2.4 1.7 -2.4 1.6 -2.4 1.7 -2.4 1.6 -2.4 1.7 -2.3 1.6 -2.2 1.7 -2.1 1.6 -1.9 1.7 -1.8 1.6 -1.6 1.7 -1.3 1.6 -1.1 1.7 -.8 1.6 -.5 1.7 -.2" stroke="#eff8fc"/>
<path d="M539.5 130.2l1 .2 1.7 -.4 1.6 -1.1 1.7 -1.6 1.6 -2 1.7 -2.2 1.6 -2.3 1.7 -2.3 1.6 -2.4 1.7 -2.3 1.6 -2.1 1.7 -2 1.6 -1.7 1.7 -1.4 1.6 -1.2 1.7 -1.1 1.6 -1 1.7 -1.1 1.6 -1.5 1.7 -1.8 1.7 -2.1 1.6 -2.4 1.7 -2.4 1.6 -2.5 1.7 -2.4 1.6 -2.4 1.7 -2.3 1.6 -2.2 1.7 -2.1 1.6 -2 1.7 -1.8 1.6 -1.6 1.7 -1.4 1.6 -1.1 1.7 -.8 1.6 -.5 1.7 -.2" stroke="#f1f9fc"/>
<path d="M539.5 129.6l1 .2 1.7 -.3 1.6 -1.1 1.7 -1.7 1.6 -2 1.7 -2.2 1.6 -2.4 1.7 -2.4 1.6 -2.4 1.7 -2.4 1.6 -2.2 1.7 -2.1 1.6 -1.9 1.7 -1.6 1.6 -1.4 1.7 -1.2 1.6 -1.2 1.7 -1.4 1.6 -1.5 1.7 -2 1.7 -2.2 1.6 -2.3 1.7 -2.5 1.6 -2.5 1.7 -2.4 1.6 -2.4 1.7 -2.3 1.6 -2.2 1.7 -2.2 1.6 -2 1.7 -1.8 1.6 -1.7 1.7 -1.4 1.6 -1.1 1.7 -.8 1.6 -.5 1.7 -.2" stroke="#f2fafc"/>
<path d="M539.5 129.1l1 .2 1.7 -.4 1.6 -1.1 1.7 -1.7 1.6 -2 1.7 -2.3 1.6 -2.4 1.7 -2.5 1.6 -2.5 1.7 -2.4 1.6 -2.4 1.7 -2.2 1.6 -2 1.7 -1.8 1.6 -1.6 1.7 -1.4 1.6 -1.4 1.7 -1.5 1.6 -1.7 1.7 -2 1.7 -2.3 1.6 -2.4 1.7 -2.4 1.6 -2.5 1.7 -2.5 1.6 -2.4 1.7 -2.3 1.6 -2.3 1.7 -2.1 1.6 -2.1 1.7 -1.8 1.6 -1.7 1.7 -1.4 1.6 -1.2 1.7 -.8 1.6 -.5 1.7 -.2" stroke="#f4fafd"/>
<path d="M539.5 128.5l1 .3 1.7 -.5 1.6 -1.2 1.7 -1.8 1.6 -2.3 1.7 -2.6 1.6 -2.7 1.7 -2.9 1.6 -3 1.7 -2.9 1.6 -3 1.7 -3 1.6 -2.9 1.7 -2.9 1.6 -2.8 1.7 -2.8 1.6 -2.7 1.7 -2.6 1.6 -2.4 1.7 -2.4 1.7 -2.3 1.6 -2.2 1.7 -2.1 1.6 -1.9 1.7 -1.8 1.6 -1.7 1.7 -1.6 1.6 -1.4 1.7 -1.2 1.6 -1.2 1.7 -1 1.6 -.8 1.7 -.7 1.6 -.5 1.7 -.4 1.6 -.2 1.7 -.1" stroke="#f6fbfd"/>
<path d="M539.5 243.7l1 -.2 1.7 .3 1.6 .7 1.7 1.2 1.6 1.7 1.7 2.1 1.6 2.5 1.7 3 1.6 3.4 1.7 3.7 1.6 4.1 1.7 4.4 1.6 4.7 1.7 4.9 1.6 5.1 1.7 5.3 1.6 5.4 1.7 5.5 1.6 5.5 1.7 5.5 1.7 5.5 1.6 5.4 1.7 5.3 1.6 5.1 1.7 4.9 1.6 4.7 1.7 4.4 1.6 4.1 1.7 3.7 1.6 3.4 1.7 3 1.6 2.5 1.7 2.1 1.6 1.7 1.7 1.2 1.6 .7 1.7 .3" stroke="#ff0000" stroke-width="2.9"/>
</g>
<use href="#hc" transform="matrix(-1 0 0 1 1081.0 0)"/>
<g id="qc" fill="#000">
<path d="M600 409.2 598.3 411.4 596.7 414.8 595 418.3 595 418.3 596.7 415.4 598.3 412.8 600 411.4Z"/>
<path d="M600 414.1 598.3 415.5 596.7 418.4 595 421.6 593.4 425 593.4 425 595 422.1 596.7 419.5 598.3 417.2 600 416.3Z"/>
<path d="M600 419 598.3 420 596.7 422.3 595 425.2 593.4 428.3 591.7 431.3 591.7 431.3 593.4 428.6 595 426 596.7 423.7 598.3 421.9 600 421.1Z"/>
<path d="M600 423.8 598.3 424.6 596.7 426.4 595 428.9 593.4 431.6 591.7 434.3 590.1 437 590.1 437 591.7 434.4 593.4 432 595 429.9 596.7 428 598.3 426.5 600 426Z"/>
<path d="M600 428.7 598.3 429.2 596.7 430.7 595 432.7 593.4 435 591.7 437.4 590.1 439.7 588.4 442 588.4 442 590.1 439.7 591.7 437.6 593.4 435.7 595 433.9 596.7 432.4 598.3 431.3 600 430.9Z"/>
<path d="M600 433.6 598.3 434 596.7 435.2 595 436.8 593.4 438.7 591.7 440.7 590.1 442.8 588.4 444.7 588.4 444.7 590.1 442.8 591.7 441.2 593.4 439.6 595 438.2 596.7 436.9 598.3 436 600 435.7Z"/>
<path d="M600 438.4 598.3 438.8 596.7 439.7 595 441.1 593.4 442.7 591.7 444.4 590.1 446.1 588.4 447.7 588.4 447.7 590.1 446.3 591.7 445 593.4 443.8 595 442.6 596.7 441.6 598.3 440.8 600 440.6Z"/>
<path d="M600 443.3 598.3 443.6 596.7 444.3 595 445.5 593.4 446.8 591.7 448.3 590.1 449.8 588.4 451.1 588.4 451.1 590.1 450 591.7 449.1 593.4 448.1 595 447.1 596.7 446.3 598.3 445.7 600 445.4Z"/>
<path d="M600 448.1 598.3 448.4 596.7 449.1 595 450 593.4 451.2 591.7 452.6 590.1 453.9 588.4 455 588.4 455 590.1 454 591.7 453.4 593.4 452.6 595 451.8 596.7 451.1 598.3 450.5 600 450.3Z"/>
<path d="M600 453 598.3 453.2 596.7 453.8 595 454.8 593.4 455.9 591.7 457.2 590.1 458.4 590.1 458.4 591.7 457.8 593.4 457.2 595 456.6 596.7 455.9 598.3 455.4 600 455.2Z"/>
<path d="M600 457.9 598.3 458.1 596.7 458.7 595 459.6 593.4 460.8 591.7 462.2 590.1 463.1 590.1 463.1 591.7 462.4 593.4 462 595 461.4 596.7 460.7 598.3 460.2 600 460Z"/>
<path d="M600 462.7 598.3 462.9 596.7 463.6 595 464.7 593.4 466.2 591.7 467.4 591.7 467.4 593.4 466.7 595 466.2 596.7 465.6 598.3 465.1 600 464.9Z"/>
<path d="M600 467.6 598.3 467.8 596.7 468.7 595 470.2 593.4 471.6 593.4 471.6 595 470.8 596.7 470.5 598.3 470 600 469.8Z"/>
<path d="M600 472.5 598.3 472.8 596.7 474.3 595 475.7 595 475.7 596.7 474.8 598.3 474.8 600 474.6Z"/>
<path d="M565.3 472.7 563.6 474.8 562 476.9 560.3 478.9 558.7 480.8 557 482.6 555.4 484.2 553.7 485.8 552.1 487.1 550.4 488.3 548.8 489.4 547.1 490.3 545.5 490.9 543.8 491.4 542.2 491.7 540.5 491.8 540 491.8 540 494.9 540.5 494.9 542.2 494.8 543.8 494.5 545.5 493.9 547.1 493.2 548.8 492.2 550.4 491 552.1 489.6 553.7 488 555.4 486.3 557 484.3 558.7 482.2 560.3 480 562 477.6 563.6 475 565.3 472.7Z"/>
<path d="M563.6 480.2 562 482.3 560.3 484.3 558.7 486.2 557 488 555.4 489.7 553.7 491.3 552.1 492.7 550.4 493.9 548.8 495 547.1 495.9 545.5 496.7 543.8 497.2 542.2 497.5 540.5 497.6 540 497.6 540 500.7 540.5 500.7 542.2 500.6 543.8 500.2 545.5 499.6 547.1 498.8 548.8 497.8 550.4 496.6 552.1 495.1 553.7 493.5 555.4 491.6 557 489.6 558.7 487.5 560.3 485.1 562 482.7 563.6 480.2Z"/>
<path d="M563.6 485.4 562 487.7 560.3 489.7 558.7 491.6 557 493.4 555.4 495.2 553.7 496.7 552.1 498.2 550.4 499.5 548.8 500.7 547.1 501.6 545.5 502.4 543.8 502.9 542.2 503.3 540.5 503.4 540 503.4 540 506.5 540.5 506.5 542.2 506.3 543.8 506 545.5 505.4 547.1 504.5 548.8 503.4 550.4 502.1 552.1 500.6 553.7 498.9 555.4 497 557 494.9 558.7 492.7 560.3 490.3 562 487.8 563.6 485.4Z"/>
<path d="M562 493 560.3 495.2 558.7 497.1 557 498.9 555.4 500.6 553.7 502.3 552.1 503.8 550.4 505.1 548.8 506.3 547.1 507.3 545.5 508.1 543.8 508.7 542.2 509 540.5 509.2 540 509.2 540 512.2 540.5 512.2 542.2 512.1 543.8 511.7 545.5 511.1 547.1 510.2 548.8 509 550.4 507.6 552.1 506.1 553.7 504.3 555.4 502.3 557 500.2 558.7 497.9 560.3 495.4 562 493Z"/>
<path d="M560.3 500.6 558.7 502.5 557 504.4 555.4 506.1 553.7 507.8 552.1 509.3 550.4 510.7 548.8 511.9 547.1 513 545.5 513.8 543.8 514.4 542.2 514.8 540.5 514.9 540 514.9 540 518 540.5 518 542.2 517.9 543.8 517.5 545.5 516.8 547.1 515.8 548.8 514.6 550.4 513.2 552.1 511.5 553.7 509.7 555.4 507.6 557 505.4 558.7 503 560.3 500.6Z"/>
<path d="M560.3 505.8 558.7 508.1 557 509.9 555.4 511.6 553.7 513.3 552.1 514.9 550.4 516.3 548.8 517.6 547.1 518.7 545.5 519.5 543.8 520.2 542.2 520.6 540.5 520.7 540 520.7 540 523.8 540.5 523.8 542.2 523.6 543.8 523.2 545.5 522.5 547.1 521.5 548.8 520.2 550.4 518.7 552.1 517 553.7 515 555.4 512.9 557 510.6 558.7 508.1 560.3 505.8Z"/>
<path d="M558.7 513.4 557 515.4 555.4 517.2 553.7 518.9 552.1 520.5 550.4 521.9 548.8 523.2 547.1 524.3 545.5 525.3 543.8 525.9 542.2 526.3 540.5 526.5 540 526.5 540 529.6 540.5 529.6 542.2 529.4 543.8 529 545.5 528.2 547.1 527.2 548.8 525.8 550.4 524.2 552.1 522.4 553.7 520.4 555.4 518.2 557 515.8 558.7 513.4Z"/>
<path d="M557 521 555.4 522.8 553.7 524.5 552.1 526.1 550.4 527.5 548.8 528.9 547.1 530 545.5 531 543.8 531.7 542.2 532.1 540.5 532.3 540 532.3 540 535.3 540.5 535.3 542.2 535.2 543.8 534.7 545.5 533.9 547.1 532.8 548.8 531.4 550.4 529.8 552.1 527.8 553.7 525.7 555.4 523.4 557 521Z"/>
<path d="M557 526.3 555.4 528.4 553.7 530.1 552.1 531.7 550.4 533.2 548.8 534.6 547.1 535.7 545.5 536.7 543.8 537.4 542.2 537.9 540.5 538 540 538 540 541.1 540.5 541.1 542.2 540.9 543.8 540.4 545.5 539.6 547.1 538.5 548.8 537 550.4 535.2 552.1 533.2 553.7 531 555.4 528.5 557 526.3Z"/>
<path d="M540 202.6 540.5 202.6 542.2 201.2 543.8 198.6 545.5 195.7 545.5 195.7 543.8 199.2 542.2 202.6 540.5 204.8 540 204.8Z"/>
<path d="M540 197.7 540.5 197.7 542.2 196.8 543.8 194.5 545.5 191.9 547.1 189 547.1 189 545.5 192.4 543.8 195.6 542.2 198.5 540.5 199.9 540 199.9Z"/>
<path d="M540 192.9 540.5 192.9 542.2 192.1 543.8 190.3 545.5 188 547.1 185.4 548.8 182.7 548.8 182.7 547.1 185.7 545.5 188.8 543.8 191.7 542.2 194 540.5 195 540 195Z"/>
<path d="M540 188 540.5 188 542.2 187.5 543.8 186 545.5 184.1 547.1 182 548.8 179.6 550.4 177 550.4 177 548.8 179.7 547.1 182.4 545.5 185.1 543.8 187.6 542.2 189.4 540.5 190.2 540 190.2Z"/>
<path d="M540 183.1 540.5 183.1 542.2 182.7 543.8 181.6 545.5 180.1 547.1 178.3 548.8 176.4 550.4 174.3 552.1 172 552.1 172 550.4 174.3 548.8 176.6 547.1 179 545.5 181.3 543.8 183.3 542.2 184.8 540.5 185.3 540 185.3Z"/>
<path d="M540 178.3 540.5 178.3 542.2 178 543.8 177.1 545.5 175.8 547.1 174.4 548.8 172.8 550.4 171.2 552.1 169.3 552.1 169.3 550.4 171.2 548.8 173.3 547.1 175.3 545.5 177.2 543.8 178.8 542.2 180 540.5 180.4 540 180.4Z"/>
<path d="M540 173.4 540.5 173.4 542.2 173.2 543.8 172.4 545.5 171.4 547.1 170.2 548.8 169 550.4 167.7 552.1 166.3 552.1 166.3 550.4 167.9 548.8 169.6 547.1 171.3 545.5 172.9 543.8 174.3 542.2 175.2 540.5 175.6 540 175.6Z"/>
<path d="M540 168.6 540.5 168.6 542.2 168.3 543.8 167.7 545.5 166.9 547.1 165.9 548.8 164.9 550.4 164 552.1 162.9 552.1 162.9 550.4 164.2 548.8 165.7 547.1 167.2 545.5 168.5 543.8 169.7 542.2 170.4 540.5 170.7 540 170.7Z"/>
<path d="M540 163.7 540.5 163.7 542.2 163.5 543.8 162.9 545.5 162.2 547.1 161.4 548.8 160.6 550.4 160 552.1 159 552.1 159 550.4 160.1 548.8 161.4 547.1 162.8 545.5 164 543.8 164.9 542.2 165.6 540.5 165.9 540 165.9Z"/>
<path d="M540 158.8 540.5 158.8 542.2 158.6 543.8 158.1 545.5 157.4 547.1 156.8 548.8 156.2 550.4 155.6 550.4 155.6 548.8 156.8 547.1 158.1 545.5 159.2 543.8 160.2 542.2 160.8 540.5 161 540 161Z"/>
<path d="M540 154 540.5 154 542.2 153.8 543.8 153.3 545.5 152.6 547.1 152 548.8 151.6 550.4 150.9 550.4 150.9 548.8 151.8 547.1 153.2 545.5 154.4 543.8 155.3 542.2 155.9 540.5 156.1 540 156.1Z"/>
<path d="M540 149.1 540.5 149.1 542.2 148.9 543.8 148.4 545.5 147.8 547.1 147.3 548.8 146.6 548.8 146.6 547.1 147.8 545.5 149.3 543.8 150.4 542.2 151.1 540.5 151.3 540 151.3Z"/>
<path d="M540 144.2 540.5 144.2 542.2 144 543.8 143.5 545.5 143.2 547.1 142.4 547.1 142.4 545.5 143.8 543.8 145.3 542.2 146.2 540.5 146.4 540 146.4Z"/>
<path d="M540 139.4 540.5 139.4 542.2 139.2 543.8 139.2 545.5 138.3 545.5 138.3 543.8 139.7 542.2 141.2 540.5 141.5 540 141.5Z"/>
<path d="M575.2 141.3 576.9 139 578.5 136.4 580.2 134 581.8 131.8 583.5 129.7 585.1 127.7 586.8 126 588.4 124.4 590.1 123 591.7 121.8 593.4 120.8 595 120.1 596.7 119.5 598.3 119.2 600 119.1 600 122.2 598.3 122.3 596.7 122.6 595 123.1 593.4 123.7 591.7 124.6 590.1 125.7 588.4 126.9 586.8 128.2 585.1 129.8 583.5 131.4 581.8 133.2 580.2 135.1 578.5 137.1 576.9 139.2 575.2 141.3Z"/>
<path d="M576.9 133.8 578.5 131.3 580.2 128.9 581.8 126.5 583.5 124.4 585.1 122.4 586.8 120.5 588.4 118.9 590.1 117.4 591.7 116.2 593.4 115.2 595 114.4 596.7 113.8 598.3 113.4 600 113.3 600 116.4 598.3 116.5 596.7 116.8 595 117.3 593.4 118.1 591.7 119 590.1 120.1 588.4 121.3 586.8 122.7 585.1 124.3 583.5 126 581.8 127.8 580.2 129.7 578.5 131.7 576.9 133.8Z"/>
<path d="M576.9 128.6 578.5 126.2 580.2 123.7 581.8 121.3 583.5 119.1 585.1 117 586.8 115.1 588.4 113.4 590.1 111.9 591.7 110.6 593.4 109.5 595 108.6 596.7 108 598.3 107.7 600 107.5 600 110.6 598.3 110.7 596.7 111.1 595 111.6 593.4 112.4 591.7 113.3 590.1 114.5 588.4 115.8 586.8 117.3 585.1 118.8 583.5 120.6 581.8 122.4 580.2 124.3 578.5 126.3 576.9 128.6Z"/>
<path d="M578.5 121 580.2 118.6 581.8 116.1 583.5 113.8 585.1 111.7 586.8 109.7 588.4 107.9 590.1 106.4 591.7 105 593.4 103.8 595 102.9 596.7 102.3 598.3 101.9 600 101.8 600 104.8 598.3 105 596.7 105.3 595 105.9 593.4 106.7 591.7 107.7 590.1 108.9 588.4 110.2 586.8 111.7 585.1 113.4 583.5 115.1 581.8 116.9 580.2 118.8 578.5 121Z"/>
<path d="M580.2 113.4 581.8 111 583.5 108.6 585.1 106.4 586.8 104.3 588.4 102.5 590.1 100.8 591.7 99.4 593.4 98.2 595 97.2 596.7 96.5 598.3 96.1 600 96 600 99.1 598.3 99.2 596.7 99.6 595 100.2 593.4 101 591.7 102.1 590.1 103.3 588.4 104.7 586.8 106.2 585.1 107.9 583.5 109.6 581.8 111.5 580.2 113.4Z"/>
<path d="M580.2 108.2 581.8 105.9 583.5 103.4 585.1 101.1 586.8 99 588.4 97 590.1 95.3 591.7 93.8 593.4 92.5 595 91.5 596.7 90.8 598.3 90.4 600 90.2 600 93.3 598.3 93.4 596.7 93.8 595 94.5 593.4 95.3 591.7 96.4 590.1 97.7 588.4 99.1 586.8 100.7 585.1 102.4 583.5 104.1 581.8 105.9 580.2 108.2Z"/>
<path d="M581.8 100.6 583.5 98.2 585.1 95.8 586.8 93.6 588.4 91.6 590.1 89.8 591.7 88.2 593.4 86.8 595 85.8 596.7 85 598.3 84.6 600 84.4 600 87.5 598.3 87.7 596.7 88.1 595 88.7 593.4 89.7 591.7 90.8 590.1 92.1 588.4 93.5 586.8 95.1 585.1 96.8 583.5 98.6 581.8 100.6Z"/>
<path d="M583.5 93 585.1 90.6 586.8 88.3 588.4 86.2 590.1 84.2 591.7 82.6 593.4 81.2 595 80.1 596.7 79.3 598.3 78.8 600 78.7 600 81.7 598.3 81.9 596.7 82.3 595 83 593.4 84 591.7 85.1 590.1 86.5 588.4 87.9 586.8 89.5 585.1 91.2 583.5 93Z"/>
<path d="M583.5 87.7 585.1 85.5 586.8 83 588.4 80.8 590.1 78.8 591.7 77 593.4 75.5 595 74.4 596.7 73.6 598.3 73.1 600 72.9 600 76 598.3 76.1 596.7 76.6 595 77.3 593.4 78.3 591.7 79.4 590.1 80.8 588.4 82.3 586.8 83.9 585.1 85.6 583.5 87.7Z"/>
</g>
<use href="#qc" transform="matrix(-1 0 0 1 1081.0 0)"/>
</g>
<text x="467.1" y="102.5" class="tk" text-anchor="end">6</text>
<text x="467.1" y="173.8" class="tk" text-anchor="end">4</text>
<text x="467.1" y="245.1" class="tk" text-anchor="end">2</text>
<text x="467.1" y="316.4" class="tk" text-anchor="end">0</text>
<text x="467.1" y="387.7" class="tk" text-anchor="end">-2</text>
<text x="467.1" y="459.0" class="tk" text-anchor="end">-4</text>
<text x="467.1" y="530.3" class="tk" text-anchor="end">-6</text>
<text x="414.4" y="25.3" class="lab">(c)</text>
<text transform="translate(439.6,306) rotate(-90)" class="el" text-anchor="middle">E(eV)</text>
<text x="482.0" y="601.5" class="xt" text-anchor="middle">−π/a</text>
<text x="540.5" y="600" class="xt" text-anchor="middle">0</text>
<text x="600.0" y="601.5" class="xt" text-anchor="middle">π/a</text>
<rect x="685.0" y="39.0" width="122.5" height="536.5" fill="#000"/>
<clipPath id="cld"><rect x="685.0" y="39.0" width="122.5" height="536.5"/></clipPath>
<linearGradient id="gid" gradientUnits="userSpaceOnUse" x1="0" y1="156.3" x2="0" y2="457.7"><stop offset="0" stop-color="#6cc5ea"/><stop offset="1" stop-color="#4fb5e3"/></linearGradient>
<linearGradient id="god" gradientUnits="userSpaceOnUse" x1="0" y1="156.3" x2="0" y2="457.7"><stop offset="0" stop-color="#c0e6f3"/><stop offset="1" stop-color="#93d0ea"/></linearGradient>
<linearGradient id="gtd" gradientUnits="userSpaceOnUse" x1="0" y1="43.9" x2="0" y2="156.3"><stop offset="0" stop-color="#f6fbfd"/><stop offset="1" stop-color="#c6e7f4"/></linearGradient>
<linearGradient id="gbd" gradientUnits="userSpaceOnUse" x1="0" y1="457.7" x2="0" y2="570.1"><stop offset="0" stop-color="#3bb2e5"/><stop offset="1" stop-color="#1c9fde"/></linearGradient>
<g clip-path="url(#cld)">
<g id="hd" fill="none" stroke-width="2.6" stroke-linejoin="round">
<path d="M807.5 457.7 805.8 458.7 804.2 460.3 802.5 461.9 800.9 463.5 799.2 465.1 797.6 466.7 795.9 468.2 794.3 469.8 792.6 471.3 791 472.8 789.3 474.3 787.7 475.7 786 477.1 784.4 478.5 782.7 479.8 781.1 481.1 779.4 482.3 777.8 483.5 776.1 484.6 774.4 485.7 772.8 486.7 771.1 487.7 769.5 488.6 767.8 489.4 766.2 490.2 764.5 490.9 762.9 491.6 761.2 492.2 759.6 492.7 757.9 493.2 756.3 493.6 754.6 493.9 753 494.1 751.3 494.3 749.7 494.4 748 494.4 747.5 494.4 747.5 570.1 748 570.1 749.7 570 751.3 569.7 753 569.3 754.6 568.7 756.3 568 757.9 567.1 759.6 566 761.2 564.8 762.9 563.4 764.5 561.8 766.2 560.2 767.8 558.3 769.5 556.4 771.1 554.2 772.8 552 774.4 549.6 776.1 547.1 777.8 544.5 779.4 541.8 781.1 539 782.7 536.1 784.4 533.1 786 530 787.7 526.8 789.3 523.6 791 520.4 792.6 517.2 794.3 513.9 795.9 510.7 797.6 507.6 799.2 504.6 800.9 501.8 802.5 499.3 804.2 497.3 805.8 496 807.5 495.5Z" fill="url(#gbd)" stroke="none"/>
<path d="M747 494.4l1 0 1.7 0 1.6 -.1 1.7 -.2 1.6 -.2 1.7 -.3 1.6 -.4 1.7 -.5 1.6 -.5 1.7 -.6 1.6 -.7 1.7 -.7 1.6 -.8 1.7 -.8 1.6 -.9 1.7 -1 1.6 -1 1.7 -1.1 1.7 -1.1 1.6 -1.2 1.7 -1.2 1.6 -1.3 1.7 -1.3 1.6 -1.4 1.7 -1.4 1.6 -1.4 1.7 -1.5 1.6 -1.5 1.7 -1.5 1.6 -1.6 1.7 -1.5 1.6 -1.6 1.7 -1.6 1.6 -1.6 1.7 -1.6 1.6 -1.6 1.7 -1" stroke="#3eb4e6"/>
<path d="M747 494.9l1 0 1.7 -.1 1.6 0 1.7 -.1 1.6 -.1 1.7 -.1 1.6 -.2 1.7 -.3 1.6 -.3 1.7 -.3 1.6 -.5 1.7 -.5 1.6 -.5 1.7 -.7 1.6 -.7 1.7 -.8 1.6 -.9 1.7 -1 1.7 -1.1 1.6 -1.1 1.7 -1.2 1.6 -1.3 1.7 -1.3 1.6 -1.5 1.7 -1.4 1.6 -1.5 1.7 -1.6 1.6 -1.6 1.7 -1.6 1.6 -1.7 1.7 -1.6 1.6 -1.7 1.7 -1.7 1.6 -1.6 1.7 -1.7 1.6 -1.5 1.7 -1" stroke="#3db3e6"/>
<path d="M747 495.3l1 0 1.7 0 1.6 0 1.7 0 1.6 0 1.7 -.1 1.6 0 1.7 -.1 1.6 -.2 1.7 -.2 1.6 -.2 1.7 -.3 1.6 -.5 1.7 -.5 1.6 -.6 1.7 -.7 1.6 -.8 1.7 -.9 1.7 -1 1.6 -1.1 1.7 -1.2 1.6 -1.3 1.7 -1.4 1.6 -1.4 1.7 -1.5 1.6 -1.5 1.7 -1.6 1.6 -1.6 1.7 -1.6 1.6 -1.7 1.7 -1.7 1.6 -1.7 1.7 -1.7 1.6 -1.7 1.7 -1.6 1.6 -1.5 1.7 -.9" stroke="#3cb3e5"/>
<path d="M747 495.7l1 0 1.7 0 1.6 0 1.7 .1 1.6 0 1.7 0 1.6 0 1.7 0 1.6 -.1 1.7 -.1 1.6 -.2 1.7 -.2 1.6 -.4 1.7 -.4 1.6 -.6 1.7 -.6 1.6 -.8 1.7 -.9 1.7 -1 1.6 -1.1 1.7 -1.1 1.6 -1.3 1.7 -1.3 1.6 -1.4 1.7 -1.4 1.6 -1.5 1.7 -1.5 1.6 -1.5 1.7 -1.6 1.6 -1.6 1.7 -1.6 1.6 -1.6 1.7 -1.6 1.6 -1.7 1.7 -1.5 1.6 -1.5 1.7 -.9" stroke="#3bb2e5"/>
<path d="M747 496.1l1 0 1.7 0 1.6 0 1.7 .1 1.6 0 1.7 0 1.6 0 1.7 0 1.6 -.1 1.7 -.1 1.6 -.2 1.7 -.3 1.6 -.3 1.7 -.5 1.6 -.5 1.7 -.7 1.6 -.8 1.7 -.8 1.7 -1 1.6 -1.1 1.7 -1.1 1.6 -1.2 1.7 -1.3 1.6 -1.2 1.7 -1.3 1.6 -1.3 1.7 -1.4 1.6 -1.3 1.7 -1.4 1.6 -1.4 1.7 -1.5 1.6 -1.5 1.7 -1.5 1.6 -1.5 1.7 -1.5 1.6 -1.3 1.7 -.9" stroke="#39b1e5"/>
<path d="M747 496.5l1 0 1.7 0 1.6 .1 1.7 0 1.6 0 1.7 0 1.6 0 1.7 0 1.6 -.1 1.7 -.1 1.6 -.2 1.7 -.3 1.6 -.3 1.7 -.5 1.6 -.5 1.7 -.7 1.6 -.8 1.7 -.9 1.7 -1 1.6 -1 1.7 -1.1 1.6 -1.1 1.7 -1.1 1.6 -1.2 1.7 -1.1 1.6 -1.1 1.7 -1.1 1.6 -1.2 1.7 -1.3 1.6 -1.2 1.7 -1.4 1.6 -1.3 1.7 -1.5 1.6 -1.4 1.7 -1.4 1.6 -1.3 1.7 -.8" stroke="#38b0e5"/>
<path d="M747 497l1 0 1.7 0 1.6 0 1.7 0 1.6 0 1.7 0 1.6 0 1.7 0 1.6 -.1 1.7 -.1 1.6 -.2 1.7 -.3 1.6 -.3 1.7 -.5 1.6 -.6 1.7 -.7 1.6 -.7 1.7 -.9 1.7 -1 1.6 -1 1.7 -1 1.6 -1 1.7 -1 1.6 -.9 1.7 -.9 1.6 -1 1.7 -.9 1.6 -1.1 1.7 -1 1.6 -1.2 1.7 -1.2 1.6 -1.3 1.7 -1.4 1.6 -1.4 1.7 -1.4 1.6 -1.2 1.7 -.7" stroke="#37b0e4"/>
<path d="M747 497.4l1 0 1.7 0 1.6 0 1.7 0 1.6 0 1.7 .1 1.6 -.1 1.7 0 1.6 -.1 1.7 -.1 1.6 -.2 1.7 -.3 1.6 -.4 1.7 -.4 1.6 -.6 1.7 -.7 1.6 -.8 1.7 -.8 1.7 -1 1.6 -.9 1.7 -.9 1.6 -.8 1.7 -.8 1.6 -.8 1.7 -.7 1.6 -.7 1.7 -.8 1.6 -.9 1.7 -.9 1.6 -1.1 1.7 -1.2 1.6 -1.2 1.7 -1.4 1.6 -1.4 1.7 -1.3 1.6 -1.2 1.7 -.7" stroke="#36afe4"/>
<path d="M747 497.8l1 0 1.7 0 1.6 0 1.7 0 1.6 .1 1.7 0 1.6 0 1.7 -.1 1.6 -.1 1.7 -.1 1.6 -.2 1.7 -.3 1.6 -.4 1.7 -.5 1.6 -.5 1.7 -.7 1.6 -.8 1.7 -.9 1.7 -.8 1.6 -.9 1.7 -.7 1.6 -.6 1.7 -.6 1.6 -.4 1.7 -.5 1.6 -.6 1.7 -.6 1.6 -.8 1.7 -.9 1.6 -1 1.7 -1.1 1.6 -1.2 1.7 -1.4 1.6 -1.4 1.7 -1.3 1.6 -1.1 1.7 -.7" stroke="#35aee4"/>
<path d="M747 498.2l1 0 1.7 0 1.6 0 1.7 .1 1.6 0 1.7 0 1.6 0 1.7 -.1 1.6 -.1 1.7 -.1 1.6 -.2 1.7 -.3 1.6 -.4 1.7 -.5 1.6 -.6 1.7 -.7 1.6 -.7 1.7 -.8 1.7 -.8 1.6 -.7 1.7 -.5 1.6 -.4 1.7 -.2 1.6 -.2 1.7 -.3 1.6 -.3 1.7 -.5 1.6 -.7 1.7 -.8 1.6 -1 1.7 -1.2 1.6 -1.3 1.7 -1.3 1.6 -1.4 1.7 -1.4 1.6 -1.1 1.7 -.6" stroke="#34aee3"/>
<path d="M747 498.6l1 0 1.7 0 1.6 .1 1.7 0 1.6 0 1.7 0 1.6 0 1.7 -.1 1.6 -.1 1.7 -.1 1.6 -.2 1.7 -.3 1.6 -.4 1.7 -.5 1.6 -.6 1.7 -.7 1.6 -.7 1.7 -.8 1.7 -.6 1.6 -.5 1.7 -.2 1.6 0 1.7 .1 1.6 .1 1.7 0 1.6 -.2 1.7 -.4 1.6 -.7 1.7 -.8 1.6 -1 1.7 -1.2 1.6 -1.4 1.7 -1.4 1.6 -1.5 1.7 -1.3 1.6 -1.2 1.7 -.5" stroke="#32ade3"/>
<path d="M747 499.1l1 0 1.7 0 1.6 0 1.7 0 1.6 0 1.7 0 1.6 0 1.7 -.1 1.6 -.1 1.7 -.1 1.6 -.2 1.7 -.3 1.6 -.4 1.7 -.5 1.6 -.6 1.7 -.7 1.6 -.7 1.7 -.6 1.7 -.5 1.6 -.1 1.7 .1 1.6 .5 1.7 .5 1.6 .4 1.7 .2 1.6 -.1 1.7 -.3 1.6 -.7 1.7 -.9 1.6 -1.1 1.7 -1.4 1.6 -1.4 1.7 -1.6 1.6 -1.5 1.7 -1.4 1.6 -1.1 1.7 -.6" stroke="#31ace3"/>
<path d="M747 499.5l1 0 1.7 0 1.6 0 1.7 0 1.6 0 1.7 0 1.6 0 1.7 -.1 1.6 -.1 1.7 -.1 1.6 -.2 1.7 -.3 1.6 -.4 1.7 -.5 1.6 -.6 1.7 -.7 1.6 -.6 1.7 -.5 1.7 -.1 1.6 .2 1.7 .7 1.6 1 1.7 .9 1.6 .8 1.7 .4 1.6 0 1.7 -.4 1.6 -.8 1.7 -1 1.6 -1.3 1.7 -1.5 1.6 -1.6 1.7 -1.7 1.6 -1.7 1.7 -1.4 1.6 -1.2 1.7 -.5" stroke="#30abe3"/>
<path d="M747 499.9l1 0 1.7 0 1.6 0 1.7 0 1.6 0 1.7 0 1.6 0 1.7 0 1.6 -.1 1.7 -.2 1.6 -.2 1.7 -.4 1.6 -.4 1.7 -.5 1.6 -.5 1.7 -.6 1.6 -.5 1.7 -.3 1.7 .3 1.6 .9 1.7 1.4 1.6 1.5 1.7 1.5 1.6 1 1.7 .5 1.6 0 1.7 -.5 1.6 -.9 1.7 -1.3 1.6 -1.6 1.7 -1.7 1.6 -1.9 1.7 -1.8 1.6 -1.8 1.7 -1.6 1.6 -1.1 1.7 -.5" stroke="#2fabe2"/>
<path d="M747 500.3l1 0 1.7 0 1.6 0 1.7 0 1.6 .1 1.7 -.1 1.6 0 1.7 0 1.6 -.1 1.7 -.2 1.6 -.2 1.7 -.4 1.6 -.4 1.7 -.5 1.6 -.5 1.7 -.6 1.6 -.3 1.7 .2 1.7 .9 1.6 1.6 1.7 2.2 1.6 2.3 1.7 1.9 1.6 1.3 1.7 .6 1.6 -.2 1.7 -.7 1.6 -1.3 1.7 -1.6 1.6 -1.9 1.7 -2 1.6 -2.1 1.7 -2.1 1.6 -1.9 1.7 -1.7 1.6 -1.2 1.7 -.4" stroke="#2eaae2"/>
<path d="M747 500.7l1 0 1.7 0 1.6 .1 1.7 0 1.6 0 1.7 0 1.6 -.1 1.7 0 1.6 -.1 1.7 -.2 1.6 -.3 1.7 -.3 1.6 -.4 1.7 -.5 1.6 -.6 1.7 -.5 1.6 -.3 1.7 .2 1.7 .8 1.6 1.7 1.7 2.1 1.6 2.3 1.7 1.9 1.6 1.4 1.7 .5 1.6 -.1 1.7 -.8 1.6 -1.3 1.7 -1.6 1.6 -1.9 1.7 -2 1.6 -2.1 1.7 -2.1 1.6 -2 1.7 -1.6 1.6 -1.2 1.7 -.5" stroke="#2da9e2"/>
<path d="M747 501.2l1 0 1.7 0 1.6 0 1.7 0 1.6 0 1.7 0 1.6 -.1 1.7 0 1.6 -.1 1.7 -.2 1.6 -.3 1.7 -.3 1.6 -.4 1.7 -.5 1.6 -.6 1.7 -.5 1.6 -.4 1.7 .2 1.7 .9 1.6 1.6 1.7 2.2 1.6 2.2 1.7 2 1.6 1.3 1.7 .6 1.6 -.2 1.7 -.8 1.6 -1.3 1.7 -1.6 1.6 -1.9 1.7 -2 1.6 -2.1 1.7 -2.1 1.6 -2 1.7 -1.7 1.6 -1.1 1.7 -.5" stroke="#2ba9e1"/>
<path d="M747 501.6l1 0 1.7 0 1.6 0 1.7 0 1.6 0 1.7 0 1.6 0 1.7 -.1 1.6 -.1 1.7 -.2 1.6 -.3 1.7 -.3 1.6 -.4 1.7 -.5 1.6 -.6 1.7 -.6 1.6 -.3 1.7 .2 1.7 .8 1.6 1.7 1.7 2.1 1.6 2.3 1.7 1.9 1.6 1.3 1.7 .6 1.6 -.2 1.7 -.8 1.6 -1.3 1.7 -1.6 1.6 -1.9 1.7 -2 1.6 -2.2 1.7 -2.1 1.6 -1.9 1.7 -1.7 1.6 -1.2 1.7 -.4" stroke="#2aa8e1"/>
<path d="M747 502l1 0 1.7 0 1.6 -.2 1.7 -.2 1.6 -.2 1.7 -.4 1.6 -.4 1.7 -.6 1.6 -.6 1.7 -.6 1.6 -.8 1.7 -.8 1.6 -.9 1.7 -.9 1.6 -1 1.7 -.8 1.6 -.5 1.7 .1 1.7 1 1.6 2.1 1.7 2.7 1.6 2.9 1.7 2.6 1.6 1.9 1.7 1 1.6 .3 1.7 -.5 1.6 -1 1.7 -1.4 1.6 -1.7 1.7 -1.9 1.6 -2.1 1.7 -2 1.6 -1.9 1.7 -1.6 1.6 -1.1 1.7 -.5" stroke="#29a7e1"/>
<path d="M747 508.3l1 0 1.7 0 1.6 -.2 1.7 -.2 1.6 -.3 1.7 -.4 1.6 -.5 1.7 -.6 1.6 -.6 1.7 -.8 1.6 -.8 1.7 -.9 1.6 -.9 1.7 -1.1 1.6 -1 1.7 -1 1.6 -.7 1.7 -.1 1.7 .7 1.6 1.6 1.7 2.2 1.6 2.3 1.7 2.1 1.6 1.4 1.7 .7 1.6 -.1 1.7 -.7 1.6 -1.2 1.7 -1.6 1.6 -1.9 1.7 -2 1.6 -2.1 1.7 -2.1 1.6 -1.9 1.7 -1.7 1.6 -1.1 1.7 -.5" stroke="#28a7e0"/>
<path d="M747 514.6l1 0 1.7 0 1.6 -.2 1.7 -.2 1.6 -.4 1.7 -.4 1.6 -.5 1.7 -.7 1.6 -.7 1.7 -.8 1.6 -.9 1.7 -.9 1.6 -1.1 1.7 -1.1 1.6 -1.2 1.7 -1.1 1.6 -.9 1.7 -.3 1.7 .3 1.6 1.2 1.7 1.6 1.6 1.9 1.7 1.5 1.6 1 1.7 .2 1.6 -.4 1.7 -1 1.6 -1.4 1.7 -1.7 1.6 -2 1.7 -2.2 1.6 -2.2 1.7 -2.1 1.6 -2 1.7 -1.7 1.6 -1.2 1.7 -.4" stroke="#27a6e0"/>
<path d="M747 520.9l1 0 1.7 0 1.6 -.2 1.7 -.3 1.6 -.3 1.7 -.5 1.6 -.6 1.7 -.6 1.6 -.8 1.7 -.9 1.6 -1 1.7 -1 1.6 -1.2 1.7 -1.2 1.6 -1.3 1.7 -1.2 1.6 -1 1.7 -.6 1.7 0 1.6 .7 1.7 1.1 1.6 1.3 1.7 1 1.6 .5 1.7 -.1 1.6 -.7 1.7 -1.3 1.6 -1.6 1.7 -1.9 1.6 -2.2 1.7 -2.2 1.6 -2.3 1.7 -2.2 1.6 -2.1 1.7 -1.7 1.6 -1.2 1.7 -.5" stroke="#26a5e0"/>
<path d="M747 527.2l1 0 1.7 0 1.6 -.2 1.7 -.3 1.6 -.4 1.7 -.5 1.6 -.6 1.7 -.7 1.6 -.9 1.7 -.9 1.6 -1 1.7 -1.2 1.6 -1.2 1.7 -1.3 1.6 -1.4 1.7 -1.4 1.6 -1.2 1.7 -.8 1.7 -.4 1.6 .3 1.7 .6 1.6 .7 1.7 .5 1.6 0 1.7 -.5 1.6 -1 1.7 -1.5 1.6 -1.9 1.7 -2.1 1.6 -2.2 1.7 -2.4 1.6 -2.4 1.7 -2.3 1.6 -2.1 1.7 -1.7 1.6 -1.2 1.7 -.5" stroke="#24a4e0"/>
<path d="M747 533.5l1 0 1.7 -.1 1.6 -.1 1.7 -.3 1.6 -.5 1.7 -.5 1.6 -.7 1.7 -.7 1.6 -.9 1.7 -1 1.6 -1.1 1.7 -1.3 1.6 -1.3 1.7 -1.4 1.6 -1.5 1.7 -1.5 1.6 -1.4 1.7 -1.1 1.7 -.6 1.6 -.2 1.7 .1 1.6 .2 1.7 -.1 1.6 -.4 1.7 -.9 1.6 -1.4 1.7 -1.7 1.6 -2.1 1.7 -2.3 1.6 -2.4 1.7 -2.4 1.6 -2.5 1.7 -2.4 1.6 -2.2 1.7 -1.7 1.6 -1.3 1.7 -.4" stroke="#23a4df"/>
<path d="M747 539.8l1 0 1.7 -.1 1.6 -.1 1.7 -.4 1.6 -.4 1.7 -.6 1.6 -.7 1.7 -.8 1.6 -1 1.7 -1 1.6 -1.2 1.7 -1.3 1.6 -1.4 1.7 -1.6 1.6 -1.5 1.7 -1.7 1.6 -1.5 1.7 -1.4 1.7 -1 1.6 -.6 1.7 -.4 1.6 -.4 1.7 -.6 1.6 -.9 1.7 -1.3 1.6 -1.7 1.7 -2 1.6 -2.2 1.7 -2.5 1.6 -2.5 1.7 -2.6 1.6 -2.6 1.7 -2.4 1.6 -2.2 1.7 -1.9 1.6 -1.2 1.7 -.5" stroke="#22a3df"/>
<path d="M747 546.1l1 0 1.7 -.1 1.6 -.2 1.7 -.3 1.6 -.5 1.7 -.6 1.6 -.7 1.7 -.9 1.6 -1 1.7 -1.2 1.6 -1.2 1.7 -1.4 1.6 -1.5 1.7 -1.6 1.6 -1.7 1.7 -1.8 1.6 -1.7 1.7 -1.6 1.7 -1.3 1.6 -1.1 1.7 -.9 1.6 -1 1.7 -1.1 1.6 -1.3 1.7 -1.7 1.6 -2 1.7 -2.3 1.6 -2.5 1.7 -2.6 1.6 -2.7 1.7 -2.7 1.6 -2.6 1.7 -2.5 1.6 -2.3 1.7 -1.9 1.6 -1.2 1.7 -.5" stroke="#21a2df"/>
<path d="M747 552.4l1 0 1.7 -.1 1.6 -.2 1.7 -.3 1.6 -.5 1.7 -.7 1.6 -.8 1.7 -.9 1.6 -1.1 1.7 -1.2 1.6 -1.3 1.7 -1.5 1.6 -1.6 1.7 -1.7 1.6 -1.8 1.7 -1.9 1.6 -1.9 1.7 -1.8 1.7 -1.7 1.6 -1.5 1.7 -1.5 1.6 -1.4 1.7 -1.6 1.6 -1.9 1.7 -2.1 1.6 -2.3 1.7 -2.5 1.6 -2.7 1.7 -2.8 1.6 -2.8 1.7 -2.8 1.6 -2.8 1.7 -2.6 1.6 -2.3 1.7 -1.9 1.6 -1.3 1.7 -.4" stroke="#20a2de"/>
<path d="M747 558.7l1 0 1.7 -.1 1.6 -.2 1.7 -.4 1.6 -.5 1.7 -.7 1.6 -.8 1.7 -1 1.6 -1.1 1.7 -1.3 1.6 -1.4 1.7 -1.5 1.6 -1.7 1.7 -1.8 1.6 -1.9 1.7 -2 1.6 -2.1 1.7 -2.1 1.7 -2 1.6 -2 1.7 -2 1.6 -2 1.7 -2.1 1.6 -2.3 1.7 -2.5 1.6 -2.7 1.7 -2.8 1.6 -2.8 1.7 -3 1.6 -3 1.7 -2.9 1.6 -2.8 1.7 -2.7 1.6 -2.4 1.7 -1.9 1.6 -1.3 1.7 -.5" stroke="#1fa1de"/>
<path d="M747 561.5l1 0 1.7 0 1.6 -.3 1.7 -.4 1.6 -.5 1.7 -.7 1.6 -.8 1.7 -1 1.6 -1.2 1.7 -1.3 1.6 -1.4 1.7 -1.6 1.6 -1.7 1.7 -1.9 1.6 -1.9 1.7 -2.1 1.6 -2.2 1.7 -2.1 1.7 -2.2 1.6 -2.2 1.7 -2.2 1.6 -2.2 1.7 -2.4 1.6 -2.5 1.7 -2.6 1.6 -2.8 1.7 -2.9 1.6 -3 1.7 -3 1.6 -3 1.7 -3 1.6 -2.9 1.7 -2.7 1.6 -2.4 1.7 -1.9 1.6 -1.3 1.7 -.5" stroke="#1da0de"/>
<path d="M747 564.3l1 .1 1.7 -.1 1.6 -.2 1.7 -.4 1.6 -.6 1.7 -.7 1.6 -.9 1.7 -1 1.6 -1.2 1.7 -1.3 1.6 -1.5 1.7 -1.6 1.6 -1.7 1.7 -1.9 1.6 -2 1.7 -2.2 1.6 -2.2 1.7 -2.3 1.7 -2.3 1.6 -2.4 1.7 -2.4 1.6 -2.4 1.7 -2.6 1.6 -2.7 1.7 -2.8 1.6 -2.9 1.7 -3 1.6 -3.1 1.7 -3.1 1.6 -3.1 1.7 -3 1.6 -2.9 1.7 -2.8 1.6 -2.4 1.7 -2 1.6 -1.3 1.7 -.4" stroke="#1c9fde"/>
<path d="M747 567.2l1 0 1.7 -.1 1.6 -.2 1.7 -.4 1.6 -.6 1.7 -.7 1.6 -.9 1.7 -1.1 1.6 -1.2 1.7 -1.3 1.6 -1.5 1.7 -1.7 1.6 -1.8 1.7 -1.9 1.6 -2.1 1.7 -2.1 1.6 -2.3 1.7 -2.4 1.7 -2.5 1.6 -2.5 1.7 -2.6 1.6 -2.7 1.7 -2.8 1.6 -2.9 1.7 -3 1.6 -3 1.7 -3.2 1.6 -3.1 1.7 -3.2 1.6 -3.1 1.7 -3.1 1.6 -3 1.7 -2.8 1.6 -2.4 1.7 -2 1.6 -1.3 1.7 -.5" stroke="#1b9fdd"/>
<path d="M747 570l1 .1 1.7 -.1 1.6 -.3 1.7 -.4 1.6 -.6 1.7 -.7 1.6 -.9 1.7 -1.1 1.6 -1.2 1.7 -1.4 1.6 -1.6 1.7 -1.6 1.6 -1.9 1.7 -1.9 1.6 -2.2 1.7 -2.2 1.6 -2.4 1.7 -2.5 1.7 -2.6 1.6 -2.7 1.7 -2.8 1.6 -2.9 1.7 -3 1.6 -3.1 1.7 -3.2 1.6 -3.2 1.7 -3.2 1.6 -3.2 1.7 -3.3 1.6 -3.2 1.7 -3.1 1.6 -3 1.7 -2.8 1.6 -2.5 1.7 -2 1.6 -1.3 1.7 -.5" stroke="#1a9edd"/>
<path d="M747 355l1 -.2 1.7 .3 1.6 .7 1.7 1.3 1.6 1.7 1.7 2.1 1.6 2.5 1.7 2.9 1.6 3.2 1.7 3.7 1.6 3.9 1.7 4.2 1.6 4.6 1.7 4.7 1.6 5 1.7 5.1 1.6 5.3 1.7 5.3 1.7 5.5 1.6 5.4 1.7 5.4 1.6 5.3 1.7 5.2 1.6 5.1 1.7 4.9 1.6 4.6 1.7 4.3 1.6 .7 1.7 0 1.6 0 1.7 0 1.6 0 1.7 0 1.6 0" stroke="#6ec8ec"/>
<path d="M747 358.6l1 -.1 1.7 .2 1.6 .7 1.7 1.1 1.6 1.5 1.7 1.9 1.6 2.3 1.7 2.7 1.6 3 1.7 3.3 1.6 3.6 1.7 3.9 1.6 4.1 1.7 4.3 1.6 4.5 1.7 4.7 1.6 4.8 1.7 4.8 1.7 5 1.6 4.9 1.7 4.9 1.6 4.8 1.7 4.8 1.6 4.6 1.7 4.5 1.6 4.2 1.7 4 1.6 3.8 1.7 2.3 1.6 0 1.7 0 1.6 0 1.7 0 1.6 0" stroke="#6cc7ec"/>
<path d="M747 363.2l1 -.1 1.7 .2 1.6 .6 1.7 .9 1.6 1.4 1.7 1.6 1.6 2 1.7 2.4 1.6 2.6 1.7 3 1.6 3.2 1.7 3.4 1.6 3.7 1.7 3.9 1.6 4 1.7 4.2 1.6 4.3 1.7 4.4 1.7 4.4 1.6 4.5 1.7 4.6 1.6 4.5 1.7 4.5 1.6 4.4 1.7 4.4 1.6 4.2" stroke="#6ac6ec"/>
<path d="M747 368.6l1 -.1 1.7 .1 1.6 .5 1.7 .8 1.6 1.1 1.7 1.5 1.6 1.7 1.7 2 1.6 2.3 1.7 2.5 1.6 2.8 1.7 2.9 1.6 3.2 1.7 3.4 1.6 3.5 1.7 3.7 1.6 3.8 1.7 3.9 1.7 4.1 1.6 4.2 1.7 4.3 1.6 4.5 1.7 4.5" stroke="#69c6eb"/>
<path d="M747 374.5l1 -.1 1.7 .1 1.6 .4 1.7 .7 1.6 .9 1.7 1.2 1.6 1.4 1.7 1.7 1.6 1.9 1.7 2.1 1.6 2.3 1.7 2.5 1.6 2.7 1.7 2.8 1.6 3 1.7 3.2 1.6 3.3 1.7 3.4 1.7 3.8 1.6 3.9 1.7 4.3 1.6 4.4 1.7 4.6" stroke="#67c5eb"/>
<path d="M747 380.8l1 -.1 1.7 .2 1.6 .3 1.7 .5 1.6 .8 1.7 1 1.6 1.1 1.7 1.4 1.6 1.5 1.7 1.7 1.6 1.9 1.7 2 1.6 2.2 1.7 2.3 1.6 2.5 1.7 2.6 1.6 2.7 1.7 3 1.7 3.3 1.6 3.7 1.7 4.2 1.6 4.4" stroke="#65c4eb"/>
<path d="M747 387.5l1 0 1.7 .1 1.6 .2 1.7 .5 1.6 .6 1.7 .7 1.6 .9 1.7 1.1 1.6 1.2 1.7 1.4 1.6 1.4 1.7 1.6 1.6 1.7 1.7 1.9 1.6 1.9 1.7 2.1 1.6 2.2 1.7 2.4 1.7 2.8 1.6 3.4 1.7 3.9 1.6 4.4" stroke="#63c3eb"/>
<path d="M747 394.5l1 0 1.7 .1 1.6 .2 1.7 .3 1.6 .4 1.7 .6 1.6 .7 1.7 .8 1.6 .9 1.7 1.1 1.6 1.1 1.7 1.2 1.6 1.3 1.7 1.4 1.6 1.5 1.7 1.6 1.6 1.7 1.7 1.8 1.7 2.2 1.6 2.8 1.7 3.5 1.6 4.3 1.7 4.5" stroke="#62c2ea"/>
<path d="M747 401.7l1 0 1.7 0 1.6 .1 1.7 .3 1.6 .3 1.7 .4 1.6 .6 1.7 .5 1.6 .7 1.7 .8 1.6 .8 1.7 .9 1.6 1 1.7 1 1.6 1.1 1.7 1.1 1.6 1.3 1.7 1.3 1.7 1.6 1.6 2.1 1.7 2.8 1.6 3.9 1.7 4.3" stroke="#60c1ea"/>
<path d="M747 408.9l1 0 1.7 0 1.6 .1 1.7 .2 1.6 .2 1.7 .3 1.6 .4 1.7 .4 1.6 .5 1.7 .5 1.6 .6 1.7 .6 1.6 .7 1.7 .7 1.6 .8 1.7 .8 1.6 .8 1.7 1 1.7 1.1 1.6 1.4 1.7 1.9 1.6 3.1 1.7 4 1.6 4.4" stroke="#5ec1ea"/>
<path d="M747 416.1l1 0 1.7 0 1.6 0 1.7 .2 1.6 .1 1.7 .2 1.6 .3 1.7 .2 1.6 .3 1.7 .4 1.6 .4 1.7 .4 1.6 .5 1.7 .4 1.6 .6 1.7 .5 1.6 .6 1.7 .6 1.7 .7 1.6 .9 1.7 1.2 1.6 2 1.7 3.1 1.6 4 1.7 4.4" stroke="#5cc0ea"/>
<path d="M747 423.1l1 0 1.7 0 1.6 .1 1.7 0 1.6 .1 1.7 .1 1.6 .2 1.7 .2 1.6 .2 1.7 .2 1.6 .2 1.7 .3 1.6 .3 1.7 .3 1.6 .3 1.7 .4 1.6 .3 1.7 .4 1.7 .5 1.6 .5 1.7 .7 1.6 1.1 1.7 1.9 1.6 3.1 1.7 4 1.6 4.2" stroke="#5bbfe9"/>
<path d="M747 429.9l1 0 1.7 0 1.6 0 1.7 .1 1.6 0 1.7 .1 1.6 .1 1.7 .1 1.6 .1 1.7 .1 1.6 .2 1.7 .1 1.6 .2 1.7 .2 1.6 .2 1.7 .2 1.6 .2 1.7 .3 1.7 .2 1.6 .3 1.7 .4 1.6 .6 1.7 .9 1.6 1.8 1.7 3 1.6 3.8 1.7 3.9" stroke="#59bee9"/>
<path d="M747 436.4l1 0 1.7 0 1.6 0 1.7 0 1.6 .1 1.7 0 1.6 0 1.7 .1 1.6 .1 1.7 0 1.6 .1 1.7 .1 1.6 .1 1.7 .1 1.6 .1 1.7 .1 1.6 .1 1.7 .2 1.7 .1 1.6 .2 1.7 .2 1.6 .3 1.7 .5 1.6 .8 1.7 1.6 1.6 2.8 1.7 3.4 1.6 3.6" stroke="#57bde9"/>
<path d="M747 442.5l1 0 1.7 0 1.6 0 1.7 0 1.6 0 1.7 0 1.6 0 1.7 .1 1.6 0 1.7 0 1.6 .1 1.7 0 1.6 .1 1.7 0 1.6 .1 1.7 0 1.6 .1 1.7 .1 1.7 .1 1.6 .1 1.7 .1 1.6 .2 1.7 .2 1.6 .4 1.7 .7 1.6 1.4 1.7 2.4 1.6 3 1.7 3" stroke="#55bce9"/>
<path d="M747 448.1l1 0 1.7 0 1.6 0 1.7 0 1.6 0 1.7 0 1.6 0 1.7 .1 1.6 0 1.7 0 1.6 0 1.7 0 1.6 0 1.7 .1 1.6 0 1.7 0 1.6 .1 1.7 0 1.7 .1 1.6 0 1.7 .1 1.6 .1 1.7 .2 1.6 .2 1.7 .3 1.6 .6 1.7 1.2 1.6 1.9 1.7 2.4 1.6 2.2" stroke="#54bce8"/>
<path d="M747 453.2l1 0 1.7 0 1.6 0 1.7 0 1.6 0 1.7 .1 1.6 0 1.7 0 1.6 0 1.7 0 1.6 0 1.7 0 1.6 0 1.7 0 1.6 0 1.7 .1 1.6 0 1.7 0 1.7 0 1.6 .1 1.7 0 1.6 .1 1.7 .1 1.6 .1 1.7 .2 1.6 .4 1.7 .5 1.6 .9 1.7 1.4 1.6 .5 1.7 0 1.6 0" stroke="#52bbe8"/>
<path d="M747 457.7l1 0 1.7 0 1.6 0 1.7 0 1.6 0 1.7 0 1.6 0 1.7 0 1.6 0 1.7 0 1.6 0 1.7 0 1.6 0 1.7 0 1.6 0 1.7 0 1.6 0 1.7 0 1.7 0 1.6 0 1.7 0 1.6 0 1.7 0 1.6 0 1.7 0 1.6 0 1.7 0 1.6 0 1.7 0 1.6 0 1.7 0 1.6 0 1.7 0 1.6 0" stroke="#50bae8"/>
<path d="M747 457.7l1 0 1.7 0 1.6 0 1.7 0 1.6 0 1.7 0 1.6 0 1.7 0 1.6 0 1.7 0 1.6 0 1.7 0 1.6 0 1.7 0 1.6 0 1.7 0 1.6 0 1.7 0 1.7 0 1.6 0 1.7 0 1.6 0 1.7 0 1.6 0 1.7 0 1.6 0 1.7 0 1.6 0 1.7 0 1.6 0 1.7 0 1.6 0 1.7 0 1.6 0 1.7 0 1.6 0 1.7 0" stroke="#50bae8"/>
<path d="M747 156.3l1 0 1.7 0 1.6 0 1.7 0 1.6 0 1.7 0 1.6 0 1.7 0 1.6 0 1.7 0 1.6 0 1.7 0 1.6 0 1.7 0 1.6 0 1.7 0 1.6 0 1.7 0 1.7 0 1.6 0 1.7 0 1.6 0 1.7 0 1.6 0 1.7 0 1.6 0 1.7 0 1.6 0 1.7 0 1.6 0 1.7 0 1.6 0 1.7 0 1.6 0 1.7 0 1.6 0 1.7 0" stroke="#b9e2f1"/>
<path d="M747 156.3l1 0 1.7 0 1.6 0 1.7 0 1.6 1 1.7 .9 1.6 .8 1.7 .6 1.6 .5 1.7 .3 1.6 .4 1.7 .2 1.6 .3 1.7 .2 1.6 .1 1.7 .2 1.6 .1 1.7 .1 1.7 .1 1.6 .1 1.7 .1 1.6 0 1.7 .1 1.6 0 1.7 .1 1.6 0 1.7 .1 1.6 0 1.7 .1 1.6 0 1.7 0 1.6 .1 1.7 0 1.6 0 1.7 .1 1.6 0 1.7 0" stroke="#b8e1f1"/>
<path d="M749.7 156.3l1.6 1 1.7 1.9 1.6 1.6 1.7 1.5 1.6 1.2 1.7 1 1.6 .8 1.7 .7 1.6 .5 1.7 .5 1.6 .3 1.7 .3 1.6 .2 1.7 .2 1.6 .2 1.7 .2 1.7 .1 1.6 .1 1.7 .1 1.6 .1 1.7 .1 1.6 .1 1.7 0 1.6 .1 1.7 0 1.6 .1 1.7 0 1.6 .1 1.7 0 1.6 .1 1.7 0 1.6 0 1.7 .1 1.6 0 1.7 0" stroke="#b6e1f1"/>
<path d="M754.6 163.1l1.7 1.9 1.6 1.8 1.7 1.5 1.6 1.4 1.7 1.1 1.6 .9 1.7 .7 1.6 .6 1.7 .5 1.6 .4 1.7 .3 1.6 .2 1.7 .2 1.7 .2 1.6 .2 1.7 .1 1.6 .1 1.7 .2 1.6 0 1.7 .1 1.6 .1 1.7 .1 1.6 0 1.7 .1 1.6 0 1.7 .1 1.6 0 1.7 .1 1.6 0 1.7 .1 1.6 0 1.7 0" stroke="#b5e0f0"/>
<path d="M757.9 168.8l1.7 2 1.6 1.9 1.7 1.7 1.6 1.4 1.7 1.3 1.6 .9 1.7 .8 1.6 .7 1.7 .5 1.6 .4 1.7 .3 1.7 .3 1.6 .3 1.7 .2 1.6 .1 1.7 .2 1.6 .1 1.7 .1 1.6 .1 1.7 .1 1.6 .1 1.7 0 1.6 .1 1.7 .1 1.6 0 1.7 .1 1.6 0 1.7 0 1.6 .1 1.7 0" stroke="#b3e0f0"/>
<path d="M761.2 174.6l1.7 2.1 1.6 2 1.7 1.8 1.6 1.5 1.7 1.3 1.6 1.1 1.7 .9 1.6 .7 1.7 .5 1.7 .5 1.6 .3 1.7 .3 1.6 .3 1.7 .2 1.6 .2 1.7 .1 1.6 .1 1.7 .2 1.6 .1 1.7 .1 1.6 0 1.7 .1 1.6 .1 1.7 0 1.6 .1 1.7 0 1.6 .1 1.7 0" stroke="#b2dff0"/>
<path d="M766.2 182.6l1.6 2.1 1.7 1.8 1.6 1.7 1.7 1.4 1.6 1.2 1.7 .9 1.7 .8 1.6 .6 1.7 .5 1.6 .4 1.7 .3 1.6 .2 1.7 .2 1.6 .2 1.7 .2 1.6 .1 1.7 .1 1.6 .1 1.7 .1 1.6 .1 1.7 .1 1.6 .1 1.7 0 1.6 .1 1.7 .1" stroke="#b0def0"/>
<path d="M769.5 188.6l1.6 2.1 1.7 2 1.6 1.7 1.7 1.5 1.7 1.3 1.6 1 1.7 .8 1.6 .7 1.7 .5 1.6 .4 1.7 .3 1.6 .3 1.7 .2 1.6 .2 1.7 .2 1.6 .1 1.7 .1 1.6 .1 1.7 .1 1.6 .1 1.7 .1 1.6 .1 1.7 .1" stroke="#afdef0"/>
<path d="M772.8 194.6l1.6 2.2 1.7 2 1.7 1.9 1.6 1.6 1.7 1.3 1.6 1.1 1.7 .9 1.6 .7 1.7 .5 1.6 .5 1.7 .3 1.6 .3 1.7 .2 1.6 .2 1.7 .2 1.6 .1 1.7 .2 1.6 .1 1.7 .1 1.6 .1 1.7 .1" stroke="#adddf0"/>
<path d="M776.1 200.7l1.7 2.3 1.6 2.1 1.7 1.9 1.6 1.7 1.7 1.4 1.6 1.2 1.7 .9 1.6 .7 1.7 .6 1.6 .5 1.7 .3 1.6 .3 1.7 .3 1.6 .2 1.7 .2 1.6 .1 1.7 .1 1.6 .2 1.7 .1" stroke="#acddef"/>
<path d="M781.1 209.2l1.6 2.2 1.7 2.1 1.6 1.7 1.7 1.5 1.6 1.3 1.7 .9 1.6 .8 1.7 .6 1.6 .4 1.7 .4 1.6 .3 1.7 .3 1.6 .2 1.7 .2 1.6 .1 1.7 .2" stroke="#aadcef"/>
<path d="M784.4 215.6l1.6 2.3 1.7 2.1 1.6 1.9 1.7 1.5 1.6 1.3 1.7 1 1.6 .8 1.7 .6 1.6 .5 1.7 .4 1.6 .3 1.7 .3 1.6 .2 1.7 .2" stroke="#a9dcef"/>
<path d="M787.7 222.2l1.6 2.3 1.7 2.2 1.6 2 1.7 1.6 1.6 1.3 1.7 1.1 1.6 .8 1.7 .6 1.6 .5 1.7 .4 1.6 .3 1.7 .3" stroke="#a7dbef"/>
<path d="M791 228.9l1.6 2.5 1.7 2.3 1.6 2 1.7 1.7 1.6 1.3 1.7 1.1 1.6 .8 1.7 .7 1.6 .5 1.7 .4" stroke="#a6daef"/>
<path d="M792.6 233.4l1.7 2.7 1.6 2.5 1.7 2.4 1.6 2.1 1.7 1.7 1.6 1.4 1.7 1.1 1.6 .8 1.7 .7" stroke="#a4daef"/>
<path d="M795.9 241l1.7 2.8 1.6 2.6 1.7 2.5 1.6 2.1 1.7 1.8 1.6 1.4 1.7 1.2" stroke="#a3d9ee"/>
<path d="M799.2 249.5l1.7 2.9 1.6 2.8 1.7 2.6 1.6 2.2 1.7 2.1" stroke="#a1d9ee"/>
<path d="M800.9 256.2l1.6 3.2 1.7 3.1 1.6 3.1 1.7 3.1" stroke="#a0d8ee"/>
<path d="M747.5 348.5 748 348.5 749.7 348.8 751.3 349.4 753 350.4 754.6 351.7 756.3 353.2 757.9 355 759.6 357 761.2 359.3 762.9 361.8 764.5 364.4 766.2 367.3 767.8 370.4 769.5 373.6 771.1 377 772.8 380.6 774.4 384.3 776.1 388.1 777.8 392 779.4 396 781.1 400.1 782.7 404.3 784.4 408.5 786 412.7 787.7 417 789.3 421.3 791 425.5 792.6 429.6 794.3 433.7 795.9 437.7 797.6 441.5 799.2 445.2 800.9 448.6 802.5 451.7 804.2 454.4 805.8 456.5 807.5 457.7 807.5 457.7 805.8 457.7 804.2 457.7 802.5 457.7 800.9 457.7 799.2 457.7 797.6 457.7 795.9 456.1 794.3 453.3 792.6 449.9 791 445.9 789.3 441.5 787.7 436.9 786 432.1 784.4 427.2 782.7 422.1 781.1 417 779.4 411.9 777.8 406.8 776.1 401.8 774.4 396.8 772.8 392 771.1 387.3 769.5 382.8 767.8 378.4 766.2 374.3 764.5 370.4 762.9 366.7 761.2 363.3 759.6 360.2 757.9 357.4 756.3 355 754.6 352.9 753 351.1 751.3 349.8 749.7 348.9 748 348.5 747.5 348.5Z" fill="url(#gid)" stroke="none"/>
<path d="M747.5 156.3 748 156.3 749.7 159 751.3 161.6 753 164.3 754.6 167 756.3 169.7 757.9 172.4 759.6 175.2 761.2 177.9 762.9 180.7 764.5 183.5 766.2 186.2 767.8 189.1 769.5 191.9 771.1 194.7 772.8 197.6 774.4 200.5 776.1 203.4 777.8 206.3 779.4 209.3 781.1 212.3 782.7 215.3 784.4 218.3 786 221.4 787.7 224.5 789.3 227.6 791 230.8 792.6 234.1 794.3 237.4 795.9 240.7 797.6 244.2 799.2 247.7 800.9 251.3 802.5 255.1 804.2 259 805.8 263.3 807.5 268.7 807.5 268.7 805.8 268 804.2 267 802.5 265.6 800.9 264 799.2 262.2 797.6 260.3 795.9 258.2 794.3 256 792.6 253.6 791 251.1 789.3 248.5 787.7 245.8 786 243 784.4 240.1 782.7 237.1 781.1 234 779.4 230.8 777.8 227.5 776.1 224.2 774.4 220.7 772.8 217.2 771.1 213.6 769.5 210 767.8 206.2 766.2 202.4 764.5 198.6 762.9 194.6 761.2 190.6 759.6 186.5 757.9 182.4 756.3 178.2 754.6 173.9 753 169.6 751.3 165.2 749.7 160.8 748 156.3 747.5 156.3Z" fill="url(#god)" stroke="none"/>
<path d="M747.5 118.5 748 118.5 749.7 118 751.3 116.7 753 114.7 754.6 112.2 756.3 109.4 757.9 106.4 759.6 103.3 761.2 100.1 762.9 96.8 764.5 93.6 766.2 90.4 767.8 87.2 769.5 84 771.1 80.9 772.8 77.9 774.4 75 776.1 72.2 777.8 69.5 779.4 66.9 781.1 64.4 782.7 62 784.4 59.8 786 57.6 787.7 55.7 789.3 53.8 791 52.2 792.6 50.6 794.3 49.2 795.9 48 797.6 46.9 799.2 46 800.9 45.3 802.5 44.7 804.2 44.3 805.8 44 807.5 43.9 807.5 119.6 805.8 119.6 804.2 119.7 802.5 119.9 800.9 120.1 799.2 120.4 797.6 120.8 795.9 121.3 794.3 121.8 792.6 122.4 791 123.1 789.3 123.8 787.7 124.6 786 125.4 784.4 126.3 782.7 127.3 781.1 128.3 779.4 129.4 777.8 130.5 776.1 131.7 774.4 132.9 772.8 134.2 771.1 135.5 769.5 136.9 767.8 138.3 766.2 139.7 764.5 141.2 762.9 142.7 761.2 144.2 759.6 145.8 757.9 147.3 756.3 148.9 754.6 150.5 753 152.1 751.3 153.7 749.7 155.3 748 156.3 747.5 156.3Z" fill="url(#gtd)" stroke="none"/>
<path d="M747 155.7l1 .6 1.7 -1 1.6 -1.6 1.7 -1.6 1.6 -1.6 1.7 -1.6 1.6 -1.6 1.7 -1.5 1.6 -1.6 1.7 -1.5 1.6 -1.5 1.7 -1.5 1.6 -1.4 1.7 -1.4 1.6 -1.4 1.7 -1.3 1.6 -1.3 1.7 -1.2 1.7 -1.2 1.6 -1.1 1.7 -1.1 1.6 -1 1.7 -1 1.6 -.9 1.7 -.8 1.6 -.8 1.7 -.7 1.6 -.7 1.7 -.6 1.6 -.5 1.7 -.5 1.6 -.4 1.7 -.3 1.6 -.2 1.7 -.2 1.6 -.1 1.7 0" stroke="#bee4f2"/>
<path d="M747 153.3l1 .6 1.7 -1 1.6 -1.5 1.7 -1.7 1.6 -1.6 1.7 -1.7 1.6 -1.7 1.7 -1.6 1.6 -1.7 1.7 -1.6 1.6 -1.6 1.7 -1.6 1.6 -1.5 1.7 -1.4 1.6 -1.5 1.7 -1.3 1.6 -1.3 1.7 -1.2 1.7 -1.1 1.6 -1.1 1.7 -1 1.6 -.9 1.7 -.8 1.6 -.7 1.7 -.7 1.6 -.5 1.7 -.5 1.6 -.5 1.7 -.3 1.6 -.3 1.7 -.3 1.6 -.2 1.7 -.1 1.6 -.1 1.7 -.1 1.6 0 1.7 -.1" stroke="#c0e5f2"/>
<path d="M747 151l1 .5 1.7 -.9 1.6 -1.5 1.7 -1.6 1.6 -1.7 1.7 -1.7 1.6 -1.7 1.7 -1.7 1.6 -1.7 1.7 -1.6 1.6 -1.6 1.7 -1.6 1.6 -1.5 1.7 -1.5 1.6 -1.4 1.7 -1.4 1.6 -1.3 1.7 -1.2 1.7 -1.1 1.6 -1 1.7 -.9 1.6 -.8 1.7 -.7 1.6 -.6 1.7 -.5 1.6 -.5 1.7 -.3 1.6 -.2 1.7 -.2 1.6 -.2 1.7 -.1 1.6 0 1.7 -.1 1.6 0 1.7 0 1.6 0 1.7 0" stroke="#c2e5f3"/>
<path d="M747 148.6l1 .6 1.7 -.9 1.6 -1.5 1.7 -1.5 1.6 -1.7 1.7 -1.6 1.6 -1.6 1.7 -1.6 1.6 -1.6 1.7 -1.6 1.6 -1.5 1.7 -1.5 1.6 -1.5 1.7 -1.4 1.6 -1.4 1.7 -1.3 1.6 -1.3 1.7 -1.1 1.7 -1.1 1.6 -1 1.7 -.9 1.6 -.8 1.7 -.6 1.6 -.6 1.7 -.4 1.6 -.4 1.7 -.2 1.6 -.2 1.7 -.1 1.6 -.1 1.7 0 1.6 0 1.7 0 1.6 0 1.7 .1 1.6 0 1.7 0" stroke="#c3e6f3"/>
<path d="M747 146.3l1 .5 1.7 -.9 1.6 -1.3 1.7 -1.5 1.6 -1.5 1.7 -1.5 1.6 -1.5 1.7 -1.5 1.6 -1.4 1.7 -1.4 1.6 -1.3 1.7 -1.4 1.6 -1.3 1.7 -1.3 1.6 -1.2 1.7 -1.3 1.6 -1.2 1.7 -1.1 1.7 -1.1 1.6 -1 1.7 -.8 1.6 -.8 1.7 -.7 1.6 -.5 1.7 -.5 1.6 -.3 1.7 -.3 1.6 -.2 1.7 -.1 1.6 -.1 1.7 0 1.6 0 1.7 0 1.6 0 1.7 .1 1.6 0 1.7 0" stroke="#c5e7f3"/>
<path d="M747 143.9l1 .5 1.7 -.8 1.6 -1.3 1.7 -1.4 1.6 -1.4 1.7 -1.5 1.6 -1.3 1.7 -1.4 1.6 -1.2 1.7 -1.3 1.6 -1.2 1.7 -1.1 1.6 -1.1 1.7 -1.1 1.6 -1.2 1.7 -1.1 1.6 -1.1 1.7 -1.1 1.7 -1 1.6 -1 1.7 -.9 1.6 -.8 1.7 -.7 1.6 -.5 1.7 -.5 1.6 -.3 1.7 -.3 1.6 -.2 1.7 -.1 1.6 -.1 1.7 0 1.6 0 1.7 0 1.6 0 1.7 0 1.6 .1 1.7 0" stroke="#c7e8f4"/>
<path d="M747 141.6l1 .4 1.7 -.7 1.6 -1.2 1.7 -1.4 1.6 -1.4 1.7 -1.4 1.6 -1.3 1.7 -1.2 1.6 -1.2 1.7 -1 1.6 -1.1 1.7 -.9 1.6 -1 1.7 -.9 1.6 -.9 1.7 -1 1.6 -1 1.7 -1 1.7 -1 1.6 -1 1.7 -.9 1.6 -.7 1.7 -.7 1.6 -.6 1.7 -.5 1.6 -.3 1.7 -.3 1.6 -.2 1.7 -.1 1.6 -.1 1.7 0 1.6 0 1.7 0 1.6 0 1.7 0 1.6 0 1.7 0" stroke="#c9e8f4"/>
<path d="M747 139.2l1 .5 1.7 -.7 1.6 -1.2 1.7 -1.3 1.6 -1.4 1.7 -1.4 1.6 -1.2 1.7 -1.2 1.6 -1.1 1.7 -.9 1.6 -.9 1.7 -.8 1.6 -.7 1.7 -.7 1.6 -.8 1.7 -.8 1.6 -.8 1.7 -.9 1.7 -.9 1.6 -1 1.7 -.8 1.6 -.8 1.7 -.7 1.6 -.6 1.7 -.4 1.6 -.4 1.7 -.3 1.6 -.2 1.7 -.1 1.6 -.1 1.7 0 1.6 -.1 1.7 .1 1.6 0 1.7 0 1.6 0 1.7 0" stroke="#cbe9f4"/>
<path d="M747 136.9l1 .4 1.7 -.7 1.6 -1.1 1.7 -1.3 1.6 -1.4 1.7 -1.4 1.6 -1.2 1.7 -1.1 1.6 -1 1.7 -.9 1.6 -.8 1.7 -.6 1.6 -.6 1.7 -.5 1.6 -.4 1.7 -.6 1.6 -.6 1.7 -.7 1.7 -.9 1.6 -.8 1.7 -.9 1.6 -.8 1.7 -.7 1.6 -.5 1.7 -.5 1.6 -.4 1.7 -.3 1.6 -.2 1.7 -.1 1.6 -.1 1.7 -.1 1.6 0 1.7 0 1.6 .1 1.7 0 1.6 0 1.7 0" stroke="#cceaf5"/>
<path d="M747 134.5l1 .4 1.7 -.6 1.6 -1.1 1.7 -1.4 1.6 -1.4 1.7 -1.3 1.6 -1.3 1.7 -1.2 1.6 -1 1.7 -.8 1.6 -.7 1.7 -.5 1.6 -.3 1.7 -.3 1.6 -.2 1.7 -.2 1.6 -.4 1.7 -.5 1.7 -.7 1.6 -.8 1.7 -.8 1.6 -.7 1.7 -.7 1.6 -.6 1.7 -.5 1.6 -.4 1.7 -.3 1.6 -.2 1.7 -.1 1.6 -.1 1.7 -.1 1.6 0 1.7 0 1.6 0 1.7 .1 1.6 0 1.7 0" stroke="#ceebf5"/>
<path d="M747 132.2l1 .3 1.7 -.5 1.6 -1.2 1.7 -1.3 1.6 -1.5 1.7 -1.4 1.6 -1.4 1.7 -1.2 1.6 -1 1.7 -.8 1.6 -.7 1.7 -.4 1.6 -.2 1.7 0 1.6 .1 1.7 .1 1.6 0 1.7 -.2 1.7 -.5 1.6 -.6 1.7 -.8 1.6 -.7 1.7 -.7 1.6 -.6 1.7 -.5 1.6 -.4 1.7 -.3 1.6 -.2 1.7 -.1 1.6 -.1 1.7 -.1 1.6 0 1.7 0 1.6 0 1.7 0 1.6 .1 1.7 0" stroke="#d0ebf6"/>
<path d="M747 129.8l1 .4 1.7 -.6 1.6 -1.1 1.7 -1.4 1.6 -1.5 1.7 -1.6 1.6 -1.4 1.7 -1.4 1.6 -1.1 1.7 -.9 1.6 -.7 1.7 -.3 1.6 -.1 1.7 .2 1.6 .4 1.7 .5 1.6 .5 1.7 .1 1.7 -.1 1.6 -.5 1.7 -.6 1.6 -.7 1.7 -.7 1.6 -.6 1.7 -.5 1.6 -.4 1.7 -.3 1.6 -.2 1.7 -.1 1.6 -.1 1.7 -.1 1.6 0 1.7 0 1.6 0 1.7 0 1.6 0 1.7 0" stroke="#d2ecf6"/>
<path d="M747 127.5l1 .3 1.7 -.5 1.6 -1.2 1.7 -1.4 1.6 -1.7 1.7 -1.7 1.6 -1.6 1.7 -1.5 1.6 -1.3 1.7 -1 1.6 -.8 1.7 -.4 1.6 0 1.7 .4 1.6 .8 1.7 .9 1.6 1 1.7 .7 1.7 .2 1.6 -.1 1.7 -.5 1.6 -.6 1.7 -.7 1.6 -.6 1.7 -.5 1.6 -.4 1.7 -.3 1.6 -.2 1.7 -.1 1.6 -.1 1.7 -.1 1.6 0 1.7 0 1.6 0 1.7 0 1.6 0 1.7 0" stroke="#d4edf6"/>
<path d="M747 125.1l1 .3 1.7 -.5 1.6 -1.1 1.7 -1.6 1.6 -1.8 1.7 -1.8 1.6 -1.9 1.7 -1.7 1.6 -1.6 1.7 -1.3 1.6 -.9 1.7 -.5 1.6 0 1.7 .5 1.6 1 1.7 1.5 1.6 1.5 1.7 1.4 1.7 .9 1.6 .3 1.7 -.3 1.6 -.5 1.7 -.6 1.6 -.5 1.7 -.5 1.6 -.4 1.7 -.4 1.6 -.2 1.7 -.2 1.6 -.1 1.7 0 1.6 0 1.7 0 1.6 0 1.7 0 1.6 0 1.7 0" stroke="#d5eef7"/>
<path d="M747 122.7l1 .3 1.7 -.4 1.6 -1.2 1.7 -1.7 1.6 -1.9 1.7 -2.1 1.6 -2.1 1.7 -2 1.6 -1.9 1.7 -1.6 1.6 -1.3 1.7 -.7 1.6 -.2 1.7 .6 1.6 1.3 1.7 1.9 1.6 2.3 1.7 2.2 1.7 1.6 1.6 .9 1.7 .2 1.6 -.3 1.7 -.6 1.6 -.5 1.7 -.5 1.6 -.4 1.7 -.4 1.6 -.2 1.7 -.2 1.6 -.1 1.7 0 1.6 0 1.7 -.1 1.6 .1 1.7 0 1.6 0 1.7 0" stroke="#d7eef7"/>
<path d="M747 122.5l1 .3 1.7 -.5 1.6 -1.2 1.7 -1.6 1.6 -2 1.7 -2.1 1.6 -2.1 1.7 -2 1.6 -1.9 1.7 -1.6 1.6 -1.3 1.7 -.8 1.6 -.1 1.7 .5 1.6 1.4 1.7 1.9 1.6 2.3 1.7 2.1 1.7 1.7 1.6 .8 1.7 .2 1.6 -.3 1.7 -.5 1.6 -.6 1.7 -.5 1.6 -.4 1.7 -.3 1.6 -.3 1.7 -.2 1.6 -.1 1.7 0 1.6 -.1 1.7 0 1.6 0 1.7 0 1.6 .1 1.7 0" stroke="#d9eff7"/>
<path d="M747 122.2l1 .3 1.7 -.5 1.6 -1.1 1.7 -1.7 1.6 -2 1.7 -2.1 1.6 -2.1 1.7 -2 1.6 -1.9 1.7 -1.6 1.6 -1.3 1.7 -.8 1.6 -.2 1.7 .6 1.6 1.3 1.7 2 1.6 2.2 1.7 2.2 1.7 1.6 1.6 .9 1.7 .2 1.6 -.4 1.7 -.5 1.6 -.6 1.7 -.5 1.6 -.4 1.7 -.3 1.6 -.3 1.7 -.2 1.6 -.1 1.7 0 1.6 -.1 1.7 0 1.6 0 1.7 0 1.6 0 1.7 0" stroke="#dbf0f8"/>
<path d="M747 122l1 .2 1.7 -.4 1.6 -1.2 1.7 -1.7 1.6 -1.9 1.7 -2.1 1.6 -2.2 1.7 -2 1.6 -1.9 1.7 -1.6 1.6 -1.3 1.7 -.8 1.6 -.2 1.7 .6 1.6 1.3 1.7 1.9 1.6 2.3 1.7 2.1 1.7 1.7 1.6 .8 1.7 .2 1.6 -.3 1.7 -.6 1.6 -.6 1.7 -.5 1.6 -.4 1.7 -.3 1.6 -.3 1.7 -.2 1.6 -.1 1.7 -.1 1.6 0 1.7 0 1.6 0 1.7 0 1.6 0 1.7 0" stroke="#ddf1f8"/>
<path d="M747 121.7l1 .3 1.7 -.5 1.6 -1.1 1.7 -1.6 1.6 -1.9 1.7 -2 1.6 -2.1 1.7 -1.9 1.6 -1.7 1.7 -1.4 1.6 -1 1.7 -.5 1.6 .3 1.7 1 1.6 1.9 1.7 2.6 1.6 2.9 1.7 2.7 1.7 2.1 1.6 1 1.7 .1 1.6 -.5 1.7 -.8 1.6 -1 1.7 -.9 1.6 -.9 1.7 -.8 1.6 -.8 1.7 -.6 1.6 -.6 1.7 -.6 1.6 -.4 1.7 -.4 1.6 -.2 1.7 -.2 1.6 -.2 1.7 0" stroke="#dff1f8"/>
<path d="M747 121.4l1 .3 1.7 -.5 1.6 -1.1 1.7 -1.7 1.6 -1.9 1.7 -2.1 1.6 -2.1 1.7 -2 1.6 -1.9 1.7 -1.6 1.6 -1.2 1.7 -.7 1.6 -.1 1.7 .7 1.6 1.4 1.7 2.1 1.6 2.3 1.7 2.2 1.7 1.6 1.6 .7 1.7 -.1 1.6 -.7 1.7 -1 1.6 -1 1.7 -1.1 1.6 -.9 1.7 -.9 1.6 -.8 1.7 -.8 1.6 -.6 1.7 -.6 1.6 -.5 1.7 -.4 1.6 -.3 1.7 -.2 1.6 -.2 1.7 0" stroke="#e0f2f9"/>
<path d="M747 121.2l1 .2 1.7 -.4 1.6 -1.2 1.7 -1.7 1.6 -2 1.7 -2.1 1.6 -2.2 1.7 -2.2 1.6 -2 1.7 -1.7 1.6 -1.4 1.7 -1 1.6 -.4 1.7 .2 1.6 1 1.7 1.5 1.6 1.9 1.7 1.6 1.7 1.2 1.6 .3 1.7 -.3 1.6 -.9 1.7 -1.1 1.6 -1.2 1.7 -1.1 1.6 -1.1 1.7 -.9 1.6 -.9 1.7 -.8 1.6 -.7 1.7 -.7 1.6 -.5 1.7 -.4 1.6 -.4 1.7 -.2 1.6 -.2 1.7 0" stroke="#e2f3f9"/>
<path d="M747 120.9l1 .3 1.7 -.5 1.6 -1.2 1.7 -1.7 1.6 -2.1 1.7 -2.2 1.6 -2.3 1.7 -2.2 1.6 -2.2 1.7 -1.9 1.6 -1.6 1.7 -1.3 1.6 -.7 1.7 -.1 1.6 .5 1.7 1 1.6 1.3 1.7 1.1 1.7 .7 1.6 0 1.7 -.6 1.6 -1 1.7 -1.2 1.6 -1.3 1.7 -1.2 1.6 -1.2 1.7 -1 1.6 -1 1.7 -.9 1.6 -.8 1.7 -.6 1.6 -.6 1.7 -.5 1.6 -.3 1.7 -.3 1.6 -.2 1.7 0" stroke="#e4f4f9"/>
<path d="M747 120.6l1 .3 1.7 -.5 1.6 -1.2 1.7 -1.7 1.6 -2.1 1.7 -2.3 1.6 -2.4 1.7 -2.4 1.6 -2.2 1.7 -2.1 1.6 -1.9 1.7 -1.5 1.6 -1 1.7 -.5 1.6 0 1.7 .5 1.6 .7 1.7 .6 1.7 .3 1.6 -.4 1.7 -.8 1.6 -1.2 1.7 -1.4 1.6 -1.4 1.7 -1.3 1.6 -1.2 1.7 -1.2 1.6 -1 1.7 -.9 1.6 -.9 1.7 -.7 1.6 -.6 1.7 -.5 1.6 -.4 1.7 -.3 1.6 -.2 1.7 0" stroke="#e6f4fa"/>
<path d="M747 120.4l1 .2 1.7 -.4 1.6 -1.3 1.7 -1.7 1.6 -2.2 1.7 -2.4 1.6 -2.5 1.7 -2.4 1.6 -2.4 1.7 -2.3 1.6 -2.1 1.7 -1.7 1.6 -1.4 1.7 -.9 1.6 -.4 1.7 -.1 1.6 .2 1.7 .1 1.7 -.2 1.6 -.6 1.7 -1.1 1.6 -1.4 1.7 -1.5 1.6 -1.5 1.7 -1.4 1.6 -1.3 1.7 -1.3 1.6 -1.1 1.7 -1 1.6 -.9 1.7 -.7 1.6 -.7 1.7 -.5 1.6 -.5 1.7 -.3 1.6 -.1 1.7 -.1" stroke="#e8f5fa"/>
<path d="M747 120.1l1 .3 1.7 -.5 1.6 -1.2 1.7 -1.9 1.6 -2.2 1.7 -2.4 1.6 -2.6 1.7 -2.6 1.6 -2.5 1.7 -2.5 1.6 -2.2 1.7 -2 1.6 -1.7 1.7 -1.3 1.6 -.9 1.7 -.6 1.6 -.4 1.7 -.4 1.7 -.6 1.6 -1 1.7 -1.4 1.6 -1.5 1.7 -1.7 1.6 -1.5 1.7 -1.6 1.6 -1.4 1.7 -1.3 1.6 -1.2 1.7 -1 1.6 -1 1.7 -.8 1.6 -.7 1.7 -.6 1.6 -.4 1.7 -.4 1.6 -.1 1.7 -.1" stroke="#e9f6fb"/>
<path d="M747 119.8l1 .3 1.7 -.5 1.6 -1.2 1.7 -1.9 1.6 -2.3 1.7 -2.5 1.6 -2.6 1.7 -2.7 1.6 -2.7 1.7 -2.6 1.6 -2.5 1.7 -2.3 1.6 -2 1.7 -1.7 1.6 -1.3 1.7 -1.1 1.6 -1 1.7 -.9 1.7 -1.1 1.6 -1.3 1.7 -1.6 1.6 -1.7 1.7 -1.8 1.6 -1.7 1.7 -1.6 1.6 -1.5 1.7 -1.4 1.6 -1.2 1.7 -1.2 1.6 -1 1.7 -.9 1.6 -.7 1.7 -.6 1.6 -.5 1.7 -.3 1.6 -.2 1.7 -.1" stroke="#ebf7fb"/>
<path d="M747 119.5l1 .3 1.7 -.4 1.6 -1.3 1.7 -1.9 1.6 -2.3 1.7 -2.6 1.6 -2.8 1.7 -2.8 1.6 -2.8 1.7 -2.8 1.6 -2.7 1.7 -2.5 1.6 -2.3 1.7 -2.1 1.6 -1.9 1.7 -1.6 1.6 -1.4 1.7 -1.5 1.7 -1.5 1.6 -1.7 1.7 -1.8 1.6 -1.9 1.7 -1.9 1.6 -1.8 1.7 -1.7 1.6 -1.6 1.7 -1.5 1.6 -1.3 1.7 -1.2 1.6 -1.1 1.7 -.9 1.6 -.8 1.7 -.7 1.6 -.5 1.7 -.3 1.6 -.2 1.7 -.1" stroke="#edf7fb"/>
<path d="M747 119.3l1 .3 1.7 -.5 1.6 -1.3 1.7 -1.9 1.6 -2.4 1.7 -2.7 1.6 -2.8 1.7 -2.9 1.6 -3 1.7 -3 1.6 -2.8 1.7 -2.8 1.6 -2.7 1.7 -2.5 1.6 -2.3 1.7 -2.1 1.6 -2 1.7 -2 1.7 -2 1.6 -2 1.7 -2.1 1.6 -2.1 1.7 -2 1.6 -1.9 1.7 -1.8 1.6 -1.7 1.7 -1.5 1.6 -1.4 1.7 -1.3 1.6 -1.1 1.7 -1 1.6 -.8 1.7 -.7 1.6 -.5 1.7 -.4 1.6 -.2 1.7 -.1" stroke="#eff8fc"/>
<path d="M747 119l1 .3 1.7 -.5 1.6 -1.3 1.7 -1.9 1.6 -2.4 1.7 -2.7 1.6 -2.9 1.7 -3 1.6 -3 1.7 -3 1.6 -3 1.7 -2.9 1.6 -2.8 1.7 -2.6 1.6 -2.5 1.7 -2.4 1.6 -2.2 1.7 -2.2 1.7 -2.2 1.6 -2.2 1.7 -2.1 1.6 -2.2 1.7 -2.1 1.6 -1.9 1.7 -1.9 1.6 -1.7 1.7 -1.6 1.6 -1.4 1.7 -1.3 1.6 -1.2 1.7 -1 1.6 -.8 1.7 -.7 1.6 -.5 1.7 -.4 1.6 -.3 1.7 0" stroke="#f1f9fc"/>
<path d="M747 118.7l1 .3 1.7 -.4 1.6 -1.3 1.7 -2 1.6 -2.4 1.7 -2.8 1.6 -2.9 1.7 -3 1.6 -3.1 1.7 -3.1 1.6 -3.1 1.7 -3 1.6 -2.9 1.7 -2.8 1.6 -2.7 1.7 -2.6 1.6 -2.4 1.7 -2.4 1.7 -2.4 1.6 -2.3 1.7 -2.3 1.6 -2.2 1.7 -2.2 1.6 -2 1.7 -1.9 1.6 -1.7 1.7 -1.6 1.6 -1.5 1.7 -1.3 1.6 -1.2 1.7 -1 1.6 -.9 1.7 -.7 1.6 -.6 1.7 -.4 1.6 -.2 1.7 -.1" stroke="#f2fafc"/>
<path d="M747 118.5l1 .3 1.7 -.5 1.6 -1.3 1.7 -2 1.6 -2.4 1.7 -2.8 1.6 -3 1.7 -3.1 1.6 -3.1 1.7 -3.2 1.6 -3.1 1.7 -3.2 1.6 -3 1.7 -3 1.6 -2.9 1.7 -2.8 1.6 -2.7 1.7 -2.6 1.7 -2.5 1.6 -2.5 1.7 -2.4 1.6 -2.3 1.7 -2.1 1.6 -2.1 1.7 -1.9 1.6 -1.8 1.7 -1.7 1.6 -1.5 1.7 -1.3 1.6 -1.2 1.7 -1.1 1.6 -.9 1.7 -.7 1.6 -.6 1.7 -.4 1.6 -.2 1.7 -.1" stroke="#f4fafd"/>
<path d="M747 118.2l1 .3 1.7 -.5 1.6 -1.3 1.7 -2 1.6 -2.5 1.7 -2.8 1.6 -3 1.7 -3.1 1.6 -3.2 1.7 -3.3 1.6 -3.2 1.7 -3.2 1.6 -3.2 1.7 -3.2 1.6 -3.1 1.7 -3 1.6 -2.9 1.7 -2.8 1.7 -2.7 1.6 -2.6 1.7 -2.5 1.6 -2.4 1.7 -2.2 1.6 -2.2 1.7 -1.9 1.6 -1.9 1.7 -1.6 1.6 -1.6 1.7 -1.4 1.6 -1.2 1.7 -1.1 1.6 -.9 1.7 -.7 1.6 -.6 1.7 -.4 1.6 -.3 1.7 -.1" stroke="#f6fbfd"/>
<path d="M747 275.1l1 -.1 1.7 .2 1.6 .3 1.7 .6 1.6 .9 1.7 1 1.6 1.3 1.7 1.5 1.6 1.7 1.7 1.9 1.6 2.1 1.7 2.2 1.6 2.3 1.7 2.5 1.6 2.6 1.7 2.6 1.6 2.8 1.7 2.7 1.7 2.8 1.6 2.8 1.7 2.7 1.6 2.8 1.7 2.6 1.6 2.6 1.7 2.5 1.6 2.3 1.7 2.2 1.6 2.1 1.7 1.9 1.6 1.7 1.7 1.5 1.6 1.3 1.7 1 1.6 .9 1.7 .6 1.6 .3 1.7 .2" stroke="#ff0000" stroke-width="2.9"/>
</g>
<use href="#hd" transform="matrix(-1 0 0 1 1496.0 0)"/>
<g id="qd" fill="#000">
<path d="M784.4 505.8 782.7 503.4 781.1 500.7 779.4 498.1 777.8 496.1 776.1 495 774.4 494.9 772.8 495.3 771.1 496.1 769.5 497 767.8 497.9 766.2 498.7 764.5 499.5 762.9 500.2 761.2 500.9 759.6 501.4 757.9 501.9 756.3 502.4 754.6 502.7 753 503 751.3 503.2 749.7 503.3 748 503.4 747.5 503.4 747.5 507 748 507 749.7 506.9 751.3 506.8 753 506.5 754.6 506.2 756.3 505.8 757.9 505.3 759.6 504.7 761.2 504.1 762.9 503.3 764.5 502.4 766.2 501.5 767.8 500.5 769.5 499.4 771.1 498.3 772.8 497.2 774.4 496.5 776.1 496.3 777.8 497 779.4 498.7 781.1 501 782.7 503.5 784.4 505.8Z"/>
<path d="M784.4 508.4 782.7 506.6 781.1 504.4 779.4 502.4 777.8 500.8 776.1 500.1 774.4 500.2 772.8 500.8 771.1 501.7 769.5 502.7 767.8 503.7 766.2 504.6 764.5 505.4 762.9 506.2 761.2 506.9 759.6 507.6 757.9 508.1 756.3 508.6 754.6 509 753 509.3 751.3 509.5 749.7 509.6 748 509.7 747.5 509.7 747.5 513.3 748 513.3 749.7 513.2 751.3 513.1 753 512.8 754.6 512.5 756.3 512 757.9 511.5 759.6 510.8 761.2 510.1 762.9 509.3 764.5 508.3 766.2 507.3 767.8 506.2 769.5 505 771.1 503.7 772.8 502.6 774.4 501.6 776.1 501.2 777.8 501.6 779.4 502.8 781.1 504.6 782.7 506.6 784.4 508.4Z"/>
<path d="M782.7 509.7 781.1 508.2 779.4 506.7 777.8 505.6 776.1 505.2 774.4 505.5 772.8 506.3 771.1 507.3 769.5 508.4 767.8 509.5 766.2 510.5 764.5 511.4 762.9 512.2 761.2 513 759.6 513.7 757.9 514.3 756.3 514.8 754.6 515.2 753 515.5 751.3 515.8 749.7 515.9 748 516 747.5 516 747.5 519.6 748 519.6 749.7 519.5 751.3 519.3 753 519.1 754.6 518.7 756.3 518.2 757.9 517.6 759.6 516.9 761.2 516.1 762.9 515.2 764.5 514.2 766.2 513.1 767.8 511.9 769.5 510.6 771.1 509.2 772.8 507.9 774.4 506.8 776.1 506.1 777.8 506.1 779.4 506.9 781.1 508.2 782.7 509.7Z"/>
<path d="M779.4 511 777.8 510.4 776.1 510.3 774.4 510.9 772.8 511.8 771.1 513 769.5 514.1 767.8 515.3 766.2 516.3 764.5 517.3 762.9 518.2 761.2 519.1 759.6 519.8 757.9 520.4 756.3 521 754.6 521.4 753 521.8 751.3 522 749.7 522.2 748 522.3 747.5 522.3 747.5 525.9 748 525.9 749.7 525.8 751.3 525.6 753 525.3 754.6 524.9 756.3 524.4 757.9 523.8 759.6 523 761.2 522.2 762.9 521.2 764.5 520.1 766.2 518.9 767.8 517.5 769.5 516.1 771.1 514.7 772.8 513.2 774.4 511.9 776.1 511 777.8 510.7 779.4 511Z"/>
<path d="M777.8 515.2 776.1 515.5 774.4 516.3 772.8 517.4 771.1 518.6 769.5 519.9 767.8 521.1 766.2 522.2 764.5 523.3 762.9 524.3 761.2 525.1 759.6 525.9 757.9 526.6 756.3 527.2 754.6 527.7 753 528.1 751.3 528.3 749.7 528.5 748 528.6 747.5 528.6 747.5 532.2 748 532.2 749.7 532.1 751.3 531.9 753 531.6 754.6 531.2 756.3 530.6 757.9 529.9 759.6 529.1 761.2 528.2 762.9 527.1 764.5 525.9 766.2 524.6 767.8 523.2 769.5 521.7 771.1 520.1 772.8 518.5 774.4 517 776.1 515.8 777.8 515.2Z"/>
<path d="M776.1 520.6 774.4 521.7 772.8 522.9 771.1 524.3 769.5 525.6 767.8 526.9 766.2 528.1 764.5 529.3 762.9 530.3 761.2 531.2 759.6 532 757.9 532.8 756.3 533.4 754.6 533.9 753 534.3 751.3 534.6 749.7 534.8 748 534.9 747.5 534.9 747.5 538.5 748 538.5 749.7 538.4 751.3 538.2 753 537.9 754.6 537.4 756.3 536.8 757.9 536.1 759.6 535.2 761.2 534.2 762.9 533.1 764.5 531.8 766.2 530.4 767.8 528.9 769.5 527.2 771.1 525.5 772.8 523.7 774.4 522 776.1 520.6Z"/>
<path d="M774.4 527.1 772.8 528.6 771.1 530 769.5 531.4 767.8 532.8 766.2 534.1 764.5 535.2 762.9 536.3 761.2 537.3 759.6 538.2 757.9 539 756.3 539.6 754.6 540.2 753 540.6 751.3 540.9 749.7 541.1 748 541.2 747.5 541.2 747.5 544.8 748 544.8 749.7 544.7 751.3 544.5 753 544.1 754.6 543.6 756.3 543 757.9 542.2 759.6 541.3 761.2 540.2 762.9 539 764.5 537.6 766.2 536.1 767.8 534.5 769.5 532.7 771.1 530.8 772.8 528.9 774.4 527.1Z"/>
<path d="M772.8 534.1 771.1 535.8 769.5 537.3 767.8 538.7 766.2 540 764.5 541.3 762.9 542.4 761.2 543.4 759.6 544.3 757.9 545.1 756.3 545.8 754.6 546.4 753 546.9 751.3 547.2 749.7 547.4 748 547.5 747.5 547.5 747.5 551.1 748 551.1 749.7 551 751.3 550.8 753 550.4 754.6 549.9 756.3 549.2 757.9 548.4 759.6 547.4 761.2 546.2 762.9 544.9 764.5 543.4 766.2 541.8 767.8 540 769.5 538.1 771.1 536.1 772.8 534.1Z"/>
<path d="M771.1 541.5 769.5 543.2 767.8 544.7 766.2 546 764.5 547.3 762.9 548.5 761.2 549.5 759.6 550.5 757.9 551.3 756.3 552.1 754.6 552.7 753 553.1 751.3 553.5 749.7 553.7 748 553.8 747.5 553.8 747.5 557.4 748 557.4 749.7 557.3 751.3 557.1 753 556.7 754.6 556.1 756.3 555.4 757.9 554.5 759.6 553.4 761.2 552.2 762.9 550.8 764.5 549.2 766.2 547.5 767.8 545.6 769.5 543.5 771.1 541.5Z"/>
<path d="M771.1 108.2 772.8 110.5 774.4 113 776.1 115.3 777.8 117 779.4 117.7 781.1 117.5 782.7 116.8 784.4 115.7 786 114.6 787.7 113.5 789.3 112.5 791 111.6 792.6 110.7 794.3 109.9 795.9 109.3 797.6 108.7 799.2 108.2 800.9 107.8 802.5 107.5 804.2 107.2 805.8 107.1 807.5 107 807.5 110.6 805.8 110.7 804.2 110.8 802.5 111 800.9 111.3 799.2 111.6 797.6 112.1 795.9 112.6 794.3 113.1 792.6 113.8 791 114.5 789.3 115.3 787.7 116.1 786 117 784.4 117.9 782.7 118.7 781.1 119.1 779.4 119 777.8 117.9 776.1 115.9 774.4 113.3 772.8 110.6 771.1 108.2Z"/>
<path d="M771.1 105.6 772.8 107.4 774.4 109.4 776.1 111.2 777.8 112.4 779.4 112.8 781.1 112.4 782.7 111.4 784.4 110.3 786 109 787.7 107.8 789.3 106.7 791 105.7 792.6 104.7 794.3 103.9 795.9 103.2 797.6 102.5 799.2 102 800.9 101.5 802.5 101.2 804.2 100.9 805.8 100.8 807.5 100.7 807.5 104.3 805.8 104.4 804.2 104.5 802.5 104.7 800.9 105 799.2 105.4 797.6 105.9 795.9 106.4 794.3 107.1 792.6 107.8 791 108.6 789.3 109.4 787.7 110.3 786 111.3 784.4 112.3 782.7 113.2 781.1 113.8 779.4 113.9 777.8 113.2 776.1 111.6 774.4 109.6 772.8 107.4 771.1 105.6Z"/>
<path d="M772.8 104.3 774.4 105.8 776.1 107.1 777.8 107.9 779.4 107.9 781.1 107.2 782.7 106.1 784.4 104.8 786 103.4 787.7 102.1 789.3 100.9 791 99.8 792.6 98.8 794.3 97.9 795.9 97.1 797.6 96.4 799.2 95.8 800.9 95.3 802.5 94.9 804.2 94.7 805.8 94.5 807.5 94.4 807.5 98 805.8 98.1 804.2 98.2 802.5 98.5 800.9 98.8 799.2 99.2 797.6 99.7 795.9 100.3 794.3 101 792.6 101.8 791 102.6 789.3 103.5 787.7 104.5 786 105.6 784.4 106.7 782.7 107.7 781.1 108.5 779.4 108.8 777.8 108.4 776.1 107.3 774.4 105.8 772.8 104.3Z"/>
<path d="M776.1 103 777.8 103.3 779.4 103 781.1 102.1 782.7 100.8 784.4 99.3 786 97.9 787.7 96.5 789.3 95.1 791 93.9 792.6 92.8 794.3 91.8 795.9 91 797.6 90.2 799.2 89.6 800.9 89.1 802.5 88.7 804.2 88.4 805.8 88.2 807.5 88.1 807.5 91.7 805.8 91.8 804.2 92 802.5 92.2 800.9 92.6 799.2 93 797.6 93.6 795.9 94.2 794.3 94.9 792.6 95.8 791 96.7 789.3 97.7 787.7 98.7 786 99.9 784.4 101 782.7 102.2 781.1 103.1 779.4 103.7 777.8 103.6 776.1 103Z"/>
<path d="M777.8 98.8 779.4 98.2 781.1 97 782.7 95.5 784.4 93.9 786 92.3 787.7 90.8 789.3 89.4 791 88.1 792.6 86.9 794.3 85.8 795.9 84.9 797.6 84.1 799.2 83.4 800.9 82.8 802.5 82.4 804.2 82.1 805.8 81.9 807.5 81.8 807.5 85.4 805.8 85.5 804.2 85.7 802.5 85.9 800.9 86.3 799.2 86.8 797.6 87.4 795.9 88.1 794.3 88.9 792.6 89.7 791 90.7 789.3 91.8 787.7 92.9 786 94.1 784.4 95.4 782.7 96.6 781.1 97.7 779.4 98.5 777.8 98.8Z"/>
<path d="M779.4 93.4 781.1 92 782.7 90.3 784.4 88.5 786 86.8 787.7 85.1 789.3 83.6 791 82.2 792.6 80.9 794.3 79.8 795.9 78.8 797.6 77.9 799.2 77.2 800.9 76.6 802.5 76.1 804.2 75.8 805.8 75.6 807.5 75.5 807.5 79.1 805.8 79.2 804.2 79.4 802.5 79.7 800.9 80.1 799.2 80.6 797.6 81.2 795.9 82 794.3 82.8 792.6 83.7 791 84.7 789.3 85.9 787.7 87.1 786 88.4 784.4 89.7 782.7 91.1 781.1 92.3 779.4 93.4Z"/>
<path d="M781.1 86.9 782.7 85.1 784.4 83.2 786 81.3 787.7 79.5 789.3 77.9 791 76.4 792.6 75 794.3 73.8 795.9 72.7 797.6 71.8 799.2 71 800.9 70.4 802.5 69.9 804.2 69.5 805.8 69.3 807.5 69.2 807.5 72.8 805.8 72.9 804.2 73.1 802.5 73.4 800.9 73.8 799.2 74.4 797.6 75 795.9 75.8 794.3 76.7 792.6 77.7 791 78.8 789.3 79.9 787.7 81.2 786 82.6 784.4 84 782.7 85.4 781.1 86.9Z"/>
<path d="M782.7 79.9 784.4 77.9 786 75.9 787.7 74 789.3 72.2 791 70.6 792.6 69.1 794.3 67.8 795.9 66.6 797.6 65.6 799.2 64.8 800.9 64.1 802.5 63.6 804.2 63.2 805.8 63 807.5 62.9 807.5 66.5 805.8 66.6 804.2 66.8 802.5 67.1 800.9 67.6 799.2 68.2 797.6 68.9 795.9 69.7 794.3 70.6 792.6 71.6 791 72.7 789.3 74 787.7 75.3 786 76.7 784.4 78.2 782.7 79.9Z"/>
<path d="M784.4 72.5 786 70.5 787.7 68.4 789.3 66.5 791 64.8 792.6 63.2 794.3 61.8 795.9 60.6 797.6 59.5 799.2 58.6 800.9 57.9 802.5 57.3 804.2 56.9 805.8 56.7 807.5 56.6 807.5 60.2 805.8 60.3 804.2 60.5 802.5 60.9 800.9 61.3 799.2 61.9 797.6 62.7 795.9 63.5 794.3 64.5 792.6 65.5 791 66.7 789.3 68 787.7 69.3 786 70.8 784.4 72.5Z"/>
</g>
<use href="#qd" transform="matrix(-1 0 0 1 1496.0 0)"/>
</g>
<text x="675.1" y="103.4" class="tk" text-anchor="end">4</text>
<text x="675.1" y="209.9" class="tk" text-anchor="end">2</text>
<text x="675.1" y="316.4" class="tk" text-anchor="end">0</text>
<text x="675.1" y="422.9" class="tk" text-anchor="end">-2</text>
<text x="675.1" y="529.4" class="tk" text-anchor="end">-4</text>
<text x="622.4" y="25.3" class="lab">(d)</text>
<text transform="translate(647.6,306) rotate(-90)" class="el" text-anchor="middle">E(eV)</text>
<text x="689.5" y="601.5" class="xt" text-anchor="middle">−π/a</text>
<text x="748.0" y="600" class="xt" text-anchor="middle">0</text>
<text x="807.5" y="601.5" class="xt" text-anchor="middle">π/a</text>
<text x="318.3" y="661" style="font-size:35px">Momentum</text>
<text x="502.4" y="661" style="font-size:35px">k<tspan dx="-4.3" dy="9" style="font-size:23px">x</tspan></text>
<text x="-0.6" y="724" class="lab">(e)</text>
<rect x="64" y="733" width="244" height="183" fill="#9fd69d"/>
<rect x="308" y="733" width="248.4" height="183" fill="#c1b1d7"/>
<rect x="556.4" y="733" width="250.8" height="183" fill="#fffaa2"/>
<line x1="312" y1="914.3" x2="556" y2="914.3" stroke="#e2d8ee" stroke-width="1"/>
<line x1="64.2" y1="733.5" x2="64.2" y2="918" stroke="#000" stroke-width="3.4"/>
<line x1="62.5" y1="916.5" x2="807.6" y2="916.5" stroke="#000" stroke-width="2.6"/>
<polyline points="64,915.7 309.5,915.7 309.5,785.9 807.2,785.9" fill="none" stroke="#000" stroke-width="5"/>
<line x1="52.8" y1="785.4" x2="63" y2="785.4" stroke="#000" stroke-width="2"/>
<line x1="52.8" y1="916.7" x2="63" y2="916.7" stroke="#000" stroke-width="2"/>
<line x1="63.2" y1="917" x2="63.2" y2="926.3" stroke="#000" stroke-width="2"/>
<line x1="309.5" y1="917" x2="309.5" y2="926.3" stroke="#000" stroke-width="2"/>
<line x1="556.4" y1="917" x2="556.4" y2="926.3" stroke="#000" stroke-width="2"/>
<line x1="802.8" y1="917" x2="802.8" y2="926.3" stroke="#000" stroke-width="2"/>
<text x="45" y="795.5" text-anchor="end" style="font-size:33px">1/2</text>
<text x="46.2" y="926.2" text-anchor="end" style="font-size:33px">0</text>
<text x="2" y="861.5" style="font-size:52px">P</text>
<text x="62.8" y="958.6" text-anchor="middle" style="font-size:32px">0</text>
<text x="310" y="958.6" text-anchor="middle" style="font-size:32px">1</text>
<text x="556" y="958.6" text-anchor="middle" style="font-size:32px">2</text>
<text x="802.5" y="958.6" text-anchor="middle" style="font-size:32px">3</text>
<text x="202" y="835.3" text-anchor="middle" style="font-size:49.5px">OM</text>
<text x="438.5" y="835.3" text-anchor="middle" style="font-size:49.5px">TM</text>
<text x="679.5" y="835.3" text-anchor="middle" style="font-size:49.5px">TI</text>
<rect x="352.2" y="956" width="4.6" height="72.3" fill="#000"/>
<rect x="495.1" y="956" width="4.6" height="72.3" fill="#000"/>
<text x="373" y="1021" style="font-size:68px">t<tspan dx="-2.7" dy="12" style="font-size:44px">2</tspan><tspan dx="0.7" dy="-12">/t</tspan><tspan dx="-1.3" dy="12" style="font-size:44px">1</tspan></text>
<line x1="143.7" y1="575.5" x2="143.7" y2="767" stroke="#ff0000" stroke-width="3"/>
<polygon points="137.89999999999998,763.5 149.5,763.5 143.7,787" fill="#ff0000"/>
<line x1="309.1" y1="575.5" x2="309.1" y2="767.3" stroke="#ff0000" stroke-width="3"/>
<polygon points="303.3,763.8 314.90000000000003,763.8 309.1,787.3" fill="#ff0000"/>
<line x1="509.8" y1="575.5" x2="509.8" y2="761.8" stroke="#ff0000" stroke-width="3"/>
<polygon points="504.0,758.3 515.6,758.3 509.8,781.8" fill="#ff0000"/>
<line x1="726.9" y1="575.5" x2="726.9" y2="761.3" stroke="#ff0000" stroke-width="3"/>
<polygon points="721.1,757.8 732.6999999999999,757.8 726.9,781.3" fill="#ff0000"/>
</svg>
</body></html>
